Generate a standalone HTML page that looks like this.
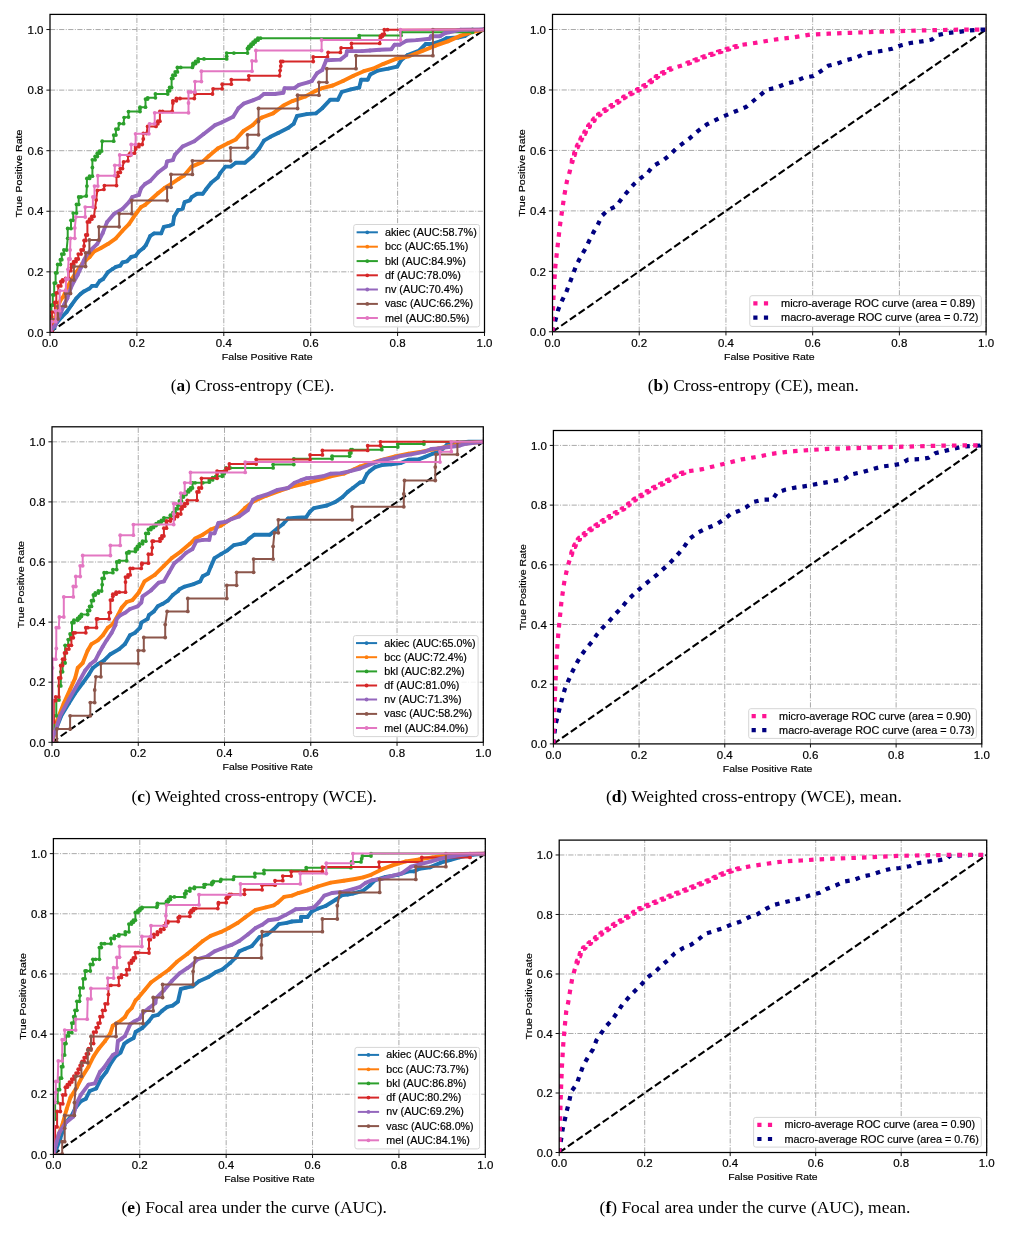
<!DOCTYPE html>
<html><head><meta charset="utf-8"><style>
html,body{margin:0;padding:0;background:#fff;}
svg{display:block;will-change:transform;}
.g{stroke:#aaaaaa;stroke-width:1;stroke-dasharray:5.2 1.45 1.0 1.45;}
.dg{stroke:#000;stroke-width:2.1;stroke-dasharray:7.4 3.2;}
.t{stroke:#111;stroke-width:1;}
.tk{font-family:"Liberation Sans",sans-serif;font-size:10px;fill:#000;stroke:#000;stroke-width:0.18px;}
.al{font-family:"Liberation Sans",sans-serif;font-size:9.9px;fill:#000;stroke:#000;stroke-width:0.18px;}
.lg{font-family:"Liberation Sans",sans-serif;font-size:10px;fill:#000;stroke:#000;stroke-width:0.18px;}
.cap{font-family:"Liberation Serif",serif;font-size:16.5px;fill:#000;}
</style></head><body>
<svg width="1010" height="1233" viewBox="0 0 1010 1233">
<g id="pa">
<clipPath id="ca"><rect x="50" y="14.4" width="434.50" height="318.00"/></clipPath>
<line x1="136.90" y1="332.4" x2="136.90" y2="14.4" class="g"/>
<line x1="50" y1="271.83" x2="484.5" y2="271.83" class="g"/>
<line x1="223.80" y1="332.4" x2="223.80" y2="14.4" class="g"/>
<line x1="50" y1="211.26" x2="484.5" y2="211.26" class="g"/>
<line x1="310.70" y1="332.4" x2="310.70" y2="14.4" class="g"/>
<line x1="50" y1="150.69" x2="484.5" y2="150.69" class="g"/>
<line x1="397.60" y1="332.4" x2="397.60" y2="14.4" class="g"/>
<line x1="50" y1="90.11" x2="484.5" y2="90.11" class="g"/>
<line x1="484.50" y1="332.4" x2="484.50" y2="14.4" class="g"/>
<line x1="50" y1="29.54" x2="484.5" y2="29.54" class="g"/>
<g clip-path="url(#ca)">
<line x1="50" y1="332.4" x2="484.5" y2="29.54" class="dg"/>
<polyline points="50.0,332.4 54.0,328.0 57.0,322.4 61.8,316.9 66.6,312.1 71.4,305.2 76.3,298.3 80.4,294.1 83.9,291.4 89.4,288.6 92.1,285.9 96.3,285.9 99.7,281.0 103.2,279.0 108.0,272.1 112.6,269.0 115.9,266.8 120.3,265.7 122.5,262.4 126.9,261.3 131.2,257.0 135.6,255.9 138.9,251.5 143.3,248.2 146.0,245.0 150.2,236.0 154.1,233.4 161.2,233.4 163.8,226.9 169.7,225.6 172.9,224.3 174.2,216.5 178.1,210.0 182.6,208.7 184.6,202.2 189.8,200.3 191.7,197.1 196.9,193.8 202.7,193.8 206.0,189.3 211.2,182.8 217.7,177.6 220.2,173.1 225.4,166.6 230.6,166.6 235.8,162.7 244.9,162.7 252.7,156.2 259.2,148.4 263.9,140.7 270.4,136.8 278.2,132.9 288.5,127.7 293.7,123.8 297.0,116.0 306.7,114.1 315.8,113.4 322.3,108.2 330.1,99.8 337.8,99.8 341.7,92.0 350.8,89.4 359.2,87.5 361.2,79.7 367.7,79.7 370.3,74.5 377.8,70.6 388.2,68.7 397.2,66.7 401.1,60.2 407.6,55.0 419.3,50.5 425.8,44.0 431.0,44.0 440.1,41.4 446.5,38.2 458.2,37.5 464.7,36.2 473.8,30.4 484.5,29.5" fill="none" stroke="#1f77b4" stroke-width="3.9" stroke-linejoin="round" stroke-linecap="round"/>
<circle cx="50.0" cy="332.4" r="1.9" fill="#1f77b4"/><circle cx="54.0" cy="328.0" r="1.9" fill="#1f77b4"/><circle cx="57.0" cy="322.4" r="1.9" fill="#1f77b4"/><circle cx="61.8" cy="316.9" r="1.9" fill="#1f77b4"/><circle cx="66.6" cy="312.1" r="1.9" fill="#1f77b4"/><circle cx="71.4" cy="305.2" r="1.9" fill="#1f77b4"/><circle cx="76.3" cy="298.3" r="1.9" fill="#1f77b4"/><circle cx="80.4" cy="294.1" r="1.9" fill="#1f77b4"/><circle cx="83.9" cy="291.4" r="1.9" fill="#1f77b4"/><circle cx="89.4" cy="288.6" r="1.9" fill="#1f77b4"/><circle cx="92.1" cy="285.9" r="1.9" fill="#1f77b4"/><circle cx="96.3" cy="285.9" r="1.9" fill="#1f77b4"/><circle cx="99.7" cy="281.0" r="1.9" fill="#1f77b4"/><circle cx="103.2" cy="279.0" r="1.9" fill="#1f77b4"/><circle cx="108.0" cy="272.1" r="1.9" fill="#1f77b4"/><circle cx="112.6" cy="269.0" r="1.9" fill="#1f77b4"/><circle cx="115.9" cy="266.8" r="1.9" fill="#1f77b4"/><circle cx="120.3" cy="265.7" r="1.9" fill="#1f77b4"/><circle cx="122.5" cy="262.4" r="1.9" fill="#1f77b4"/><circle cx="126.9" cy="261.3" r="1.9" fill="#1f77b4"/><circle cx="131.2" cy="257.0" r="1.9" fill="#1f77b4"/><circle cx="135.6" cy="255.9" r="1.9" fill="#1f77b4"/><circle cx="138.9" cy="251.5" r="1.9" fill="#1f77b4"/><circle cx="143.3" cy="248.2" r="1.9" fill="#1f77b4"/><circle cx="146.0" cy="245.0" r="1.9" fill="#1f77b4"/><circle cx="150.2" cy="236.0" r="1.9" fill="#1f77b4"/><circle cx="154.1" cy="233.4" r="1.9" fill="#1f77b4"/><circle cx="161.2" cy="233.4" r="1.9" fill="#1f77b4"/><circle cx="163.8" cy="226.9" r="1.9" fill="#1f77b4"/><circle cx="169.7" cy="225.6" r="1.9" fill="#1f77b4"/><circle cx="172.9" cy="224.3" r="1.9" fill="#1f77b4"/><circle cx="174.2" cy="216.5" r="1.9" fill="#1f77b4"/><circle cx="178.1" cy="210.0" r="1.9" fill="#1f77b4"/><circle cx="182.6" cy="208.7" r="1.9" fill="#1f77b4"/><circle cx="184.6" cy="202.2" r="1.9" fill="#1f77b4"/><circle cx="189.8" cy="200.3" r="1.9" fill="#1f77b4"/><circle cx="191.7" cy="197.1" r="1.9" fill="#1f77b4"/><circle cx="196.9" cy="193.8" r="1.9" fill="#1f77b4"/><circle cx="202.7" cy="193.8" r="1.9" fill="#1f77b4"/><circle cx="206.0" cy="189.3" r="1.9" fill="#1f77b4"/><circle cx="211.2" cy="182.8" r="1.9" fill="#1f77b4"/><circle cx="217.7" cy="177.6" r="1.9" fill="#1f77b4"/><circle cx="220.2" cy="173.1" r="1.9" fill="#1f77b4"/><circle cx="225.4" cy="166.6" r="1.9" fill="#1f77b4"/><circle cx="230.6" cy="166.6" r="1.9" fill="#1f77b4"/><circle cx="235.8" cy="162.7" r="1.9" fill="#1f77b4"/><circle cx="244.9" cy="162.7" r="1.9" fill="#1f77b4"/><circle cx="252.7" cy="156.2" r="1.9" fill="#1f77b4"/><circle cx="259.2" cy="148.4" r="1.9" fill="#1f77b4"/><circle cx="263.9" cy="140.7" r="1.9" fill="#1f77b4"/><circle cx="270.4" cy="136.8" r="1.9" fill="#1f77b4"/><circle cx="278.2" cy="132.9" r="1.9" fill="#1f77b4"/><circle cx="288.5" cy="127.7" r="1.9" fill="#1f77b4"/><circle cx="293.7" cy="123.8" r="1.9" fill="#1f77b4"/><circle cx="297.0" cy="116.0" r="1.9" fill="#1f77b4"/><circle cx="306.7" cy="114.1" r="1.9" fill="#1f77b4"/><circle cx="315.8" cy="113.4" r="1.9" fill="#1f77b4"/><circle cx="322.3" cy="108.2" r="1.9" fill="#1f77b4"/><circle cx="330.1" cy="99.8" r="1.9" fill="#1f77b4"/><circle cx="337.8" cy="99.8" r="1.9" fill="#1f77b4"/><circle cx="341.7" cy="92.0" r="1.9" fill="#1f77b4"/><circle cx="350.8" cy="89.4" r="1.9" fill="#1f77b4"/><circle cx="359.2" cy="87.5" r="1.9" fill="#1f77b4"/><circle cx="361.2" cy="79.7" r="1.9" fill="#1f77b4"/><circle cx="367.7" cy="79.7" r="1.9" fill="#1f77b4"/><circle cx="370.3" cy="74.5" r="1.9" fill="#1f77b4"/><circle cx="377.8" cy="70.6" r="1.9" fill="#1f77b4"/><circle cx="388.2" cy="68.7" r="1.9" fill="#1f77b4"/><circle cx="397.2" cy="66.7" r="1.9" fill="#1f77b4"/><circle cx="401.1" cy="60.2" r="1.9" fill="#1f77b4"/><circle cx="407.6" cy="55.0" r="1.9" fill="#1f77b4"/><circle cx="419.3" cy="50.5" r="1.9" fill="#1f77b4"/><circle cx="425.8" cy="44.0" r="1.9" fill="#1f77b4"/><circle cx="431.0" cy="44.0" r="1.9" fill="#1f77b4"/><circle cx="440.1" cy="41.4" r="1.9" fill="#1f77b4"/><circle cx="446.5" cy="38.2" r="1.9" fill="#1f77b4"/><circle cx="458.2" cy="37.5" r="1.9" fill="#1f77b4"/><circle cx="464.7" cy="36.2" r="1.9" fill="#1f77b4"/><circle cx="473.8" cy="30.4" r="1.9" fill="#1f77b4"/><circle cx="484.5" cy="29.5" r="1.9" fill="#1f77b4"/>
<polyline points="50.0,332.4 53.0,325.0 56.0,315.0 58.5,305.0 61.1,299.0 63.2,296.9 67.0,288.0 71.0,280.0 76.3,272.1 82.0,264.0 86.0,260.0 89.6,257.0 94.0,251.5 100.6,248.2 108.2,243.8 115.9,238.3 122.5,230.7 129.0,224.1 135.6,214.2 141.1,207.0 145.0,205.0 150.2,200.3 158.0,193.2 164.5,188.0 170.9,184.1 178.7,178.9 183.9,175.7 191.7,166.6 202.1,162.1 208.6,156.2 217.7,148.4 228.0,143.2 235.8,139.4 243.6,130.9 252.7,125.1 257.9,119.9 262.0,117.5 273.0,113.4 283.4,105.6 292.4,101.1 305.4,96.5 314.5,91.4 322.3,88.1 332.7,85.5 343.0,81.0 353.4,75.8 363.8,71.2 372.9,68.7 383.0,64.1 396.0,58.9 408.9,56.3 421.9,51.1 434.9,45.9 447.8,41.4 460.8,35.6 473.8,31.7 484.5,29.5" fill="none" stroke="#ff7f0e" stroke-width="3.9" stroke-linejoin="round" stroke-linecap="round"/>
<circle cx="50.0" cy="332.4" r="1.9" fill="#ff7f0e"/><circle cx="53.0" cy="325.0" r="1.9" fill="#ff7f0e"/><circle cx="56.0" cy="315.0" r="1.9" fill="#ff7f0e"/><circle cx="58.5" cy="305.0" r="1.9" fill="#ff7f0e"/><circle cx="61.1" cy="299.0" r="1.9" fill="#ff7f0e"/><circle cx="63.2" cy="296.9" r="1.9" fill="#ff7f0e"/><circle cx="67.0" cy="288.0" r="1.9" fill="#ff7f0e"/><circle cx="71.0" cy="280.0" r="1.9" fill="#ff7f0e"/><circle cx="76.3" cy="272.1" r="1.9" fill="#ff7f0e"/><circle cx="82.0" cy="264.0" r="1.9" fill="#ff7f0e"/><circle cx="86.0" cy="260.0" r="1.9" fill="#ff7f0e"/><circle cx="89.6" cy="257.0" r="1.9" fill="#ff7f0e"/><circle cx="94.0" cy="251.5" r="1.9" fill="#ff7f0e"/><circle cx="100.6" cy="248.2" r="1.9" fill="#ff7f0e"/><circle cx="108.2" cy="243.8" r="1.9" fill="#ff7f0e"/><circle cx="115.9" cy="238.3" r="1.9" fill="#ff7f0e"/><circle cx="122.5" cy="230.7" r="1.9" fill="#ff7f0e"/><circle cx="129.0" cy="224.1" r="1.9" fill="#ff7f0e"/><circle cx="135.6" cy="214.2" r="1.9" fill="#ff7f0e"/><circle cx="141.1" cy="207.0" r="1.9" fill="#ff7f0e"/><circle cx="145.0" cy="205.0" r="1.9" fill="#ff7f0e"/><circle cx="150.2" cy="200.3" r="1.9" fill="#ff7f0e"/><circle cx="158.0" cy="193.2" r="1.9" fill="#ff7f0e"/><circle cx="164.5" cy="188.0" r="1.9" fill="#ff7f0e"/><circle cx="170.9" cy="184.1" r="1.9" fill="#ff7f0e"/><circle cx="178.7" cy="178.9" r="1.9" fill="#ff7f0e"/><circle cx="183.9" cy="175.7" r="1.9" fill="#ff7f0e"/><circle cx="191.7" cy="166.6" r="1.9" fill="#ff7f0e"/><circle cx="202.1" cy="162.1" r="1.9" fill="#ff7f0e"/><circle cx="208.6" cy="156.2" r="1.9" fill="#ff7f0e"/><circle cx="217.7" cy="148.4" r="1.9" fill="#ff7f0e"/><circle cx="228.0" cy="143.2" r="1.9" fill="#ff7f0e"/><circle cx="235.8" cy="139.4" r="1.9" fill="#ff7f0e"/><circle cx="243.6" cy="130.9" r="1.9" fill="#ff7f0e"/><circle cx="252.7" cy="125.1" r="1.9" fill="#ff7f0e"/><circle cx="257.9" cy="119.9" r="1.9" fill="#ff7f0e"/><circle cx="262.0" cy="117.5" r="1.9" fill="#ff7f0e"/><circle cx="273.0" cy="113.4" r="1.9" fill="#ff7f0e"/><circle cx="283.4" cy="105.6" r="1.9" fill="#ff7f0e"/><circle cx="292.4" cy="101.1" r="1.9" fill="#ff7f0e"/><circle cx="305.4" cy="96.5" r="1.9" fill="#ff7f0e"/><circle cx="314.5" cy="91.4" r="1.9" fill="#ff7f0e"/><circle cx="322.3" cy="88.1" r="1.9" fill="#ff7f0e"/><circle cx="332.7" cy="85.5" r="1.9" fill="#ff7f0e"/><circle cx="343.0" cy="81.0" r="1.9" fill="#ff7f0e"/><circle cx="353.4" cy="75.8" r="1.9" fill="#ff7f0e"/><circle cx="363.8" cy="71.2" r="1.9" fill="#ff7f0e"/><circle cx="372.9" cy="68.7" r="1.9" fill="#ff7f0e"/><circle cx="383.0" cy="64.1" r="1.9" fill="#ff7f0e"/><circle cx="396.0" cy="58.9" r="1.9" fill="#ff7f0e"/><circle cx="408.9" cy="56.3" r="1.9" fill="#ff7f0e"/><circle cx="421.9" cy="51.1" r="1.9" fill="#ff7f0e"/><circle cx="434.9" cy="45.9" r="1.9" fill="#ff7f0e"/><circle cx="447.8" cy="41.4" r="1.9" fill="#ff7f0e"/><circle cx="460.8" cy="35.6" r="1.9" fill="#ff7f0e"/><circle cx="473.8" cy="31.7" r="1.9" fill="#ff7f0e"/><circle cx="484.5" cy="29.5" r="1.9" fill="#ff7f0e"/>
<polyline points="50.0,332.4 50.8,331.4 51.4,316.2 51.4,305.2 52.8,305.2 52.8,294.8 54.2,294.8 54.2,283.1 55.6,283.1 55.6,272.8 57.0,272.8 57.7,264.5 60.4,264.5 60.4,259.7 61.8,259.7 61.8,254.1 63.9,254.1 63.9,250.0 66.6,250.0 67.7,238.3 67.7,228.5 71.0,228.5 71.0,220.3 73.2,220.3 73.2,213.1 76.5,213.1 76.5,204.4 78.7,204.4 78.7,197.0 80.9,197.0 86.3,196.0 86.9,186.1 86.9,178.4 89.6,178.4 89.6,176.2 92.4,176.2 92.4,167.5 92.4,159.8 95.1,159.8 95.1,156.5 97.3,156.5 97.3,153.2 99.5,153.2 99.5,151.1 101.7,151.1 102.2,141.2 113.7,141.2 113.7,135.1 115.9,135.1 115.9,129.1 118.1,129.1 119.2,123.7 123.6,123.7 124.1,117.6 128.5,117.1 128.5,111.6 140.0,111.6 140.0,108.9 140.0,107.2 145.5,107.2 145.5,99.1 147.6,99.1 147.6,97.8 155.4,97.8 155.4,94.0 167.7,94.0 167.7,90.8 169.6,90.8 169.6,87.5 171.6,87.5 171.6,78.4 172.9,78.4 172.9,75.2 175.2,75.2 175.2,71.9 177.4,71.9 177.4,67.4 180.7,67.4 192.4,67.4 193.0,65.4 193.0,63.5 195.6,63.5 195.6,61.5 198.2,61.5 198.2,58.9 204.0,58.9 226.7,58.9 226.7,56.3 226.7,53.1 233.9,53.1 247.5,53.1 247.5,48.5 248.8,48.5 248.8,46.4 251.0,46.4 251.0,44.2 253.1,44.2 253.1,42.1 255.3,42.1 255.3,40.2 257.9,40.2 257.9,38.2 260.5,38.2 359.2,38.2 359.2,35.6 401.1,35.6 401.1,32.3 472.5,32.3 472.5,29.5 484.5,29.5" fill="none" stroke="#2ca02c" stroke-width="2" stroke-linejoin="round" stroke-linecap="round"/>
<circle cx="50.0" cy="332.4" r="1.9" fill="#2ca02c"/><circle cx="50.8" cy="331.4" r="1.9" fill="#2ca02c"/><circle cx="51.4" cy="316.2" r="1.9" fill="#2ca02c"/><circle cx="51.4" cy="305.2" r="1.9" fill="#2ca02c"/><circle cx="52.8" cy="305.2" r="1.9" fill="#2ca02c"/><circle cx="52.8" cy="294.8" r="1.9" fill="#2ca02c"/><circle cx="54.2" cy="294.8" r="1.9" fill="#2ca02c"/><circle cx="54.2" cy="283.1" r="1.9" fill="#2ca02c"/><circle cx="55.6" cy="283.1" r="1.9" fill="#2ca02c"/><circle cx="55.6" cy="272.8" r="1.9" fill="#2ca02c"/><circle cx="57.0" cy="272.8" r="1.9" fill="#2ca02c"/><circle cx="57.7" cy="264.5" r="1.9" fill="#2ca02c"/><circle cx="60.4" cy="264.5" r="1.9" fill="#2ca02c"/><circle cx="60.4" cy="259.7" r="1.9" fill="#2ca02c"/><circle cx="61.8" cy="259.7" r="1.9" fill="#2ca02c"/><circle cx="61.8" cy="254.1" r="1.9" fill="#2ca02c"/><circle cx="63.9" cy="254.1" r="1.9" fill="#2ca02c"/><circle cx="63.9" cy="250.0" r="1.9" fill="#2ca02c"/><circle cx="66.6" cy="250.0" r="1.9" fill="#2ca02c"/><circle cx="67.7" cy="238.3" r="1.9" fill="#2ca02c"/><circle cx="67.7" cy="228.5" r="1.9" fill="#2ca02c"/><circle cx="71.0" cy="228.5" r="1.9" fill="#2ca02c"/><circle cx="71.0" cy="220.3" r="1.9" fill="#2ca02c"/><circle cx="73.2" cy="220.3" r="1.9" fill="#2ca02c"/><circle cx="73.2" cy="213.1" r="1.9" fill="#2ca02c"/><circle cx="76.5" cy="213.1" r="1.9" fill="#2ca02c"/><circle cx="76.5" cy="204.4" r="1.9" fill="#2ca02c"/><circle cx="78.7" cy="204.4" r="1.9" fill="#2ca02c"/><circle cx="78.7" cy="197.0" r="1.9" fill="#2ca02c"/><circle cx="80.9" cy="197.0" r="1.9" fill="#2ca02c"/><circle cx="86.3" cy="196.0" r="1.9" fill="#2ca02c"/><circle cx="86.9" cy="186.1" r="1.9" fill="#2ca02c"/><circle cx="86.9" cy="178.4" r="1.9" fill="#2ca02c"/><circle cx="89.6" cy="178.4" r="1.9" fill="#2ca02c"/><circle cx="89.6" cy="176.2" r="1.9" fill="#2ca02c"/><circle cx="92.4" cy="176.2" r="1.9" fill="#2ca02c"/><circle cx="92.4" cy="167.5" r="1.9" fill="#2ca02c"/><circle cx="92.4" cy="159.8" r="1.9" fill="#2ca02c"/><circle cx="95.1" cy="159.8" r="1.9" fill="#2ca02c"/><circle cx="95.1" cy="156.5" r="1.9" fill="#2ca02c"/><circle cx="97.3" cy="156.5" r="1.9" fill="#2ca02c"/><circle cx="97.3" cy="153.2" r="1.9" fill="#2ca02c"/><circle cx="99.5" cy="153.2" r="1.9" fill="#2ca02c"/><circle cx="99.5" cy="151.1" r="1.9" fill="#2ca02c"/><circle cx="101.7" cy="151.1" r="1.9" fill="#2ca02c"/><circle cx="102.2" cy="141.2" r="1.9" fill="#2ca02c"/><circle cx="113.7" cy="141.2" r="1.9" fill="#2ca02c"/><circle cx="113.7" cy="135.1" r="1.9" fill="#2ca02c"/><circle cx="115.9" cy="135.1" r="1.9" fill="#2ca02c"/><circle cx="115.9" cy="129.1" r="1.9" fill="#2ca02c"/><circle cx="118.1" cy="129.1" r="1.9" fill="#2ca02c"/><circle cx="119.2" cy="123.7" r="1.9" fill="#2ca02c"/><circle cx="123.6" cy="123.7" r="1.9" fill="#2ca02c"/><circle cx="124.1" cy="117.6" r="1.9" fill="#2ca02c"/><circle cx="128.5" cy="117.1" r="1.9" fill="#2ca02c"/><circle cx="128.5" cy="111.6" r="1.9" fill="#2ca02c"/><circle cx="140.0" cy="111.6" r="1.9" fill="#2ca02c"/><circle cx="140.0" cy="108.9" r="1.9" fill="#2ca02c"/><circle cx="140.0" cy="107.2" r="1.9" fill="#2ca02c"/><circle cx="145.5" cy="107.2" r="1.9" fill="#2ca02c"/><circle cx="145.5" cy="99.1" r="1.9" fill="#2ca02c"/><circle cx="147.6" cy="99.1" r="1.9" fill="#2ca02c"/><circle cx="147.6" cy="97.8" r="1.9" fill="#2ca02c"/><circle cx="155.4" cy="97.8" r="1.9" fill="#2ca02c"/><circle cx="155.4" cy="94.0" r="1.9" fill="#2ca02c"/><circle cx="167.7" cy="94.0" r="1.9" fill="#2ca02c"/><circle cx="167.7" cy="90.8" r="1.9" fill="#2ca02c"/><circle cx="169.6" cy="90.8" r="1.9" fill="#2ca02c"/><circle cx="169.6" cy="87.5" r="1.9" fill="#2ca02c"/><circle cx="171.6" cy="87.5" r="1.9" fill="#2ca02c"/><circle cx="171.6" cy="78.4" r="1.9" fill="#2ca02c"/><circle cx="172.9" cy="78.4" r="1.9" fill="#2ca02c"/><circle cx="172.9" cy="75.2" r="1.9" fill="#2ca02c"/><circle cx="175.2" cy="75.2" r="1.9" fill="#2ca02c"/><circle cx="175.2" cy="71.9" r="1.9" fill="#2ca02c"/><circle cx="177.4" cy="71.9" r="1.9" fill="#2ca02c"/><circle cx="177.4" cy="67.4" r="1.9" fill="#2ca02c"/><circle cx="180.7" cy="67.4" r="1.9" fill="#2ca02c"/><circle cx="192.4" cy="67.4" r="1.9" fill="#2ca02c"/><circle cx="193.0" cy="65.4" r="1.9" fill="#2ca02c"/><circle cx="193.0" cy="63.5" r="1.9" fill="#2ca02c"/><circle cx="195.6" cy="63.5" r="1.9" fill="#2ca02c"/><circle cx="195.6" cy="61.5" r="1.9" fill="#2ca02c"/><circle cx="198.2" cy="61.5" r="1.9" fill="#2ca02c"/><circle cx="198.2" cy="58.9" r="1.9" fill="#2ca02c"/><circle cx="204.0" cy="58.9" r="1.9" fill="#2ca02c"/><circle cx="226.7" cy="58.9" r="1.9" fill="#2ca02c"/><circle cx="226.7" cy="56.3" r="1.9" fill="#2ca02c"/><circle cx="226.7" cy="53.1" r="1.9" fill="#2ca02c"/><circle cx="233.9" cy="53.1" r="1.9" fill="#2ca02c"/><circle cx="247.5" cy="53.1" r="1.9" fill="#2ca02c"/><circle cx="247.5" cy="48.5" r="1.9" fill="#2ca02c"/><circle cx="248.8" cy="48.5" r="1.9" fill="#2ca02c"/><circle cx="248.8" cy="46.4" r="1.9" fill="#2ca02c"/><circle cx="251.0" cy="46.4" r="1.9" fill="#2ca02c"/><circle cx="251.0" cy="44.2" r="1.9" fill="#2ca02c"/><circle cx="253.1" cy="44.2" r="1.9" fill="#2ca02c"/><circle cx="253.1" cy="42.1" r="1.9" fill="#2ca02c"/><circle cx="255.3" cy="42.1" r="1.9" fill="#2ca02c"/><circle cx="255.3" cy="40.2" r="1.9" fill="#2ca02c"/><circle cx="257.9" cy="40.2" r="1.9" fill="#2ca02c"/><circle cx="257.9" cy="38.2" r="1.9" fill="#2ca02c"/><circle cx="260.5" cy="38.2" r="1.9" fill="#2ca02c"/><circle cx="359.2" cy="38.2" r="1.9" fill="#2ca02c"/><circle cx="359.2" cy="35.6" r="1.9" fill="#2ca02c"/><circle cx="401.1" cy="35.6" r="1.9" fill="#2ca02c"/><circle cx="401.1" cy="32.3" r="1.9" fill="#2ca02c"/><circle cx="472.5" cy="32.3" r="1.9" fill="#2ca02c"/><circle cx="472.5" cy="29.5" r="1.9" fill="#2ca02c"/><circle cx="484.5" cy="29.5" r="1.9" fill="#2ca02c"/>
<polyline points="50.0,332.4 52.1,331.4 52.1,312.1 54.9,312.1 54.9,302.4 56.3,302.4 56.3,292.8 58.3,292.8 58.3,285.9 60.8,285.9 60.8,281.7 62.5,281.7 62.5,280.0 65.6,280.0 65.6,278.3 68.7,278.3 68.7,270.7 70.8,270.7 71.4,267.2 71.4,264.5 73.7,264.5 73.7,261.7 76.0,261.7 76.0,259.0 78.3,259.0 78.3,254.1 81.1,254.1 81.1,250.0 83.2,250.0 84.1,246.0 84.1,240.5 85.8,240.5 85.8,235.0 87.4,235.0 87.4,221.9 89.6,221.9 89.6,219.2 91.8,219.2 91.8,216.4 94.0,216.4 95.1,207.7 96.2,200.0 97.3,190.5 103.9,189.4 104.4,185.6 116.5,185.6 116.5,176.2 118.1,176.2 118.1,172.4 120.3,172.4 120.3,168.6 122.5,168.6 123.6,162.0 128.0,160.9 128.0,155.4 130.1,155.4 130.1,153.2 134.5,153.2 135.6,148.9 135.6,146.7 138.9,146.7 138.9,144.5 142.2,144.5 143.3,139.0 143.3,133.5 146.6,133.5 147.6,126.4 156.0,126.4 156.0,123.8 157.9,123.8 157.9,121.2 159.9,121.2 159.9,111.5 162.5,111.5 172.2,111.5 172.9,103.0 172.9,100.8 176.4,100.8 176.4,98.5 180.0,98.5 194.3,98.5 195.0,94.0 212.5,94.0 213.1,88.8 222.2,88.8 222.2,84.2 231.3,84.2 231.3,79.7 248.8,79.7 248.8,75.8 279.5,75.8 280.1,70.6 280.8,66.1 280.8,61.5 282.7,61.5 313.2,61.5 313.2,57.0 327.5,57.0 328.1,52.4 340.4,52.4 341.1,47.9 351.5,47.9 351.5,43.4 379.7,43.4 380.4,38.2 380.4,36.2 382.4,36.2 382.4,34.3 384.3,34.3 384.3,29.7 387.5,29.7 484.5,29.5" fill="none" stroke="#d62728" stroke-width="2" stroke-linejoin="round" stroke-linecap="round"/>
<circle cx="50.0" cy="332.4" r="1.9" fill="#d62728"/><circle cx="52.1" cy="331.4" r="1.9" fill="#d62728"/><circle cx="52.1" cy="312.1" r="1.9" fill="#d62728"/><circle cx="54.9" cy="312.1" r="1.9" fill="#d62728"/><circle cx="54.9" cy="302.4" r="1.9" fill="#d62728"/><circle cx="56.3" cy="302.4" r="1.9" fill="#d62728"/><circle cx="56.3" cy="292.8" r="1.9" fill="#d62728"/><circle cx="58.3" cy="292.8" r="1.9" fill="#d62728"/><circle cx="58.3" cy="285.9" r="1.9" fill="#d62728"/><circle cx="60.8" cy="285.9" r="1.9" fill="#d62728"/><circle cx="60.8" cy="281.7" r="1.9" fill="#d62728"/><circle cx="62.5" cy="281.7" r="1.9" fill="#d62728"/><circle cx="62.5" cy="280.0" r="1.9" fill="#d62728"/><circle cx="65.6" cy="280.0" r="1.9" fill="#d62728"/><circle cx="65.6" cy="278.3" r="1.9" fill="#d62728"/><circle cx="68.7" cy="278.3" r="1.9" fill="#d62728"/><circle cx="68.7" cy="270.7" r="1.9" fill="#d62728"/><circle cx="70.8" cy="270.7" r="1.9" fill="#d62728"/><circle cx="71.4" cy="267.2" r="1.9" fill="#d62728"/><circle cx="71.4" cy="264.5" r="1.9" fill="#d62728"/><circle cx="73.7" cy="264.5" r="1.9" fill="#d62728"/><circle cx="73.7" cy="261.7" r="1.9" fill="#d62728"/><circle cx="76.0" cy="261.7" r="1.9" fill="#d62728"/><circle cx="76.0" cy="259.0" r="1.9" fill="#d62728"/><circle cx="78.3" cy="259.0" r="1.9" fill="#d62728"/><circle cx="78.3" cy="254.1" r="1.9" fill="#d62728"/><circle cx="81.1" cy="254.1" r="1.9" fill="#d62728"/><circle cx="81.1" cy="250.0" r="1.9" fill="#d62728"/><circle cx="83.2" cy="250.0" r="1.9" fill="#d62728"/><circle cx="84.1" cy="246.0" r="1.9" fill="#d62728"/><circle cx="84.1" cy="240.5" r="1.9" fill="#d62728"/><circle cx="85.8" cy="240.5" r="1.9" fill="#d62728"/><circle cx="85.8" cy="235.0" r="1.9" fill="#d62728"/><circle cx="87.4" cy="235.0" r="1.9" fill="#d62728"/><circle cx="87.4" cy="221.9" r="1.9" fill="#d62728"/><circle cx="89.6" cy="221.9" r="1.9" fill="#d62728"/><circle cx="89.6" cy="219.2" r="1.9" fill="#d62728"/><circle cx="91.8" cy="219.2" r="1.9" fill="#d62728"/><circle cx="91.8" cy="216.4" r="1.9" fill="#d62728"/><circle cx="94.0" cy="216.4" r="1.9" fill="#d62728"/><circle cx="95.1" cy="207.7" r="1.9" fill="#d62728"/><circle cx="96.2" cy="200.0" r="1.9" fill="#d62728"/><circle cx="97.3" cy="190.5" r="1.9" fill="#d62728"/><circle cx="103.9" cy="189.4" r="1.9" fill="#d62728"/><circle cx="104.4" cy="185.6" r="1.9" fill="#d62728"/><circle cx="116.5" cy="185.6" r="1.9" fill="#d62728"/><circle cx="116.5" cy="176.2" r="1.9" fill="#d62728"/><circle cx="118.1" cy="176.2" r="1.9" fill="#d62728"/><circle cx="118.1" cy="172.4" r="1.9" fill="#d62728"/><circle cx="120.3" cy="172.4" r="1.9" fill="#d62728"/><circle cx="120.3" cy="168.6" r="1.9" fill="#d62728"/><circle cx="122.5" cy="168.6" r="1.9" fill="#d62728"/><circle cx="123.6" cy="162.0" r="1.9" fill="#d62728"/><circle cx="128.0" cy="160.9" r="1.9" fill="#d62728"/><circle cx="128.0" cy="155.4" r="1.9" fill="#d62728"/><circle cx="130.1" cy="155.4" r="1.9" fill="#d62728"/><circle cx="130.1" cy="153.2" r="1.9" fill="#d62728"/><circle cx="134.5" cy="153.2" r="1.9" fill="#d62728"/><circle cx="135.6" cy="148.9" r="1.9" fill="#d62728"/><circle cx="135.6" cy="146.7" r="1.9" fill="#d62728"/><circle cx="138.9" cy="146.7" r="1.9" fill="#d62728"/><circle cx="138.9" cy="144.5" r="1.9" fill="#d62728"/><circle cx="142.2" cy="144.5" r="1.9" fill="#d62728"/><circle cx="143.3" cy="139.0" r="1.9" fill="#d62728"/><circle cx="143.3" cy="133.5" r="1.9" fill="#d62728"/><circle cx="146.6" cy="133.5" r="1.9" fill="#d62728"/><circle cx="147.6" cy="126.4" r="1.9" fill="#d62728"/><circle cx="156.0" cy="126.4" r="1.9" fill="#d62728"/><circle cx="156.0" cy="123.8" r="1.9" fill="#d62728"/><circle cx="157.9" cy="123.8" r="1.9" fill="#d62728"/><circle cx="157.9" cy="121.2" r="1.9" fill="#d62728"/><circle cx="159.9" cy="121.2" r="1.9" fill="#d62728"/><circle cx="159.9" cy="111.5" r="1.9" fill="#d62728"/><circle cx="162.5" cy="111.5" r="1.9" fill="#d62728"/><circle cx="172.2" cy="111.5" r="1.9" fill="#d62728"/><circle cx="172.9" cy="103.0" r="1.9" fill="#d62728"/><circle cx="172.9" cy="100.8" r="1.9" fill="#d62728"/><circle cx="176.4" cy="100.8" r="1.9" fill="#d62728"/><circle cx="176.4" cy="98.5" r="1.9" fill="#d62728"/><circle cx="180.0" cy="98.5" r="1.9" fill="#d62728"/><circle cx="194.3" cy="98.5" r="1.9" fill="#d62728"/><circle cx="195.0" cy="94.0" r="1.9" fill="#d62728"/><circle cx="212.5" cy="94.0" r="1.9" fill="#d62728"/><circle cx="213.1" cy="88.8" r="1.9" fill="#d62728"/><circle cx="222.2" cy="88.8" r="1.9" fill="#d62728"/><circle cx="222.2" cy="84.2" r="1.9" fill="#d62728"/><circle cx="231.3" cy="84.2" r="1.9" fill="#d62728"/><circle cx="231.3" cy="79.7" r="1.9" fill="#d62728"/><circle cx="248.8" cy="79.7" r="1.9" fill="#d62728"/><circle cx="248.8" cy="75.8" r="1.9" fill="#d62728"/><circle cx="279.5" cy="75.8" r="1.9" fill="#d62728"/><circle cx="280.1" cy="70.6" r="1.9" fill="#d62728"/><circle cx="280.8" cy="66.1" r="1.9" fill="#d62728"/><circle cx="280.8" cy="61.5" r="1.9" fill="#d62728"/><circle cx="282.7" cy="61.5" r="1.9" fill="#d62728"/><circle cx="313.2" cy="61.5" r="1.9" fill="#d62728"/><circle cx="313.2" cy="57.0" r="1.9" fill="#d62728"/><circle cx="327.5" cy="57.0" r="1.9" fill="#d62728"/><circle cx="328.1" cy="52.4" r="1.9" fill="#d62728"/><circle cx="340.4" cy="52.4" r="1.9" fill="#d62728"/><circle cx="341.1" cy="47.9" r="1.9" fill="#d62728"/><circle cx="351.5" cy="47.9" r="1.9" fill="#d62728"/><circle cx="351.5" cy="43.4" r="1.9" fill="#d62728"/><circle cx="379.7" cy="43.4" r="1.9" fill="#d62728"/><circle cx="380.4" cy="38.2" r="1.9" fill="#d62728"/><circle cx="380.4" cy="36.2" r="1.9" fill="#d62728"/><circle cx="382.4" cy="36.2" r="1.9" fill="#d62728"/><circle cx="382.4" cy="34.3" r="1.9" fill="#d62728"/><circle cx="384.3" cy="34.3" r="1.9" fill="#d62728"/><circle cx="384.3" cy="29.7" r="1.9" fill="#d62728"/><circle cx="387.5" cy="29.7" r="1.9" fill="#d62728"/><circle cx="484.5" cy="29.5" r="1.9" fill="#d62728"/>
<polyline points="50.0,332.4 51.3,329.2 54.9,325.9 59.7,315.5 63.9,305.2 67.3,298.3 70.8,287.9 74.2,281.0 77.7,274.8 81.1,267.2 83.9,260.3 87.3,254.1 90.8,250.0 97.3,243.8 102.8,232.9 107.1,221.9 113.7,214.2 122.5,208.8 129.0,202.2 132.3,197.0 138.9,194.9 141.1,188.3 145.0,184.0 150.2,181.0 158.0,172.5 165.8,166.6 167.1,161.4 172.9,160.1 174.8,154.9 182.6,146.5 194.3,141.3 203.4,134.2 215.1,125.1 221.5,122.5 233.2,116.7 238.4,108.2 243.6,103.7 252.7,100.4 259.2,97.8 263.9,94.0 274.9,94.0 283.4,92.7 284.6,88.1 294.4,88.1 298.9,84.9 308.0,82.3 311.9,81.0 317.1,73.2 322.3,70.0 326.2,60.2 340.4,59.6 346.3,55.0 346.9,51.1 361.8,51.1 370.0,50.5 379.7,49.8 391.4,49.2 394.6,44.7 399.8,44.7 406.3,40.8 416.7,40.1 429.7,38.8 431.0,36.2 440.1,36.2 445.2,33.0 449.1,32.3 460.8,29.7 484.5,29.5" fill="none" stroke="#9467bd" stroke-width="3.9" stroke-linejoin="round" stroke-linecap="round"/>
<circle cx="50.0" cy="332.4" r="1.9" fill="#9467bd"/><circle cx="51.3" cy="329.2" r="1.9" fill="#9467bd"/><circle cx="54.9" cy="325.9" r="1.9" fill="#9467bd"/><circle cx="59.7" cy="315.5" r="1.9" fill="#9467bd"/><circle cx="63.9" cy="305.2" r="1.9" fill="#9467bd"/><circle cx="67.3" cy="298.3" r="1.9" fill="#9467bd"/><circle cx="70.8" cy="287.9" r="1.9" fill="#9467bd"/><circle cx="74.2" cy="281.0" r="1.9" fill="#9467bd"/><circle cx="77.7" cy="274.8" r="1.9" fill="#9467bd"/><circle cx="81.1" cy="267.2" r="1.9" fill="#9467bd"/><circle cx="83.9" cy="260.3" r="1.9" fill="#9467bd"/><circle cx="87.3" cy="254.1" r="1.9" fill="#9467bd"/><circle cx="90.8" cy="250.0" r="1.9" fill="#9467bd"/><circle cx="97.3" cy="243.8" r="1.9" fill="#9467bd"/><circle cx="102.8" cy="232.9" r="1.9" fill="#9467bd"/><circle cx="107.1" cy="221.9" r="1.9" fill="#9467bd"/><circle cx="113.7" cy="214.2" r="1.9" fill="#9467bd"/><circle cx="122.5" cy="208.8" r="1.9" fill="#9467bd"/><circle cx="129.0" cy="202.2" r="1.9" fill="#9467bd"/><circle cx="132.3" cy="197.0" r="1.9" fill="#9467bd"/><circle cx="138.9" cy="194.9" r="1.9" fill="#9467bd"/><circle cx="141.1" cy="188.3" r="1.9" fill="#9467bd"/><circle cx="145.0" cy="184.0" r="1.9" fill="#9467bd"/><circle cx="150.2" cy="181.0" r="1.9" fill="#9467bd"/><circle cx="158.0" cy="172.5" r="1.9" fill="#9467bd"/><circle cx="165.8" cy="166.6" r="1.9" fill="#9467bd"/><circle cx="167.1" cy="161.4" r="1.9" fill="#9467bd"/><circle cx="172.9" cy="160.1" r="1.9" fill="#9467bd"/><circle cx="174.8" cy="154.9" r="1.9" fill="#9467bd"/><circle cx="182.6" cy="146.5" r="1.9" fill="#9467bd"/><circle cx="194.3" cy="141.3" r="1.9" fill="#9467bd"/><circle cx="203.4" cy="134.2" r="1.9" fill="#9467bd"/><circle cx="215.1" cy="125.1" r="1.9" fill="#9467bd"/><circle cx="221.5" cy="122.5" r="1.9" fill="#9467bd"/><circle cx="233.2" cy="116.7" r="1.9" fill="#9467bd"/><circle cx="238.4" cy="108.2" r="1.9" fill="#9467bd"/><circle cx="243.6" cy="103.7" r="1.9" fill="#9467bd"/><circle cx="252.7" cy="100.4" r="1.9" fill="#9467bd"/><circle cx="259.2" cy="97.8" r="1.9" fill="#9467bd"/><circle cx="263.9" cy="94.0" r="1.9" fill="#9467bd"/><circle cx="274.9" cy="94.0" r="1.9" fill="#9467bd"/><circle cx="283.4" cy="92.7" r="1.9" fill="#9467bd"/><circle cx="284.6" cy="88.1" r="1.9" fill="#9467bd"/><circle cx="294.4" cy="88.1" r="1.9" fill="#9467bd"/><circle cx="298.9" cy="84.9" r="1.9" fill="#9467bd"/><circle cx="308.0" cy="82.3" r="1.9" fill="#9467bd"/><circle cx="311.9" cy="81.0" r="1.9" fill="#9467bd"/><circle cx="317.1" cy="73.2" r="1.9" fill="#9467bd"/><circle cx="322.3" cy="70.0" r="1.9" fill="#9467bd"/><circle cx="326.2" cy="60.2" r="1.9" fill="#9467bd"/><circle cx="340.4" cy="59.6" r="1.9" fill="#9467bd"/><circle cx="346.3" cy="55.0" r="1.9" fill="#9467bd"/><circle cx="346.9" cy="51.1" r="1.9" fill="#9467bd"/><circle cx="361.8" cy="51.1" r="1.9" fill="#9467bd"/><circle cx="370.0" cy="50.5" r="1.9" fill="#9467bd"/><circle cx="379.7" cy="49.8" r="1.9" fill="#9467bd"/><circle cx="391.4" cy="49.2" r="1.9" fill="#9467bd"/><circle cx="394.6" cy="44.7" r="1.9" fill="#9467bd"/><circle cx="399.8" cy="44.7" r="1.9" fill="#9467bd"/><circle cx="406.3" cy="40.8" r="1.9" fill="#9467bd"/><circle cx="416.7" cy="40.1" r="1.9" fill="#9467bd"/><circle cx="429.7" cy="38.8" r="1.9" fill="#9467bd"/><circle cx="431.0" cy="36.2" r="1.9" fill="#9467bd"/><circle cx="440.1" cy="36.2" r="1.9" fill="#9467bd"/><circle cx="445.2" cy="33.0" r="1.9" fill="#9467bd"/><circle cx="449.1" cy="32.3" r="1.9" fill="#9467bd"/><circle cx="460.8" cy="29.7" r="1.9" fill="#9467bd"/><circle cx="484.5" cy="29.5" r="1.9" fill="#9467bd"/>
<polyline points="50.0,332.4 50.1,319.0 58.0,319.0 58.0,306.2 65.6,306.2 65.6,293.4 70.5,293.4 70.5,280.0 73.9,280.0 73.9,266.6 85.6,266.6 85.6,252.8 89.4,252.8 89.4,240.0 98.9,240.0 98.9,226.8 119.2,226.8 119.2,213.7 131.8,213.7 131.8,200.5 167.1,200.5 167.1,187.3 171.0,187.3 171.0,174.4 192.4,174.4 192.4,160.8 230.6,160.8 230.6,147.8 247.5,147.8 247.5,134.8 258.5,134.8 258.5,121.5 258.5,108.5 297.6,108.5 297.6,95.2 319.0,95.2 319.0,82.3 326.8,82.3 326.8,68.7 356.0,68.7 356.0,55.7 432.9,55.7 432.9,29.6 484.5,29.5" fill="none" stroke="#8c564b" stroke-width="2" stroke-linejoin="round" stroke-linecap="round"/>
<circle cx="50.0" cy="332.4" r="1.9" fill="#8c564b"/><circle cx="50.1" cy="319.0" r="1.9" fill="#8c564b"/><circle cx="58.0" cy="319.0" r="1.9" fill="#8c564b"/><circle cx="58.0" cy="306.2" r="1.9" fill="#8c564b"/><circle cx="65.6" cy="306.2" r="1.9" fill="#8c564b"/><circle cx="65.6" cy="293.4" r="1.9" fill="#8c564b"/><circle cx="70.5" cy="293.4" r="1.9" fill="#8c564b"/><circle cx="70.5" cy="280.0" r="1.9" fill="#8c564b"/><circle cx="73.9" cy="280.0" r="1.9" fill="#8c564b"/><circle cx="73.9" cy="266.6" r="1.9" fill="#8c564b"/><circle cx="85.6" cy="266.6" r="1.9" fill="#8c564b"/><circle cx="85.6" cy="252.8" r="1.9" fill="#8c564b"/><circle cx="89.4" cy="252.8" r="1.9" fill="#8c564b"/><circle cx="89.4" cy="240.0" r="1.9" fill="#8c564b"/><circle cx="98.9" cy="240.0" r="1.9" fill="#8c564b"/><circle cx="98.9" cy="226.8" r="1.9" fill="#8c564b"/><circle cx="119.2" cy="226.8" r="1.9" fill="#8c564b"/><circle cx="119.2" cy="213.7" r="1.9" fill="#8c564b"/><circle cx="131.8" cy="213.7" r="1.9" fill="#8c564b"/><circle cx="131.8" cy="200.5" r="1.9" fill="#8c564b"/><circle cx="167.1" cy="200.5" r="1.9" fill="#8c564b"/><circle cx="167.1" cy="187.3" r="1.9" fill="#8c564b"/><circle cx="171.0" cy="187.3" r="1.9" fill="#8c564b"/><circle cx="171.0" cy="174.4" r="1.9" fill="#8c564b"/><circle cx="192.4" cy="174.4" r="1.9" fill="#8c564b"/><circle cx="192.4" cy="160.8" r="1.9" fill="#8c564b"/><circle cx="230.6" cy="160.8" r="1.9" fill="#8c564b"/><circle cx="230.6" cy="147.8" r="1.9" fill="#8c564b"/><circle cx="247.5" cy="147.8" r="1.9" fill="#8c564b"/><circle cx="247.5" cy="134.8" r="1.9" fill="#8c564b"/><circle cx="258.5" cy="134.8" r="1.9" fill="#8c564b"/><circle cx="258.5" cy="121.5" r="1.9" fill="#8c564b"/><circle cx="258.5" cy="108.5" r="1.9" fill="#8c564b"/><circle cx="297.6" cy="108.5" r="1.9" fill="#8c564b"/><circle cx="297.6" cy="95.2" r="1.9" fill="#8c564b"/><circle cx="319.0" cy="95.2" r="1.9" fill="#8c564b"/><circle cx="319.0" cy="82.3" r="1.9" fill="#8c564b"/><circle cx="326.8" cy="82.3" r="1.9" fill="#8c564b"/><circle cx="326.8" cy="68.7" r="1.9" fill="#8c564b"/><circle cx="356.0" cy="68.7" r="1.9" fill="#8c564b"/><circle cx="356.0" cy="55.7" r="1.9" fill="#8c564b"/><circle cx="432.9" cy="55.7" r="1.9" fill="#8c564b"/><circle cx="432.9" cy="29.6" r="1.9" fill="#8c564b"/><circle cx="484.5" cy="29.5" r="1.9" fill="#8c564b"/>
<polyline points="50.0,332.4 50.8,331.4 51.4,321.7 55.6,321.7 55.6,310.7 59.7,310.7 59.7,290.7 65.9,290.7 65.9,279.0 68.0,279.0 68.0,269.3 68.7,259.0 70.1,259.0 70.1,250.0 70.5,238.3 74.8,238.3 74.8,227.9 75.9,217.0 85.2,217.0 85.2,207.1 92.9,207.1 92.9,197.0 94.5,197.0 94.5,186.1 97.8,186.1 97.8,175.7 114.8,175.7 114.8,165.3 119.7,165.3 119.7,154.9 131.2,154.9 131.2,144.5 135.6,144.5 135.6,133.8 148.9,133.8 149.5,123.8 154.7,123.8 154.7,112.8 188.5,112.8 188.5,103.0 188.5,92.0 191.1,92.0 195.0,92.0 195.0,81.6 201.4,81.6 201.4,71.2 252.0,71.2 252.0,60.9 255.9,60.9 255.9,50.5 321.6,50.5 321.6,40.0 400.5,40.0 400.5,29.7 484.5,29.5" fill="none" stroke="#e377c2" stroke-width="2" stroke-linejoin="round" stroke-linecap="round"/>
<circle cx="50.0" cy="332.4" r="1.9" fill="#e377c2"/><circle cx="50.8" cy="331.4" r="1.9" fill="#e377c2"/><circle cx="51.4" cy="321.7" r="1.9" fill="#e377c2"/><circle cx="55.6" cy="321.7" r="1.9" fill="#e377c2"/><circle cx="55.6" cy="310.7" r="1.9" fill="#e377c2"/><circle cx="59.7" cy="310.7" r="1.9" fill="#e377c2"/><circle cx="59.7" cy="290.7" r="1.9" fill="#e377c2"/><circle cx="65.9" cy="290.7" r="1.9" fill="#e377c2"/><circle cx="65.9" cy="279.0" r="1.9" fill="#e377c2"/><circle cx="68.0" cy="279.0" r="1.9" fill="#e377c2"/><circle cx="68.0" cy="269.3" r="1.9" fill="#e377c2"/><circle cx="68.7" cy="259.0" r="1.9" fill="#e377c2"/><circle cx="70.1" cy="259.0" r="1.9" fill="#e377c2"/><circle cx="70.1" cy="250.0" r="1.9" fill="#e377c2"/><circle cx="70.5" cy="238.3" r="1.9" fill="#e377c2"/><circle cx="74.8" cy="238.3" r="1.9" fill="#e377c2"/><circle cx="74.8" cy="227.9" r="1.9" fill="#e377c2"/><circle cx="75.9" cy="217.0" r="1.9" fill="#e377c2"/><circle cx="85.2" cy="217.0" r="1.9" fill="#e377c2"/><circle cx="85.2" cy="207.1" r="1.9" fill="#e377c2"/><circle cx="92.9" cy="207.1" r="1.9" fill="#e377c2"/><circle cx="92.9" cy="197.0" r="1.9" fill="#e377c2"/><circle cx="94.5" cy="197.0" r="1.9" fill="#e377c2"/><circle cx="94.5" cy="186.1" r="1.9" fill="#e377c2"/><circle cx="97.8" cy="186.1" r="1.9" fill="#e377c2"/><circle cx="97.8" cy="175.7" r="1.9" fill="#e377c2"/><circle cx="114.8" cy="175.7" r="1.9" fill="#e377c2"/><circle cx="114.8" cy="165.3" r="1.9" fill="#e377c2"/><circle cx="119.7" cy="165.3" r="1.9" fill="#e377c2"/><circle cx="119.7" cy="154.9" r="1.9" fill="#e377c2"/><circle cx="131.2" cy="154.9" r="1.9" fill="#e377c2"/><circle cx="131.2" cy="144.5" r="1.9" fill="#e377c2"/><circle cx="135.6" cy="144.5" r="1.9" fill="#e377c2"/><circle cx="135.6" cy="133.8" r="1.9" fill="#e377c2"/><circle cx="148.9" cy="133.8" r="1.9" fill="#e377c2"/><circle cx="149.5" cy="123.8" r="1.9" fill="#e377c2"/><circle cx="154.7" cy="123.8" r="1.9" fill="#e377c2"/><circle cx="154.7" cy="112.8" r="1.9" fill="#e377c2"/><circle cx="188.5" cy="112.8" r="1.9" fill="#e377c2"/><circle cx="188.5" cy="103.0" r="1.9" fill="#e377c2"/><circle cx="188.5" cy="92.0" r="1.9" fill="#e377c2"/><circle cx="191.1" cy="92.0" r="1.9" fill="#e377c2"/><circle cx="195.0" cy="92.0" r="1.9" fill="#e377c2"/><circle cx="195.0" cy="81.6" r="1.9" fill="#e377c2"/><circle cx="201.4" cy="81.6" r="1.9" fill="#e377c2"/><circle cx="201.4" cy="71.2" r="1.9" fill="#e377c2"/><circle cx="252.0" cy="71.2" r="1.9" fill="#e377c2"/><circle cx="252.0" cy="60.9" r="1.9" fill="#e377c2"/><circle cx="255.9" cy="60.9" r="1.9" fill="#e377c2"/><circle cx="255.9" cy="50.5" r="1.9" fill="#e377c2"/><circle cx="321.6" cy="50.5" r="1.9" fill="#e377c2"/><circle cx="321.6" cy="40.0" r="1.9" fill="#e377c2"/><circle cx="400.5" cy="40.0" r="1.9" fill="#e377c2"/><circle cx="400.5" cy="29.7" r="1.9" fill="#e377c2"/><circle cx="484.5" cy="29.5" r="1.9" fill="#e377c2"/>
</g>
<rect x="50" y="14.4" width="434.50" height="318.00" fill="none" stroke="#000" stroke-width="1.25"/>
<line x1="50.00" y1="332.4" x2="50.00" y2="336.00" class="t"/>
<line x1="46.40" y1="332.40" x2="50" y2="332.40" class="t"/>
<text x="42.00" y="347.20" class="tk" textLength="16" lengthAdjust="spacingAndGlyphs">0.0</text>
<text x="27.50" y="336.60" class="tk" textLength="16" lengthAdjust="spacingAndGlyphs">0.0</text>
<line x1="136.90" y1="332.4" x2="136.90" y2="336.00" class="t"/>
<line x1="46.40" y1="271.83" x2="50" y2="271.83" class="t"/>
<text x="128.90" y="347.20" class="tk" textLength="16" lengthAdjust="spacingAndGlyphs">0.2</text>
<text x="27.50" y="276.03" class="tk" textLength="16" lengthAdjust="spacingAndGlyphs">0.2</text>
<line x1="223.80" y1="332.4" x2="223.80" y2="336.00" class="t"/>
<line x1="46.40" y1="211.26" x2="50" y2="211.26" class="t"/>
<text x="215.80" y="347.20" class="tk" textLength="16" lengthAdjust="spacingAndGlyphs">0.4</text>
<text x="27.50" y="215.46" class="tk" textLength="16" lengthAdjust="spacingAndGlyphs">0.4</text>
<line x1="310.70" y1="332.4" x2="310.70" y2="336.00" class="t"/>
<line x1="46.40" y1="150.69" x2="50" y2="150.69" class="t"/>
<text x="302.70" y="347.20" class="tk" textLength="16" lengthAdjust="spacingAndGlyphs">0.6</text>
<text x="27.50" y="154.89" class="tk" textLength="16" lengthAdjust="spacingAndGlyphs">0.6</text>
<line x1="397.60" y1="332.4" x2="397.60" y2="336.00" class="t"/>
<line x1="46.40" y1="90.11" x2="50" y2="90.11" class="t"/>
<text x="389.60" y="347.20" class="tk" textLength="16" lengthAdjust="spacingAndGlyphs">0.8</text>
<text x="27.50" y="94.31" class="tk" textLength="16" lengthAdjust="spacingAndGlyphs">0.8</text>
<line x1="484.50" y1="332.4" x2="484.50" y2="336.00" class="t"/>
<line x1="46.40" y1="29.54" x2="50" y2="29.54" class="t"/>
<text x="476.50" y="347.20" class="tk" textLength="16" lengthAdjust="spacingAndGlyphs">1.0</text>
<text x="27.50" y="33.74" class="tk" textLength="16" lengthAdjust="spacingAndGlyphs">1.0</text>
<text x="267.25" y="360.20" text-anchor="middle" class="al" textLength="90.8" lengthAdjust="spacingAndGlyphs">False Positive Rate</text>
<text transform="translate(21.90,173.40) rotate(-90)" x="0" y="0" text-anchor="middle" class="al" textLength="88" lengthAdjust="spacingAndGlyphs">True Positive Rate</text>
</g>
<g id="pb">
<clipPath id="cb"><rect x="552.5" y="14.4" width="433.60" height="317.40"/></clipPath>
<line x1="639.22" y1="331.8" x2="639.22" y2="14.4" class="g"/>
<line x1="552.5" y1="271.34" x2="986.1" y2="271.34" class="g"/>
<line x1="725.94" y1="331.8" x2="725.94" y2="14.4" class="g"/>
<line x1="552.5" y1="210.89" x2="986.1" y2="210.89" class="g"/>
<line x1="812.66" y1="331.8" x2="812.66" y2="14.4" class="g"/>
<line x1="552.5" y1="150.43" x2="986.1" y2="150.43" class="g"/>
<line x1="899.38" y1="331.8" x2="899.38" y2="14.4" class="g"/>
<line x1="552.5" y1="89.97" x2="986.1" y2="89.97" class="g"/>
<line x1="986.10" y1="331.8" x2="986.10" y2="14.4" class="g"/>
<line x1="552.5" y1="29.51" x2="986.1" y2="29.51" class="g"/>
<g clip-path="url(#cb)">
<line x1="552.5" y1="331.8" x2="986.1" y2="29.51" class="dg"/>
<polyline points="552.50,331.80 555.40,320.30 558.30,309.40 562.00,300.70 566.30,292.00 569.60,283.30 572.90,274.60 576.10,265.90 580.50,257.10 584.90,249.50 589.20,240.80 593.60,232.10 597.90,224.50 601.90,215.80 607.70,210.30 616.40,206.00 621.90,198.30 627.30,191.80 633.90,184.20 640.40,178.30 648.00,172.60 652.40,166.40 663.30,160.30 669.80,154.90 676.40,148.30 689.40,138.50 698.10,130.90 706.90,124.40 720.00,117.80 733.00,112.40 746.10,106.90 752.60,101.50 760.00,95.40 766.80,89.70 775.90,87.90 785.10,84.00 794.20,81.70 803.30,77.90 813.50,76.00 820.40,71.50 828.30,65.80 837.40,63.50 846.50,60.10 855.60,57.80 864.80,53.70 873.90,52.10 884.10,50.50 892.10,48.70 901.20,45.30 910.30,43.00 921.70,41.40 931.90,39.60 937.60,35.10 949.00,32.80 958.10,32.10 968.40,30.50 978.60,29.80 986.10,29.50" fill="none" stroke="#000080" stroke-width="4.2" stroke-dasharray="4.5 6.1"/>
<polyline points="552.50,331.80 553.00,309.40 553.90,287.60 555.40,265.90 557.60,246.30 559.80,226.60 562.00,211.40 564.20,196.10 567.00,180.90 569.60,172.20 571.80,162.50 571.80,161.73 572.05,161.73 572.05,160.96 572.31,160.96 572.31,160.19 572.56,160.19 572.56,159.42 572.81,159.42 572.81,158.65 573.06,158.65 573.06,157.88 573.32,157.88 573.32,157.11 573.57,157.11 573.57,156.34 573.82,156.34 573.82,155.56 574.08,155.56 574.08,154.79 574.33,154.79 574.33,154.02 574.58,154.02 574.58,153.25 574.84,153.25 574.84,152.48 575.09,152.48 575.09,151.71 575.34,151.71 575.34,150.94 575.59,150.94 575.59,150.17 575.85,150.17 575.85,149.40 576.10,149.40 576.10,148.62 576.49,148.62 576.49,147.84 576.89,147.84 576.89,147.06 577.28,147.06 577.28,146.29 577.67,146.29 577.67,145.51 578.06,145.51 578.06,144.73 578.46,144.73 578.46,143.95 578.85,143.95 578.85,143.17 579.24,143.17 579.24,142.39 579.64,142.39 579.64,141.61 580.03,141.61 580.03,140.84 580.42,140.84 580.42,140.06 580.81,140.06 580.81,139.28 581.21,139.28 581.21,138.50 581.60,138.50 581.60,137.72 582.06,137.72 582.06,136.94 582.53,136.94 582.53,136.16 582.99,136.16 582.99,135.39 583.46,135.39 583.46,134.61 583.92,134.61 583.92,133.83 584.39,133.83 584.39,133.05 584.85,133.05 584.85,132.27 585.31,132.27 585.31,131.49 585.78,131.49 585.78,130.71 586.24,130.71 586.24,129.94 586.71,129.94 586.71,129.16 587.17,129.16 587.17,128.38 587.64,128.38 587.64,127.60 588.10,127.60 588.10,126.85 588.69,126.85 588.69,126.09 589.28,126.09 589.28,125.34 589.88,125.34 589.88,124.58 590.47,124.58 590.47,123.83 591.06,123.83 591.06,123.08 591.65,123.08 591.65,122.32 592.25,122.32 592.25,121.57 592.84,121.57 592.84,120.82 593.43,120.82 593.43,120.06 594.02,120.06 594.02,119.31 594.62,119.31 594.62,118.55 595.21,118.55 595.21,117.80 595.80,117.80 595.80,117.15 596.56,117.15 596.56,116.50 597.32,116.50 597.32,115.85 598.08,115.85 598.08,115.20 598.84,115.20 598.84,114.55 599.60,114.55 599.60,113.90 600.36,113.90 600.36,113.25 601.12,113.25 601.12,112.60 601.88,112.60 601.88,111.95 602.64,111.95 602.64,111.30 603.40,111.30 603.40,110.79 604.20,110.79 604.20,110.29 605.00,110.29 605.00,109.78 605.80,109.78 605.80,109.27 606.60,109.27 606.60,108.77 607.40,108.77 607.40,108.26 608.20,108.26 608.20,107.75 609.00,107.75 609.00,107.25 609.80,107.25 609.80,106.74 610.60,106.74 610.60,106.23 611.40,106.23 611.40,105.73 612.20,105.73 612.20,105.22 613.00,105.22 613.00,104.71 613.80,104.71 613.80,104.21 614.60,104.21 614.60,103.70 615.40,103.70 615.40,103.16 616.18,103.16 616.18,102.61 616.96,102.61 616.96,102.07 617.74,102.07 617.74,101.53 618.51,101.53 618.51,100.99 619.29,100.99 619.29,100.44 620.07,100.44 620.07,99.90 620.85,99.90 620.85,99.36 621.63,99.36 621.63,98.81 622.41,98.81 622.41,98.27 623.19,98.27 623.19,97.73 623.96,97.73 623.96,97.19 624.74,97.19 624.74,96.64 625.52,96.64 625.52,96.10 626.30,96.10 626.30,95.71 627.07,95.71 627.07,95.31 627.84,95.31 627.84,94.92 628.61,94.92 628.61,94.53 629.39,94.53 629.39,94.14 630.16,94.14 630.16,93.74 630.93,93.74 630.93,93.35 631.70,93.35 631.70,92.96 632.47,92.96 632.47,92.56 633.24,92.56 633.24,92.17 634.01,92.17 634.01,91.78 634.79,91.78 634.79,91.39 635.56,91.39 635.56,90.99 636.33,90.99 636.33,90.60 637.10,90.60 637.10,90.14 637.88,90.14 637.88,89.67 638.66,89.67 638.66,89.21 639.44,89.21 639.44,88.74 640.21,88.74 640.21,88.28 640.99,88.28 640.99,87.81 641.77,87.81 641.77,87.35 642.55,87.35 642.55,86.89 643.33,86.89 643.33,86.42 644.11,86.42 644.11,85.96 644.89,85.96 644.89,85.49 645.66,85.49 645.66,85.03 646.44,85.03 646.44,84.56 647.22,84.56 647.22,84.10 648.00,84.10 648.00,83.48 648.78,83.48 648.78,82.86 649.56,82.86 649.56,82.24 650.34,82.24 650.34,81.61 651.11,81.61 651.11,80.99 651.89,80.99 651.89,80.37 652.67,80.37 652.67,79.75 653.45,79.75 653.45,79.13 654.23,79.13 654.23,78.51 655.01,78.51 655.01,77.89 655.79,77.89 655.79,77.26 656.56,77.26 656.56,76.64 657.34,76.64 657.34,76.02 658.12,76.02 658.12,75.40 658.90,75.40 658.90,74.99 659.67,74.99 659.67,74.58 660.44,74.58 660.44,74.16 661.21,74.16 661.21,73.75 661.98,73.75 661.98,73.34 662.75,73.34 662.75,72.93 663.52,72.93 663.52,72.52 664.29,72.52 664.29,72.11 665.06,72.11 665.06,71.69 665.84,71.69 665.84,71.28 666.61,71.28 666.61,70.87 667.38,70.87 667.38,70.46 668.15,70.46 668.15,70.05 668.92,70.05 668.92,69.64 669.69,69.64 669.69,69.22 670.46,69.22 670.46,68.81 671.23,68.81 671.23,68.40 672.00,68.40 685.10,64.50 685.10,64.18 685.89,64.18 685.89,63.86 686.68,63.86 686.68,63.55 687.47,63.55 687.47,63.23 688.26,63.23 688.26,62.91 689.05,62.91 689.05,62.59 689.85,62.59 689.85,62.27 690.64,62.27 690.64,61.95 691.43,61.95 691.43,61.64 692.22,61.64 692.22,61.32 693.01,61.32 693.01,61.00 693.80,61.00 693.80,60.68 694.59,60.68 694.59,60.36 695.38,60.36 695.38,60.05 696.17,60.05 696.17,59.73 696.96,59.73 696.96,59.41 697.75,59.41 697.75,59.09 698.55,59.09 698.55,58.77 699.34,58.77 699.34,58.45 700.13,58.45 700.13,58.14 700.92,58.14 700.92,57.82 701.71,57.82 701.71,57.50 702.50,57.50 702.50,57.24 703.28,57.24 703.28,56.99 704.06,56.99 704.06,56.73 704.84,56.73 704.84,56.47 705.61,56.47 705.61,56.21 706.39,56.21 706.39,55.96 707.17,55.96 707.17,55.70 707.95,55.70 707.95,55.44 708.73,55.44 708.73,55.19 709.51,55.19 709.51,54.93 710.29,54.93 710.29,54.67 711.06,54.67 711.06,54.41 711.84,54.41 711.84,54.16 712.62,54.16 712.62,53.90 713.40,53.90 713.40,53.64 714.18,53.64 714.18,53.39 714.96,53.39 714.96,53.13 715.74,53.13 715.74,52.87 716.51,52.87 716.51,52.61 717.29,52.61 717.29,52.36 718.07,52.36 718.07,52.10 718.85,52.10 718.85,51.84 719.63,51.84 719.63,51.59 720.41,51.59 720.41,51.33 721.19,51.33 721.19,51.07 721.96,51.07 721.96,50.81 722.74,50.81 722.74,50.56 723.52,50.56 723.52,50.30 724.30,50.30 724.30,50.05 725.09,50.05 725.09,49.81 725.88,49.81 725.88,49.56 726.67,49.56 726.67,49.32 727.46,49.32 727.46,49.07 728.25,49.07 728.25,48.83 729.05,48.83 729.05,48.58 729.84,48.58 729.84,48.34 730.63,48.34 730.63,48.09 731.42,48.09 731.42,47.85 732.21,47.85 732.21,47.60 733.00,47.60 733.00,47.35 733.79,47.35 733.79,47.11 734.58,47.11 734.58,46.86 735.37,46.86 735.37,46.62 736.16,46.62 736.16,46.37 736.95,46.37 736.95,46.13 737.75,46.13 737.75,45.88 738.54,45.88 738.54,45.64 739.33,45.64 739.33,45.39 740.12,45.39 740.12,45.15 740.91,45.15 740.91,44.90 741.70,44.90 757.00,42.70 771.40,40.10 782.80,38.50 794.20,37.30 810.10,34.60 828.30,33.70 851.10,32.80 873.90,31.90 896.60,31.20 919.40,30.50 942.20,30.00 965.00,29.60 986.10,29.50" fill="none" stroke="#ff1493" stroke-width="4.2" stroke-dasharray="4.5 6.1"/>
</g>
<rect x="552.5" y="14.4" width="433.60" height="317.40" fill="none" stroke="#000" stroke-width="1.25"/>
<line x1="552.50" y1="331.8" x2="552.50" y2="335.40" class="t"/>
<line x1="548.90" y1="331.80" x2="552.5" y2="331.80" class="t"/>
<text x="544.50" y="346.60" class="tk" textLength="16" lengthAdjust="spacingAndGlyphs">0.0</text>
<text x="530.00" y="336.00" class="tk" textLength="16" lengthAdjust="spacingAndGlyphs">0.0</text>
<line x1="639.22" y1="331.8" x2="639.22" y2="335.40" class="t"/>
<line x1="548.90" y1="271.34" x2="552.5" y2="271.34" class="t"/>
<text x="631.22" y="346.60" class="tk" textLength="16" lengthAdjust="spacingAndGlyphs">0.2</text>
<text x="530.00" y="275.54" class="tk" textLength="16" lengthAdjust="spacingAndGlyphs">0.2</text>
<line x1="725.94" y1="331.8" x2="725.94" y2="335.40" class="t"/>
<line x1="548.90" y1="210.89" x2="552.5" y2="210.89" class="t"/>
<text x="717.94" y="346.60" class="tk" textLength="16" lengthAdjust="spacingAndGlyphs">0.4</text>
<text x="530.00" y="215.09" class="tk" textLength="16" lengthAdjust="spacingAndGlyphs">0.4</text>
<line x1="812.66" y1="331.8" x2="812.66" y2="335.40" class="t"/>
<line x1="548.90" y1="150.43" x2="552.5" y2="150.43" class="t"/>
<text x="804.66" y="346.60" class="tk" textLength="16" lengthAdjust="spacingAndGlyphs">0.6</text>
<text x="530.00" y="154.63" class="tk" textLength="16" lengthAdjust="spacingAndGlyphs">0.6</text>
<line x1="899.38" y1="331.8" x2="899.38" y2="335.40" class="t"/>
<line x1="548.90" y1="89.97" x2="552.5" y2="89.97" class="t"/>
<text x="891.38" y="346.60" class="tk" textLength="16" lengthAdjust="spacingAndGlyphs">0.8</text>
<text x="530.00" y="94.17" class="tk" textLength="16" lengthAdjust="spacingAndGlyphs">0.8</text>
<line x1="986.10" y1="331.8" x2="986.10" y2="335.40" class="t"/>
<line x1="548.90" y1="29.51" x2="552.5" y2="29.51" class="t"/>
<text x="978.10" y="346.60" class="tk" textLength="16" lengthAdjust="spacingAndGlyphs">1.0</text>
<text x="530.00" y="33.71" class="tk" textLength="16" lengthAdjust="spacingAndGlyphs">1.0</text>
<text x="769.30" y="359.60" text-anchor="middle" class="al" textLength="90.6" lengthAdjust="spacingAndGlyphs">False Positive Rate</text>
<text transform="translate(524.90,173.10) rotate(-90)" x="0" y="0" text-anchor="middle" class="al" textLength="87.5" lengthAdjust="spacingAndGlyphs">True Positive Rate</text>
</g>
<g id="pc">
<clipPath id="cc"><rect x="52" y="426.8" width="431.30" height="315.50"/></clipPath>
<line x1="138.26" y1="742.3" x2="138.26" y2="426.8" class="g"/>
<line x1="52" y1="682.20" x2="483.3" y2="682.20" class="g"/>
<line x1="224.52" y1="742.3" x2="224.52" y2="426.8" class="g"/>
<line x1="52" y1="622.11" x2="483.3" y2="622.11" class="g"/>
<line x1="310.78" y1="742.3" x2="310.78" y2="426.8" class="g"/>
<line x1="52" y1="562.01" x2="483.3" y2="562.01" class="g"/>
<line x1="397.04" y1="742.3" x2="397.04" y2="426.8" class="g"/>
<line x1="52" y1="501.92" x2="483.3" y2="501.92" class="g"/>
<line x1="483.30" y1="742.3" x2="483.30" y2="426.8" class="g"/>
<line x1="52" y1="441.82" x2="483.3" y2="441.82" class="g"/>
<g clip-path="url(#cc)">
<line x1="52" y1="742.3" x2="483.3" y2="441.82" class="dg"/>
<polyline points="52.0,742.3 53.8,734.7 61.3,715.8 68.9,703.2 75.2,693.1 82.7,683.1 89.0,674.3 92.8,668.0 97.8,664.2 104.1,660.4 110.4,654.2 119.2,649.1 125.0,644.0 130.0,635.2 135.1,632.7 140.1,627.7 141.3,622.7 147.6,618.9 148.9,615.1 153.9,611.4 157.7,606.3 162.7,603.8 167.7,600.7 172.8,595.0 177.8,591.3 179.5,589.2 184.7,586.6 193.8,584.0 200.2,581.4 202.8,576.2 208.0,573.6 210.6,567.1 214.5,558.1 221.0,554.2 227.5,550.3 234.0,545.1 240.5,543.8 245.2,542.5 249.1,538.6 254.3,534.7 269.8,534.7 277.6,528.2 282.8,524.3 288.0,518.5 297.1,517.8 306.2,517.2 310.1,511.4 314.0,508.1 326.9,505.5 334.7,502.3 342.5,497.1 347.7,491.9 352.9,488.0 360.0,482.5 363.0,481.8 367.0,473.8 369.7,471.1 375.1,467.1 381.8,465.1 391.1,464.4 400.5,463.1 408.5,459.8 419.2,459.1 424.6,457.1 432.6,453.7 440.6,451.1 447.3,444.4 456.7,443.0 468.7,441.8 483.3,441.8" fill="none" stroke="#1f77b4" stroke-width="3.9" stroke-linejoin="round" stroke-linecap="round"/>
<circle cx="52.0" cy="742.3" r="1.9" fill="#1f77b4"/><circle cx="53.8" cy="734.7" r="1.9" fill="#1f77b4"/><circle cx="61.3" cy="715.8" r="1.9" fill="#1f77b4"/><circle cx="68.9" cy="703.2" r="1.9" fill="#1f77b4"/><circle cx="75.2" cy="693.1" r="1.9" fill="#1f77b4"/><circle cx="82.7" cy="683.1" r="1.9" fill="#1f77b4"/><circle cx="89.0" cy="674.3" r="1.9" fill="#1f77b4"/><circle cx="92.8" cy="668.0" r="1.9" fill="#1f77b4"/><circle cx="97.8" cy="664.2" r="1.9" fill="#1f77b4"/><circle cx="104.1" cy="660.4" r="1.9" fill="#1f77b4"/><circle cx="110.4" cy="654.2" r="1.9" fill="#1f77b4"/><circle cx="119.2" cy="649.1" r="1.9" fill="#1f77b4"/><circle cx="125.0" cy="644.0" r="1.9" fill="#1f77b4"/><circle cx="130.0" cy="635.2" r="1.9" fill="#1f77b4"/><circle cx="135.1" cy="632.7" r="1.9" fill="#1f77b4"/><circle cx="140.1" cy="627.7" r="1.9" fill="#1f77b4"/><circle cx="141.3" cy="622.7" r="1.9" fill="#1f77b4"/><circle cx="147.6" cy="618.9" r="1.9" fill="#1f77b4"/><circle cx="148.9" cy="615.1" r="1.9" fill="#1f77b4"/><circle cx="153.9" cy="611.4" r="1.9" fill="#1f77b4"/><circle cx="157.7" cy="606.3" r="1.9" fill="#1f77b4"/><circle cx="162.7" cy="603.8" r="1.9" fill="#1f77b4"/><circle cx="167.7" cy="600.7" r="1.9" fill="#1f77b4"/><circle cx="172.8" cy="595.0" r="1.9" fill="#1f77b4"/><circle cx="177.8" cy="591.3" r="1.9" fill="#1f77b4"/><circle cx="179.5" cy="589.2" r="1.9" fill="#1f77b4"/><circle cx="184.7" cy="586.6" r="1.9" fill="#1f77b4"/><circle cx="193.8" cy="584.0" r="1.9" fill="#1f77b4"/><circle cx="200.2" cy="581.4" r="1.9" fill="#1f77b4"/><circle cx="202.8" cy="576.2" r="1.9" fill="#1f77b4"/><circle cx="208.0" cy="573.6" r="1.9" fill="#1f77b4"/><circle cx="210.6" cy="567.1" r="1.9" fill="#1f77b4"/><circle cx="214.5" cy="558.1" r="1.9" fill="#1f77b4"/><circle cx="221.0" cy="554.2" r="1.9" fill="#1f77b4"/><circle cx="227.5" cy="550.3" r="1.9" fill="#1f77b4"/><circle cx="234.0" cy="545.1" r="1.9" fill="#1f77b4"/><circle cx="240.5" cy="543.8" r="1.9" fill="#1f77b4"/><circle cx="245.2" cy="542.5" r="1.9" fill="#1f77b4"/><circle cx="249.1" cy="538.6" r="1.9" fill="#1f77b4"/><circle cx="254.3" cy="534.7" r="1.9" fill="#1f77b4"/><circle cx="269.8" cy="534.7" r="1.9" fill="#1f77b4"/><circle cx="277.6" cy="528.2" r="1.9" fill="#1f77b4"/><circle cx="282.8" cy="524.3" r="1.9" fill="#1f77b4"/><circle cx="288.0" cy="518.5" r="1.9" fill="#1f77b4"/><circle cx="297.1" cy="517.8" r="1.9" fill="#1f77b4"/><circle cx="306.2" cy="517.2" r="1.9" fill="#1f77b4"/><circle cx="310.1" cy="511.4" r="1.9" fill="#1f77b4"/><circle cx="314.0" cy="508.1" r="1.9" fill="#1f77b4"/><circle cx="326.9" cy="505.5" r="1.9" fill="#1f77b4"/><circle cx="334.7" cy="502.3" r="1.9" fill="#1f77b4"/><circle cx="342.5" cy="497.1" r="1.9" fill="#1f77b4"/><circle cx="347.7" cy="491.9" r="1.9" fill="#1f77b4"/><circle cx="352.9" cy="488.0" r="1.9" fill="#1f77b4"/><circle cx="360.0" cy="482.5" r="1.9" fill="#1f77b4"/><circle cx="363.0" cy="481.8" r="1.9" fill="#1f77b4"/><circle cx="367.0" cy="473.8" r="1.9" fill="#1f77b4"/><circle cx="369.7" cy="471.1" r="1.9" fill="#1f77b4"/><circle cx="375.1" cy="467.1" r="1.9" fill="#1f77b4"/><circle cx="381.8" cy="465.1" r="1.9" fill="#1f77b4"/><circle cx="391.1" cy="464.4" r="1.9" fill="#1f77b4"/><circle cx="400.5" cy="463.1" r="1.9" fill="#1f77b4"/><circle cx="408.5" cy="459.8" r="1.9" fill="#1f77b4"/><circle cx="419.2" cy="459.1" r="1.9" fill="#1f77b4"/><circle cx="424.6" cy="457.1" r="1.9" fill="#1f77b4"/><circle cx="432.6" cy="453.7" r="1.9" fill="#1f77b4"/><circle cx="440.6" cy="451.1" r="1.9" fill="#1f77b4"/><circle cx="447.3" cy="444.4" r="1.9" fill="#1f77b4"/><circle cx="456.7" cy="443.0" r="1.9" fill="#1f77b4"/><circle cx="468.7" cy="441.8" r="1.9" fill="#1f77b4"/><circle cx="483.3" cy="441.8" r="1.9" fill="#1f77b4"/>
<polyline points="52.0,742.3 54.0,735.0 56.3,722.1 63.8,703.2 70.1,689.4 75.2,678.0 77.7,668.0 82.7,663.0 87.7,650.4 91.5,644.1 97.8,640.3 102.8,635.3 107.9,627.7 112.9,624.0 117.9,615.2 121.7,607.6 126.7,602.0 132.5,600.1 138.8,592.5 144.5,581.4 154.8,574.9 163.9,565.8 171.7,558.1 180.8,551.6 189.9,543.8 195.1,538.6 202.8,534.7 210.6,529.5 221.0,525.6 228.8,520.4 237.9,515.2 245.0,508.0 253.0,501.6 266.0,495.8 278.9,491.2 291.9,486.7 304.9,483.5 317.8,480.2 330.8,476.3 343.8,473.7 354.2,469.2 360.0,466.5 368.4,463.8 381.8,459.8 395.1,456.4 408.5,453.7 421.9,451.7 435.3,449.0 448.7,446.4 462.0,443.7 483.3,441.8" fill="none" stroke="#ff7f0e" stroke-width="3.9" stroke-linejoin="round" stroke-linecap="round"/>
<circle cx="52.0" cy="742.3" r="1.9" fill="#ff7f0e"/><circle cx="54.0" cy="735.0" r="1.9" fill="#ff7f0e"/><circle cx="56.3" cy="722.1" r="1.9" fill="#ff7f0e"/><circle cx="63.8" cy="703.2" r="1.9" fill="#ff7f0e"/><circle cx="70.1" cy="689.4" r="1.9" fill="#ff7f0e"/><circle cx="75.2" cy="678.0" r="1.9" fill="#ff7f0e"/><circle cx="77.7" cy="668.0" r="1.9" fill="#ff7f0e"/><circle cx="82.7" cy="663.0" r="1.9" fill="#ff7f0e"/><circle cx="87.7" cy="650.4" r="1.9" fill="#ff7f0e"/><circle cx="91.5" cy="644.1" r="1.9" fill="#ff7f0e"/><circle cx="97.8" cy="640.3" r="1.9" fill="#ff7f0e"/><circle cx="102.8" cy="635.3" r="1.9" fill="#ff7f0e"/><circle cx="107.9" cy="627.7" r="1.9" fill="#ff7f0e"/><circle cx="112.9" cy="624.0" r="1.9" fill="#ff7f0e"/><circle cx="117.9" cy="615.2" r="1.9" fill="#ff7f0e"/><circle cx="121.7" cy="607.6" r="1.9" fill="#ff7f0e"/><circle cx="126.7" cy="602.0" r="1.9" fill="#ff7f0e"/><circle cx="132.5" cy="600.1" r="1.9" fill="#ff7f0e"/><circle cx="138.8" cy="592.5" r="1.9" fill="#ff7f0e"/><circle cx="144.5" cy="581.4" r="1.9" fill="#ff7f0e"/><circle cx="154.8" cy="574.9" r="1.9" fill="#ff7f0e"/><circle cx="163.9" cy="565.8" r="1.9" fill="#ff7f0e"/><circle cx="171.7" cy="558.1" r="1.9" fill="#ff7f0e"/><circle cx="180.8" cy="551.6" r="1.9" fill="#ff7f0e"/><circle cx="189.9" cy="543.8" r="1.9" fill="#ff7f0e"/><circle cx="195.1" cy="538.6" r="1.9" fill="#ff7f0e"/><circle cx="202.8" cy="534.7" r="1.9" fill="#ff7f0e"/><circle cx="210.6" cy="529.5" r="1.9" fill="#ff7f0e"/><circle cx="221.0" cy="525.6" r="1.9" fill="#ff7f0e"/><circle cx="228.8" cy="520.4" r="1.9" fill="#ff7f0e"/><circle cx="237.9" cy="515.2" r="1.9" fill="#ff7f0e"/><circle cx="245.0" cy="508.0" r="1.9" fill="#ff7f0e"/><circle cx="253.0" cy="501.6" r="1.9" fill="#ff7f0e"/><circle cx="266.0" cy="495.8" r="1.9" fill="#ff7f0e"/><circle cx="278.9" cy="491.2" r="1.9" fill="#ff7f0e"/><circle cx="291.9" cy="486.7" r="1.9" fill="#ff7f0e"/><circle cx="304.9" cy="483.5" r="1.9" fill="#ff7f0e"/><circle cx="317.8" cy="480.2" r="1.9" fill="#ff7f0e"/><circle cx="330.8" cy="476.3" r="1.9" fill="#ff7f0e"/><circle cx="343.8" cy="473.7" r="1.9" fill="#ff7f0e"/><circle cx="354.2" cy="469.2" r="1.9" fill="#ff7f0e"/><circle cx="360.0" cy="466.5" r="1.9" fill="#ff7f0e"/><circle cx="368.4" cy="463.8" r="1.9" fill="#ff7f0e"/><circle cx="381.8" cy="459.8" r="1.9" fill="#ff7f0e"/><circle cx="395.1" cy="456.4" r="1.9" fill="#ff7f0e"/><circle cx="408.5" cy="453.7" r="1.9" fill="#ff7f0e"/><circle cx="421.9" cy="451.7" r="1.9" fill="#ff7f0e"/><circle cx="435.3" cy="449.0" r="1.9" fill="#ff7f0e"/><circle cx="448.7" cy="446.4" r="1.9" fill="#ff7f0e"/><circle cx="462.0" cy="443.7" r="1.9" fill="#ff7f0e"/><circle cx="483.3" cy="441.8" r="1.9" fill="#ff7f0e"/>
<polyline points="52.0,742.3 52.0,728.4 53.8,728.4 53.8,715.8 56.3,715.8 56.3,700.0 59.0,700.0 59.0,685.9 60.8,685.9 60.8,671.8 62.6,671.8 62.6,663.0 65.1,663.0 65.1,645.3 68.2,645.3 68.2,639.6 70.1,639.6 70.1,634.0 72.0,634.0 72.0,622.7 73.9,622.7 73.9,620.2 77.7,620.2 77.7,618.3 79.6,618.3 79.6,616.4 81.4,616.4 81.4,614.5 87.7,614.5 87.7,610.5 89.6,610.5 89.6,606.4 91.5,606.4 91.5,600.7 93.4,600.7 93.4,595.0 95.3,595.0 95.3,593.0 98.4,593.0 98.4,591.0 101.6,591.0 102.2,584.7 102.2,578.4 104.1,578.4 104.1,572.7 106.6,572.7 112.9,572.7 112.9,569.6 116.7,569.6 116.7,562.0 119.2,562.0 119.2,560.8 126.7,560.8 126.7,552.9 128.9,552.9 128.9,551.6 135.4,551.6 135.4,549.0 137.4,549.0 137.4,546.4 139.3,546.4 139.3,543.8 142.6,543.8 142.6,541.2 145.8,541.2 145.8,533.4 148.4,533.4 148.4,529.5 150.9,529.5 150.9,527.6 153.5,527.6 153.5,525.6 156.1,525.6 156.1,523.7 158.7,523.7 158.7,522.0 161.3,522.0 161.3,520.4 163.9,520.4 163.9,517.8 170.4,517.8 170.4,515.2 173.0,515.2 173.0,512.7 175.6,512.7 175.6,508.8 177.6,508.8 177.6,504.9 179.5,504.9 179.5,501.0 181.4,501.0 181.4,497.1 183.4,497.1 183.4,494.5 186.0,494.5 186.0,491.9 188.6,491.9 188.6,489.9 190.6,489.9 190.6,488.0 192.5,488.0 192.5,482.8 195.1,482.8 202.8,482.8 209.3,482.2 209.3,479.9 212.6,479.9 212.6,477.6 215.8,477.6 215.8,476.3 222.3,476.3 222.3,473.7 224.2,473.7 224.2,471.1 226.2,471.1 226.2,467.9 230.1,467.9 273.1,467.9 273.1,464.6 293.8,464.6 293.8,458.8 332.1,458.8 332.1,456.2 349.6,456.2 349.6,453.0 350.9,453.0 350.9,449.7 352.2,449.7 381.8,449.7 381.8,447.0 397.8,447.0 397.8,444.1 423.9,444.1 423.9,441.8 483.3,441.8" fill="none" stroke="#2ca02c" stroke-width="2" stroke-linejoin="round" stroke-linecap="round"/>
<circle cx="52.0" cy="742.3" r="1.9" fill="#2ca02c"/><circle cx="52.0" cy="728.4" r="1.9" fill="#2ca02c"/><circle cx="53.8" cy="728.4" r="1.9" fill="#2ca02c"/><circle cx="53.8" cy="715.8" r="1.9" fill="#2ca02c"/><circle cx="56.3" cy="715.8" r="1.9" fill="#2ca02c"/><circle cx="56.3" cy="700.0" r="1.9" fill="#2ca02c"/><circle cx="59.0" cy="700.0" r="1.9" fill="#2ca02c"/><circle cx="59.0" cy="685.9" r="1.9" fill="#2ca02c"/><circle cx="60.8" cy="685.9" r="1.9" fill="#2ca02c"/><circle cx="60.8" cy="671.8" r="1.9" fill="#2ca02c"/><circle cx="62.6" cy="671.8" r="1.9" fill="#2ca02c"/><circle cx="62.6" cy="663.0" r="1.9" fill="#2ca02c"/><circle cx="65.1" cy="663.0" r="1.9" fill="#2ca02c"/><circle cx="65.1" cy="645.3" r="1.9" fill="#2ca02c"/><circle cx="68.2" cy="645.3" r="1.9" fill="#2ca02c"/><circle cx="68.2" cy="639.6" r="1.9" fill="#2ca02c"/><circle cx="70.1" cy="639.6" r="1.9" fill="#2ca02c"/><circle cx="70.1" cy="634.0" r="1.9" fill="#2ca02c"/><circle cx="72.0" cy="634.0" r="1.9" fill="#2ca02c"/><circle cx="72.0" cy="622.7" r="1.9" fill="#2ca02c"/><circle cx="73.9" cy="622.7" r="1.9" fill="#2ca02c"/><circle cx="73.9" cy="620.2" r="1.9" fill="#2ca02c"/><circle cx="77.7" cy="620.2" r="1.9" fill="#2ca02c"/><circle cx="77.7" cy="618.3" r="1.9" fill="#2ca02c"/><circle cx="79.6" cy="618.3" r="1.9" fill="#2ca02c"/><circle cx="79.6" cy="616.4" r="1.9" fill="#2ca02c"/><circle cx="81.4" cy="616.4" r="1.9" fill="#2ca02c"/><circle cx="81.4" cy="614.5" r="1.9" fill="#2ca02c"/><circle cx="87.7" cy="614.5" r="1.9" fill="#2ca02c"/><circle cx="87.7" cy="610.5" r="1.9" fill="#2ca02c"/><circle cx="89.6" cy="610.5" r="1.9" fill="#2ca02c"/><circle cx="89.6" cy="606.4" r="1.9" fill="#2ca02c"/><circle cx="91.5" cy="606.4" r="1.9" fill="#2ca02c"/><circle cx="91.5" cy="600.7" r="1.9" fill="#2ca02c"/><circle cx="93.4" cy="600.7" r="1.9" fill="#2ca02c"/><circle cx="93.4" cy="595.0" r="1.9" fill="#2ca02c"/><circle cx="95.3" cy="595.0" r="1.9" fill="#2ca02c"/><circle cx="95.3" cy="593.0" r="1.9" fill="#2ca02c"/><circle cx="98.4" cy="593.0" r="1.9" fill="#2ca02c"/><circle cx="98.4" cy="591.0" r="1.9" fill="#2ca02c"/><circle cx="101.6" cy="591.0" r="1.9" fill="#2ca02c"/><circle cx="102.2" cy="584.7" r="1.9" fill="#2ca02c"/><circle cx="102.2" cy="578.4" r="1.9" fill="#2ca02c"/><circle cx="104.1" cy="578.4" r="1.9" fill="#2ca02c"/><circle cx="104.1" cy="572.7" r="1.9" fill="#2ca02c"/><circle cx="106.6" cy="572.7" r="1.9" fill="#2ca02c"/><circle cx="112.9" cy="572.7" r="1.9" fill="#2ca02c"/><circle cx="112.9" cy="569.6" r="1.9" fill="#2ca02c"/><circle cx="116.7" cy="569.6" r="1.9" fill="#2ca02c"/><circle cx="116.7" cy="562.0" r="1.9" fill="#2ca02c"/><circle cx="119.2" cy="562.0" r="1.9" fill="#2ca02c"/><circle cx="119.2" cy="560.8" r="1.9" fill="#2ca02c"/><circle cx="126.7" cy="560.8" r="1.9" fill="#2ca02c"/><circle cx="126.7" cy="552.9" r="1.9" fill="#2ca02c"/><circle cx="128.9" cy="552.9" r="1.9" fill="#2ca02c"/><circle cx="128.9" cy="551.6" r="1.9" fill="#2ca02c"/><circle cx="135.4" cy="551.6" r="1.9" fill="#2ca02c"/><circle cx="135.4" cy="549.0" r="1.9" fill="#2ca02c"/><circle cx="137.4" cy="549.0" r="1.9" fill="#2ca02c"/><circle cx="137.4" cy="546.4" r="1.9" fill="#2ca02c"/><circle cx="139.3" cy="546.4" r="1.9" fill="#2ca02c"/><circle cx="139.3" cy="543.8" r="1.9" fill="#2ca02c"/><circle cx="142.6" cy="543.8" r="1.9" fill="#2ca02c"/><circle cx="142.6" cy="541.2" r="1.9" fill="#2ca02c"/><circle cx="145.8" cy="541.2" r="1.9" fill="#2ca02c"/><circle cx="145.8" cy="533.4" r="1.9" fill="#2ca02c"/><circle cx="148.4" cy="533.4" r="1.9" fill="#2ca02c"/><circle cx="148.4" cy="529.5" r="1.9" fill="#2ca02c"/><circle cx="150.9" cy="529.5" r="1.9" fill="#2ca02c"/><circle cx="150.9" cy="527.6" r="1.9" fill="#2ca02c"/><circle cx="153.5" cy="527.6" r="1.9" fill="#2ca02c"/><circle cx="153.5" cy="525.6" r="1.9" fill="#2ca02c"/><circle cx="156.1" cy="525.6" r="1.9" fill="#2ca02c"/><circle cx="156.1" cy="523.7" r="1.9" fill="#2ca02c"/><circle cx="158.7" cy="523.7" r="1.9" fill="#2ca02c"/><circle cx="158.7" cy="522.0" r="1.9" fill="#2ca02c"/><circle cx="161.3" cy="522.0" r="1.9" fill="#2ca02c"/><circle cx="161.3" cy="520.4" r="1.9" fill="#2ca02c"/><circle cx="163.9" cy="520.4" r="1.9" fill="#2ca02c"/><circle cx="163.9" cy="517.8" r="1.9" fill="#2ca02c"/><circle cx="170.4" cy="517.8" r="1.9" fill="#2ca02c"/><circle cx="170.4" cy="515.2" r="1.9" fill="#2ca02c"/><circle cx="173.0" cy="515.2" r="1.9" fill="#2ca02c"/><circle cx="173.0" cy="512.7" r="1.9" fill="#2ca02c"/><circle cx="175.6" cy="512.7" r="1.9" fill="#2ca02c"/><circle cx="175.6" cy="508.8" r="1.9" fill="#2ca02c"/><circle cx="177.6" cy="508.8" r="1.9" fill="#2ca02c"/><circle cx="177.6" cy="504.9" r="1.9" fill="#2ca02c"/><circle cx="179.5" cy="504.9" r="1.9" fill="#2ca02c"/><circle cx="179.5" cy="501.0" r="1.9" fill="#2ca02c"/><circle cx="181.4" cy="501.0" r="1.9" fill="#2ca02c"/><circle cx="181.4" cy="497.1" r="1.9" fill="#2ca02c"/><circle cx="183.4" cy="497.1" r="1.9" fill="#2ca02c"/><circle cx="183.4" cy="494.5" r="1.9" fill="#2ca02c"/><circle cx="186.0" cy="494.5" r="1.9" fill="#2ca02c"/><circle cx="186.0" cy="491.9" r="1.9" fill="#2ca02c"/><circle cx="188.6" cy="491.9" r="1.9" fill="#2ca02c"/><circle cx="188.6" cy="489.9" r="1.9" fill="#2ca02c"/><circle cx="190.6" cy="489.9" r="1.9" fill="#2ca02c"/><circle cx="190.6" cy="488.0" r="1.9" fill="#2ca02c"/><circle cx="192.5" cy="488.0" r="1.9" fill="#2ca02c"/><circle cx="192.5" cy="482.8" r="1.9" fill="#2ca02c"/><circle cx="195.1" cy="482.8" r="1.9" fill="#2ca02c"/><circle cx="202.8" cy="482.8" r="1.9" fill="#2ca02c"/><circle cx="209.3" cy="482.2" r="1.9" fill="#2ca02c"/><circle cx="209.3" cy="479.9" r="1.9" fill="#2ca02c"/><circle cx="212.6" cy="479.9" r="1.9" fill="#2ca02c"/><circle cx="212.6" cy="477.6" r="1.9" fill="#2ca02c"/><circle cx="215.8" cy="477.6" r="1.9" fill="#2ca02c"/><circle cx="215.8" cy="476.3" r="1.9" fill="#2ca02c"/><circle cx="222.3" cy="476.3" r="1.9" fill="#2ca02c"/><circle cx="222.3" cy="473.7" r="1.9" fill="#2ca02c"/><circle cx="224.2" cy="473.7" r="1.9" fill="#2ca02c"/><circle cx="224.2" cy="471.1" r="1.9" fill="#2ca02c"/><circle cx="226.2" cy="471.1" r="1.9" fill="#2ca02c"/><circle cx="226.2" cy="467.9" r="1.9" fill="#2ca02c"/><circle cx="230.1" cy="467.9" r="1.9" fill="#2ca02c"/><circle cx="273.1" cy="467.9" r="1.9" fill="#2ca02c"/><circle cx="273.1" cy="464.6" r="1.9" fill="#2ca02c"/><circle cx="293.8" cy="464.6" r="1.9" fill="#2ca02c"/><circle cx="293.8" cy="458.8" r="1.9" fill="#2ca02c"/><circle cx="332.1" cy="458.8" r="1.9" fill="#2ca02c"/><circle cx="332.1" cy="456.2" r="1.9" fill="#2ca02c"/><circle cx="349.6" cy="456.2" r="1.9" fill="#2ca02c"/><circle cx="349.6" cy="453.0" r="1.9" fill="#2ca02c"/><circle cx="350.9" cy="453.0" r="1.9" fill="#2ca02c"/><circle cx="350.9" cy="449.7" r="1.9" fill="#2ca02c"/><circle cx="352.2" cy="449.7" r="1.9" fill="#2ca02c"/><circle cx="381.8" cy="449.7" r="1.9" fill="#2ca02c"/><circle cx="381.8" cy="447.0" r="1.9" fill="#2ca02c"/><circle cx="397.8" cy="447.0" r="1.9" fill="#2ca02c"/><circle cx="397.8" cy="444.1" r="1.9" fill="#2ca02c"/><circle cx="423.9" cy="444.1" r="1.9" fill="#2ca02c"/><circle cx="423.9" cy="441.8" r="1.9" fill="#2ca02c"/><circle cx="483.3" cy="441.8" r="1.9" fill="#2ca02c"/>
<polyline points="52.0,742.3 52.0,722.1 53.8,722.1 53.8,700.7 55.7,700.7 55.7,696.9 58.8,696.9 58.8,678.0 60.7,678.0 60.7,665.5 62.6,665.5 62.6,659.2 64.5,659.2 64.5,652.9 66.4,652.9 66.4,649.1 68.9,649.1 68.9,645.3 71.4,645.3 71.4,637.8 73.3,637.8 73.3,632.8 75.2,632.8 85.8,632.8 85.8,627.7 87.7,627.7 96.5,627.7 96.5,618.9 97.8,618.9 109.1,618.9 109.1,612.6 110.4,612.6 110.4,600.1 112.3,600.1 112.9,596.3 112.9,594.2 116.1,594.2 116.1,592.2 119.2,592.2 125.5,592.2 125.5,582.1 125.5,577.1 128.0,577.1 128.0,574.9 130.2,574.9 130.2,568.4 132.8,568.4 141.2,568.4 141.9,564.5 141.9,563.2 148.4,563.2 148.4,554.2 151.6,554.2 152.2,547.7 152.2,541.2 153.5,541.2 160.0,541.2 160.0,538.6 161.9,538.6 161.9,536.0 163.9,536.0 163.9,528.2 166.5,528.2 166.5,523.0 166.5,521.0 170.4,521.0 170.4,519.1 174.3,519.1 174.3,516.5 177.6,516.5 177.6,514.0 180.8,514.0 180.8,508.8 182.1,508.8 182.1,506.2 184.7,506.2 184.7,503.6 187.3,503.6 187.3,500.3 197.0,500.3 197.0,491.9 198.9,491.9 198.9,488.0 201.5,488.0 201.5,478.3 217.1,478.3 217.1,473.7 217.1,471.1 226.2,471.1 226.2,468.5 228.8,468.5 229.4,464.0 256.2,464.0 256.2,459.5 310.1,459.5 310.1,454.9 322.4,454.9 322.4,450.4 367.7,450.4 367.7,445.7 380.4,445.7 380.4,441.8 483.3,441.8" fill="none" stroke="#d62728" stroke-width="2" stroke-linejoin="round" stroke-linecap="round"/>
<circle cx="52.0" cy="742.3" r="1.9" fill="#d62728"/><circle cx="52.0" cy="722.1" r="1.9" fill="#d62728"/><circle cx="53.8" cy="722.1" r="1.9" fill="#d62728"/><circle cx="53.8" cy="700.7" r="1.9" fill="#d62728"/><circle cx="55.7" cy="700.7" r="1.9" fill="#d62728"/><circle cx="55.7" cy="696.9" r="1.9" fill="#d62728"/><circle cx="58.8" cy="696.9" r="1.9" fill="#d62728"/><circle cx="58.8" cy="678.0" r="1.9" fill="#d62728"/><circle cx="60.7" cy="678.0" r="1.9" fill="#d62728"/><circle cx="60.7" cy="665.5" r="1.9" fill="#d62728"/><circle cx="62.6" cy="665.5" r="1.9" fill="#d62728"/><circle cx="62.6" cy="659.2" r="1.9" fill="#d62728"/><circle cx="64.5" cy="659.2" r="1.9" fill="#d62728"/><circle cx="64.5" cy="652.9" r="1.9" fill="#d62728"/><circle cx="66.4" cy="652.9" r="1.9" fill="#d62728"/><circle cx="66.4" cy="649.1" r="1.9" fill="#d62728"/><circle cx="68.9" cy="649.1" r="1.9" fill="#d62728"/><circle cx="68.9" cy="645.3" r="1.9" fill="#d62728"/><circle cx="71.4" cy="645.3" r="1.9" fill="#d62728"/><circle cx="71.4" cy="637.8" r="1.9" fill="#d62728"/><circle cx="73.3" cy="637.8" r="1.9" fill="#d62728"/><circle cx="73.3" cy="632.8" r="1.9" fill="#d62728"/><circle cx="75.2" cy="632.8" r="1.9" fill="#d62728"/><circle cx="85.8" cy="632.8" r="1.9" fill="#d62728"/><circle cx="85.8" cy="627.7" r="1.9" fill="#d62728"/><circle cx="87.7" cy="627.7" r="1.9" fill="#d62728"/><circle cx="96.5" cy="627.7" r="1.9" fill="#d62728"/><circle cx="96.5" cy="618.9" r="1.9" fill="#d62728"/><circle cx="97.8" cy="618.9" r="1.9" fill="#d62728"/><circle cx="109.1" cy="618.9" r="1.9" fill="#d62728"/><circle cx="109.1" cy="612.6" r="1.9" fill="#d62728"/><circle cx="110.4" cy="612.6" r="1.9" fill="#d62728"/><circle cx="110.4" cy="600.1" r="1.9" fill="#d62728"/><circle cx="112.3" cy="600.1" r="1.9" fill="#d62728"/><circle cx="112.9" cy="596.3" r="1.9" fill="#d62728"/><circle cx="112.9" cy="594.2" r="1.9" fill="#d62728"/><circle cx="116.1" cy="594.2" r="1.9" fill="#d62728"/><circle cx="116.1" cy="592.2" r="1.9" fill="#d62728"/><circle cx="119.2" cy="592.2" r="1.9" fill="#d62728"/><circle cx="125.5" cy="592.2" r="1.9" fill="#d62728"/><circle cx="125.5" cy="582.1" r="1.9" fill="#d62728"/><circle cx="125.5" cy="577.1" r="1.9" fill="#d62728"/><circle cx="128.0" cy="577.1" r="1.9" fill="#d62728"/><circle cx="128.0" cy="574.9" r="1.9" fill="#d62728"/><circle cx="130.2" cy="574.9" r="1.9" fill="#d62728"/><circle cx="130.2" cy="568.4" r="1.9" fill="#d62728"/><circle cx="132.8" cy="568.4" r="1.9" fill="#d62728"/><circle cx="141.2" cy="568.4" r="1.9" fill="#d62728"/><circle cx="141.9" cy="564.5" r="1.9" fill="#d62728"/><circle cx="141.9" cy="563.2" r="1.9" fill="#d62728"/><circle cx="148.4" cy="563.2" r="1.9" fill="#d62728"/><circle cx="148.4" cy="554.2" r="1.9" fill="#d62728"/><circle cx="151.6" cy="554.2" r="1.9" fill="#d62728"/><circle cx="152.2" cy="547.7" r="1.9" fill="#d62728"/><circle cx="152.2" cy="541.2" r="1.9" fill="#d62728"/><circle cx="153.5" cy="541.2" r="1.9" fill="#d62728"/><circle cx="160.0" cy="541.2" r="1.9" fill="#d62728"/><circle cx="160.0" cy="538.6" r="1.9" fill="#d62728"/><circle cx="161.9" cy="538.6" r="1.9" fill="#d62728"/><circle cx="161.9" cy="536.0" r="1.9" fill="#d62728"/><circle cx="163.9" cy="536.0" r="1.9" fill="#d62728"/><circle cx="163.9" cy="528.2" r="1.9" fill="#d62728"/><circle cx="166.5" cy="528.2" r="1.9" fill="#d62728"/><circle cx="166.5" cy="523.0" r="1.9" fill="#d62728"/><circle cx="166.5" cy="521.0" r="1.9" fill="#d62728"/><circle cx="170.4" cy="521.0" r="1.9" fill="#d62728"/><circle cx="170.4" cy="519.1" r="1.9" fill="#d62728"/><circle cx="174.3" cy="519.1" r="1.9" fill="#d62728"/><circle cx="174.3" cy="516.5" r="1.9" fill="#d62728"/><circle cx="177.6" cy="516.5" r="1.9" fill="#d62728"/><circle cx="177.6" cy="514.0" r="1.9" fill="#d62728"/><circle cx="180.8" cy="514.0" r="1.9" fill="#d62728"/><circle cx="180.8" cy="508.8" r="1.9" fill="#d62728"/><circle cx="182.1" cy="508.8" r="1.9" fill="#d62728"/><circle cx="182.1" cy="506.2" r="1.9" fill="#d62728"/><circle cx="184.7" cy="506.2" r="1.9" fill="#d62728"/><circle cx="184.7" cy="503.6" r="1.9" fill="#d62728"/><circle cx="187.3" cy="503.6" r="1.9" fill="#d62728"/><circle cx="187.3" cy="500.3" r="1.9" fill="#d62728"/><circle cx="197.0" cy="500.3" r="1.9" fill="#d62728"/><circle cx="197.0" cy="491.9" r="1.9" fill="#d62728"/><circle cx="198.9" cy="491.9" r="1.9" fill="#d62728"/><circle cx="198.9" cy="488.0" r="1.9" fill="#d62728"/><circle cx="201.5" cy="488.0" r="1.9" fill="#d62728"/><circle cx="201.5" cy="478.3" r="1.9" fill="#d62728"/><circle cx="217.1" cy="478.3" r="1.9" fill="#d62728"/><circle cx="217.1" cy="473.7" r="1.9" fill="#d62728"/><circle cx="217.1" cy="471.1" r="1.9" fill="#d62728"/><circle cx="226.2" cy="471.1" r="1.9" fill="#d62728"/><circle cx="226.2" cy="468.5" r="1.9" fill="#d62728"/><circle cx="228.8" cy="468.5" r="1.9" fill="#d62728"/><circle cx="229.4" cy="464.0" r="1.9" fill="#d62728"/><circle cx="256.2" cy="464.0" r="1.9" fill="#d62728"/><circle cx="256.2" cy="459.5" r="1.9" fill="#d62728"/><circle cx="310.1" cy="459.5" r="1.9" fill="#d62728"/><circle cx="310.1" cy="454.9" r="1.9" fill="#d62728"/><circle cx="322.4" cy="454.9" r="1.9" fill="#d62728"/><circle cx="322.4" cy="450.4" r="1.9" fill="#d62728"/><circle cx="367.7" cy="450.4" r="1.9" fill="#d62728"/><circle cx="367.7" cy="445.7" r="1.9" fill="#d62728"/><circle cx="380.4" cy="445.7" r="1.9" fill="#d62728"/><circle cx="380.4" cy="441.8" r="1.9" fill="#d62728"/><circle cx="483.3" cy="441.8" r="1.9" fill="#d62728"/>
<polyline points="52.0,742.3 52.5,738.4 56.3,728.4 60.1,715.8 68.9,699.4 78.9,681.8 85.2,670.5 90.3,664.2 95.3,660.4 99.1,652.9 102.8,646.6 106.6,640.3 111.6,632.8 115.4,625.2 116.7,618.9 120.4,615.2 125.5,612.6 130.0,609.0 137.6,606.3 141.3,602.6 142.6,596.3 150.9,590.5 158.7,582.7 163.9,581.4 169.1,572.3 174.3,563.2 180.8,558.1 186.0,552.9 192.5,549.0 196.4,541.2 202.8,539.9 209.3,539.9 210.6,533.4 214.5,533.4 218.4,523.0 226.2,521.7 231.4,519.1 239.2,516.5 247.8,510.1 253.0,499.7 258.2,497.1 268.5,493.8 277.6,489.9 288.0,488.0 294.5,482.8 301.0,480.2 306.2,478.3 314.0,477.6 323.0,476.3 330.8,473.7 341.2,473.1 350.3,471.1 360.0,468.5 375.1,462.4 383.1,459.8 392.5,458.4 399.2,456.4 411.2,454.4 424.6,451.7 431.3,449.0 438.0,448.4 448.7,447.0 459.4,445.7 466.1,443.7 483.3,441.8" fill="none" stroke="#9467bd" stroke-width="3.9" stroke-linejoin="round" stroke-linecap="round"/>
<circle cx="52.0" cy="742.3" r="1.9" fill="#9467bd"/><circle cx="52.5" cy="738.4" r="1.9" fill="#9467bd"/><circle cx="56.3" cy="728.4" r="1.9" fill="#9467bd"/><circle cx="60.1" cy="715.8" r="1.9" fill="#9467bd"/><circle cx="68.9" cy="699.4" r="1.9" fill="#9467bd"/><circle cx="78.9" cy="681.8" r="1.9" fill="#9467bd"/><circle cx="85.2" cy="670.5" r="1.9" fill="#9467bd"/><circle cx="90.3" cy="664.2" r="1.9" fill="#9467bd"/><circle cx="95.3" cy="660.4" r="1.9" fill="#9467bd"/><circle cx="99.1" cy="652.9" r="1.9" fill="#9467bd"/><circle cx="102.8" cy="646.6" r="1.9" fill="#9467bd"/><circle cx="106.6" cy="640.3" r="1.9" fill="#9467bd"/><circle cx="111.6" cy="632.8" r="1.9" fill="#9467bd"/><circle cx="115.4" cy="625.2" r="1.9" fill="#9467bd"/><circle cx="116.7" cy="618.9" r="1.9" fill="#9467bd"/><circle cx="120.4" cy="615.2" r="1.9" fill="#9467bd"/><circle cx="125.5" cy="612.6" r="1.9" fill="#9467bd"/><circle cx="130.0" cy="609.0" r="1.9" fill="#9467bd"/><circle cx="137.6" cy="606.3" r="1.9" fill="#9467bd"/><circle cx="141.3" cy="602.6" r="1.9" fill="#9467bd"/><circle cx="142.6" cy="596.3" r="1.9" fill="#9467bd"/><circle cx="150.9" cy="590.5" r="1.9" fill="#9467bd"/><circle cx="158.7" cy="582.7" r="1.9" fill="#9467bd"/><circle cx="163.9" cy="581.4" r="1.9" fill="#9467bd"/><circle cx="169.1" cy="572.3" r="1.9" fill="#9467bd"/><circle cx="174.3" cy="563.2" r="1.9" fill="#9467bd"/><circle cx="180.8" cy="558.1" r="1.9" fill="#9467bd"/><circle cx="186.0" cy="552.9" r="1.9" fill="#9467bd"/><circle cx="192.5" cy="549.0" r="1.9" fill="#9467bd"/><circle cx="196.4" cy="541.2" r="1.9" fill="#9467bd"/><circle cx="202.8" cy="539.9" r="1.9" fill="#9467bd"/><circle cx="209.3" cy="539.9" r="1.9" fill="#9467bd"/><circle cx="210.6" cy="533.4" r="1.9" fill="#9467bd"/><circle cx="214.5" cy="533.4" r="1.9" fill="#9467bd"/><circle cx="218.4" cy="523.0" r="1.9" fill="#9467bd"/><circle cx="226.2" cy="521.7" r="1.9" fill="#9467bd"/><circle cx="231.4" cy="519.1" r="1.9" fill="#9467bd"/><circle cx="239.2" cy="516.5" r="1.9" fill="#9467bd"/><circle cx="247.8" cy="510.1" r="1.9" fill="#9467bd"/><circle cx="253.0" cy="499.7" r="1.9" fill="#9467bd"/><circle cx="258.2" cy="497.1" r="1.9" fill="#9467bd"/><circle cx="268.5" cy="493.8" r="1.9" fill="#9467bd"/><circle cx="277.6" cy="489.9" r="1.9" fill="#9467bd"/><circle cx="288.0" cy="488.0" r="1.9" fill="#9467bd"/><circle cx="294.5" cy="482.8" r="1.9" fill="#9467bd"/><circle cx="301.0" cy="480.2" r="1.9" fill="#9467bd"/><circle cx="306.2" cy="478.3" r="1.9" fill="#9467bd"/><circle cx="314.0" cy="477.6" r="1.9" fill="#9467bd"/><circle cx="323.0" cy="476.3" r="1.9" fill="#9467bd"/><circle cx="330.8" cy="473.7" r="1.9" fill="#9467bd"/><circle cx="341.2" cy="473.1" r="1.9" fill="#9467bd"/><circle cx="350.3" cy="471.1" r="1.9" fill="#9467bd"/><circle cx="360.0" cy="468.5" r="1.9" fill="#9467bd"/><circle cx="375.1" cy="462.4" r="1.9" fill="#9467bd"/><circle cx="383.1" cy="459.8" r="1.9" fill="#9467bd"/><circle cx="392.5" cy="458.4" r="1.9" fill="#9467bd"/><circle cx="399.2" cy="456.4" r="1.9" fill="#9467bd"/><circle cx="411.2" cy="454.4" r="1.9" fill="#9467bd"/><circle cx="424.6" cy="451.7" r="1.9" fill="#9467bd"/><circle cx="431.3" cy="449.0" r="1.9" fill="#9467bd"/><circle cx="438.0" cy="448.4" r="1.9" fill="#9467bd"/><circle cx="448.7" cy="447.0" r="1.9" fill="#9467bd"/><circle cx="459.4" cy="445.7" r="1.9" fill="#9467bd"/><circle cx="466.1" cy="443.7" r="1.9" fill="#9467bd"/><circle cx="483.3" cy="441.8" r="1.9" fill="#9467bd"/>
<polyline points="52.0,742.3 56.9,742.2 56.9,729.0 70.1,729.0 70.1,715.8 90.3,715.8 90.3,702.6 94.7,702.6 94.7,690.0 95.9,676.8 100.9,676.8 100.9,663.6 138.2,663.6 138.2,650.6 143.8,650.6 143.8,637.5 165.2,637.5 165.2,624.6 167.1,611.4 187.8,611.4 187.8,598.5 226.8,598.5 226.8,585.3 236.6,585.3 236.6,572.3 253.6,572.3 253.6,559.1 273.1,559.1 273.1,546.4 274.4,532.8 278.3,532.8 278.3,519.8 352.2,519.8 352.2,506.8 403.8,506.8 403.8,493.9 404.5,480.5 435.3,480.5 435.3,467.1 436.0,454.4 457.4,454.4 457.4,441.8 483.3,441.8" fill="none" stroke="#8c564b" stroke-width="2" stroke-linejoin="round" stroke-linecap="round"/>
<circle cx="52.0" cy="742.3" r="1.9" fill="#8c564b"/><circle cx="56.9" cy="742.2" r="1.9" fill="#8c564b"/><circle cx="56.9" cy="729.0" r="1.9" fill="#8c564b"/><circle cx="70.1" cy="729.0" r="1.9" fill="#8c564b"/><circle cx="70.1" cy="715.8" r="1.9" fill="#8c564b"/><circle cx="90.3" cy="715.8" r="1.9" fill="#8c564b"/><circle cx="90.3" cy="702.6" r="1.9" fill="#8c564b"/><circle cx="94.7" cy="702.6" r="1.9" fill="#8c564b"/><circle cx="94.7" cy="690.0" r="1.9" fill="#8c564b"/><circle cx="95.9" cy="676.8" r="1.9" fill="#8c564b"/><circle cx="100.9" cy="676.8" r="1.9" fill="#8c564b"/><circle cx="100.9" cy="663.6" r="1.9" fill="#8c564b"/><circle cx="138.2" cy="663.6" r="1.9" fill="#8c564b"/><circle cx="138.2" cy="650.6" r="1.9" fill="#8c564b"/><circle cx="143.8" cy="650.6" r="1.9" fill="#8c564b"/><circle cx="143.8" cy="637.5" r="1.9" fill="#8c564b"/><circle cx="165.2" cy="637.5" r="1.9" fill="#8c564b"/><circle cx="165.2" cy="624.6" r="1.9" fill="#8c564b"/><circle cx="167.1" cy="611.4" r="1.9" fill="#8c564b"/><circle cx="187.8" cy="611.4" r="1.9" fill="#8c564b"/><circle cx="187.8" cy="598.5" r="1.9" fill="#8c564b"/><circle cx="226.8" cy="598.5" r="1.9" fill="#8c564b"/><circle cx="226.8" cy="585.3" r="1.9" fill="#8c564b"/><circle cx="236.6" cy="585.3" r="1.9" fill="#8c564b"/><circle cx="236.6" cy="572.3" r="1.9" fill="#8c564b"/><circle cx="253.6" cy="572.3" r="1.9" fill="#8c564b"/><circle cx="253.6" cy="559.1" r="1.9" fill="#8c564b"/><circle cx="273.1" cy="559.1" r="1.9" fill="#8c564b"/><circle cx="273.1" cy="546.4" r="1.9" fill="#8c564b"/><circle cx="274.4" cy="532.8" r="1.9" fill="#8c564b"/><circle cx="278.3" cy="532.8" r="1.9" fill="#8c564b"/><circle cx="278.3" cy="519.8" r="1.9" fill="#8c564b"/><circle cx="352.2" cy="519.8" r="1.9" fill="#8c564b"/><circle cx="352.2" cy="506.8" r="1.9" fill="#8c564b"/><circle cx="403.8" cy="506.8" r="1.9" fill="#8c564b"/><circle cx="403.8" cy="493.9" r="1.9" fill="#8c564b"/><circle cx="404.5" cy="480.5" r="1.9" fill="#8c564b"/><circle cx="435.3" cy="480.5" r="1.9" fill="#8c564b"/><circle cx="435.3" cy="467.1" r="1.9" fill="#8c564b"/><circle cx="436.0" cy="454.4" r="1.9" fill="#8c564b"/><circle cx="457.4" cy="454.4" r="1.9" fill="#8c564b"/><circle cx="457.4" cy="441.8" r="1.9" fill="#8c564b"/><circle cx="483.3" cy="441.8" r="1.9" fill="#8c564b"/>
<polyline points="52.0,742.3 52.5,741.0 52.5,668.0 52.5,659.2 55.7,659.2 56.3,648.5 56.3,627.7 58.8,627.7 59.4,617.0 63.8,617.0 63.8,596.9 73.3,596.9 73.3,586.5 75.8,586.5 75.8,576.5 80.2,576.5 80.2,565.8 82.7,565.8 82.7,555.5 110.4,555.5 110.4,545.4 120.2,545.4 120.2,535.2 133.4,535.2 133.4,524.6 173.7,524.6 173.7,514.0 173.7,503.6 175.6,503.6 180.8,503.6 180.8,493.2 184.7,493.2 184.7,482.8 190.5,482.8 190.5,472.4 245.2,472.4 245.2,462.1 440.0,462.1 440.0,451.7 451.3,451.7 451.3,441.8 483.3,441.8" fill="none" stroke="#e377c2" stroke-width="2" stroke-linejoin="round" stroke-linecap="round"/>
<circle cx="52.0" cy="742.3" r="1.9" fill="#e377c2"/><circle cx="52.5" cy="741.0" r="1.9" fill="#e377c2"/><circle cx="52.5" cy="668.0" r="1.9" fill="#e377c2"/><circle cx="52.5" cy="659.2" r="1.9" fill="#e377c2"/><circle cx="55.7" cy="659.2" r="1.9" fill="#e377c2"/><circle cx="56.3" cy="648.5" r="1.9" fill="#e377c2"/><circle cx="56.3" cy="627.7" r="1.9" fill="#e377c2"/><circle cx="58.8" cy="627.7" r="1.9" fill="#e377c2"/><circle cx="59.4" cy="617.0" r="1.9" fill="#e377c2"/><circle cx="63.8" cy="617.0" r="1.9" fill="#e377c2"/><circle cx="63.8" cy="596.9" r="1.9" fill="#e377c2"/><circle cx="73.3" cy="596.9" r="1.9" fill="#e377c2"/><circle cx="73.3" cy="586.5" r="1.9" fill="#e377c2"/><circle cx="75.8" cy="586.5" r="1.9" fill="#e377c2"/><circle cx="75.8" cy="576.5" r="1.9" fill="#e377c2"/><circle cx="80.2" cy="576.5" r="1.9" fill="#e377c2"/><circle cx="80.2" cy="565.8" r="1.9" fill="#e377c2"/><circle cx="82.7" cy="565.8" r="1.9" fill="#e377c2"/><circle cx="82.7" cy="555.5" r="1.9" fill="#e377c2"/><circle cx="110.4" cy="555.5" r="1.9" fill="#e377c2"/><circle cx="110.4" cy="545.4" r="1.9" fill="#e377c2"/><circle cx="120.2" cy="545.4" r="1.9" fill="#e377c2"/><circle cx="120.2" cy="535.2" r="1.9" fill="#e377c2"/><circle cx="133.4" cy="535.2" r="1.9" fill="#e377c2"/><circle cx="133.4" cy="524.6" r="1.9" fill="#e377c2"/><circle cx="173.7" cy="524.6" r="1.9" fill="#e377c2"/><circle cx="173.7" cy="514.0" r="1.9" fill="#e377c2"/><circle cx="173.7" cy="503.6" r="1.9" fill="#e377c2"/><circle cx="175.6" cy="503.6" r="1.9" fill="#e377c2"/><circle cx="180.8" cy="503.6" r="1.9" fill="#e377c2"/><circle cx="180.8" cy="493.2" r="1.9" fill="#e377c2"/><circle cx="184.7" cy="493.2" r="1.9" fill="#e377c2"/><circle cx="184.7" cy="482.8" r="1.9" fill="#e377c2"/><circle cx="190.5" cy="482.8" r="1.9" fill="#e377c2"/><circle cx="190.5" cy="472.4" r="1.9" fill="#e377c2"/><circle cx="245.2" cy="472.4" r="1.9" fill="#e377c2"/><circle cx="245.2" cy="462.1" r="1.9" fill="#e377c2"/><circle cx="440.0" cy="462.1" r="1.9" fill="#e377c2"/><circle cx="440.0" cy="451.7" r="1.9" fill="#e377c2"/><circle cx="451.3" cy="451.7" r="1.9" fill="#e377c2"/><circle cx="451.3" cy="441.8" r="1.9" fill="#e377c2"/><circle cx="483.3" cy="441.8" r="1.9" fill="#e377c2"/>
</g>
<rect x="52" y="426.8" width="431.30" height="315.50" fill="none" stroke="#000" stroke-width="1.25"/>
<line x1="52.00" y1="742.3" x2="52.00" y2="745.90" class="t"/>
<line x1="48.40" y1="742.30" x2="52" y2="742.30" class="t"/>
<text x="44.00" y="757.10" class="tk" textLength="16" lengthAdjust="spacingAndGlyphs">0.0</text>
<text x="29.50" y="746.50" class="tk" textLength="16" lengthAdjust="spacingAndGlyphs">0.0</text>
<line x1="138.26" y1="742.3" x2="138.26" y2="745.90" class="t"/>
<line x1="48.40" y1="682.20" x2="52" y2="682.20" class="t"/>
<text x="130.26" y="757.10" class="tk" textLength="16" lengthAdjust="spacingAndGlyphs">0.2</text>
<text x="29.50" y="686.40" class="tk" textLength="16" lengthAdjust="spacingAndGlyphs">0.2</text>
<line x1="224.52" y1="742.3" x2="224.52" y2="745.90" class="t"/>
<line x1="48.40" y1="622.11" x2="52" y2="622.11" class="t"/>
<text x="216.52" y="757.10" class="tk" textLength="16" lengthAdjust="spacingAndGlyphs">0.4</text>
<text x="29.50" y="626.31" class="tk" textLength="16" lengthAdjust="spacingAndGlyphs">0.4</text>
<line x1="310.78" y1="742.3" x2="310.78" y2="745.90" class="t"/>
<line x1="48.40" y1="562.01" x2="52" y2="562.01" class="t"/>
<text x="302.78" y="757.10" class="tk" textLength="16" lengthAdjust="spacingAndGlyphs">0.6</text>
<text x="29.50" y="566.21" class="tk" textLength="16" lengthAdjust="spacingAndGlyphs">0.6</text>
<line x1="397.04" y1="742.3" x2="397.04" y2="745.90" class="t"/>
<line x1="48.40" y1="501.92" x2="52" y2="501.92" class="t"/>
<text x="389.04" y="757.10" class="tk" textLength="16" lengthAdjust="spacingAndGlyphs">0.8</text>
<text x="29.50" y="506.12" class="tk" textLength="16" lengthAdjust="spacingAndGlyphs">0.8</text>
<line x1="483.30" y1="742.3" x2="483.30" y2="745.90" class="t"/>
<line x1="48.40" y1="441.82" x2="52" y2="441.82" class="t"/>
<text x="475.30" y="757.10" class="tk" textLength="16" lengthAdjust="spacingAndGlyphs">1.0</text>
<text x="29.50" y="446.02" class="tk" textLength="16" lengthAdjust="spacingAndGlyphs">1.0</text>
<text x="267.65" y="770.10" text-anchor="middle" class="al" textLength="90.2" lengthAdjust="spacingAndGlyphs">False Positive Rate</text>
<text transform="translate(24.20,584.55) rotate(-90)" x="0" y="0" text-anchor="middle" class="al" textLength="87.2" lengthAdjust="spacingAndGlyphs">True Positive Rate</text>
</g>
<g id="pd">
<clipPath id="cd"><rect x="553.4" y="430.5" width="428.40" height="313.40"/></clipPath>
<line x1="639.08" y1="743.9" x2="639.08" y2="430.5" class="g"/>
<line x1="553.4" y1="684.20" x2="981.8" y2="684.20" class="g"/>
<line x1="724.76" y1="743.9" x2="724.76" y2="430.5" class="g"/>
<line x1="553.4" y1="624.51" x2="981.8" y2="624.51" class="g"/>
<line x1="810.44" y1="743.9" x2="810.44" y2="430.5" class="g"/>
<line x1="553.4" y1="564.81" x2="981.8" y2="564.81" class="g"/>
<line x1="896.12" y1="743.9" x2="896.12" y2="430.5" class="g"/>
<line x1="553.4" y1="505.12" x2="981.8" y2="505.12" class="g"/>
<line x1="981.80" y1="743.9" x2="981.80" y2="430.5" class="g"/>
<line x1="553.4" y1="445.42" x2="981.8" y2="445.42" class="g"/>
<g clip-path="url(#cd)">
<line x1="553.4" y1="743.9" x2="981.8" y2="445.42" class="dg"/>
<polyline points="553.40,743.90 555.40,725.10 557.60,716.40 559.80,707.60 562.00,698.90 564.80,689.10 568.50,680.40 571.80,672.80 576.10,664.10 580.50,656.40 585.90,648.80 592.50,641.20 596.80,634.70 602.30,628.10 608.80,621.60 615.40,614.00 621.90,607.40 627.30,600.40 637.10,591.20 645.90,583.60 656.80,574.90 667.60,565.10 674.20,558.50 682.90,548.70 689.40,538.90 698.10,532.40 706.90,528.00 715.60,524.80 724.30,519.30 730.80,513.90 739.50,510.60 746.10,507.30 753.70,501.90 762.40,499.70 772.50,499.50 777.10,492.60 785.10,489.70 796.40,487.40 807.80,485.80 819.20,483.50 832.90,481.20 844.30,479.00 851.10,474.40 862.50,472.10 873.90,468.70 883.00,466.40 892.10,465.30 901.20,463.70 908.00,459.60 919.40,459.20 928.50,457.80 935.40,453.20 944.50,451.00 953.60,448.70 965.00,446.40 981.80,445.40" fill="none" stroke="#000080" stroke-width="4.2" stroke-dasharray="4.5 6.1"/>
<polyline points="553.40,743.90 553.90,720.70 554.80,698.90 555.90,672.80 557.00,651.00 558.30,633.60 559.80,618.30 561.30,603.10 563.10,590.00 564.20,582.50 567.40,567.30 570.70,556.40 570.70,555.60 571.00,555.60 571.00,554.80 571.30,554.80 571.30,554.00 571.60,554.00 571.60,553.20 571.90,553.20 571.90,552.40 572.20,552.40 572.20,551.60 572.50,551.60 572.50,550.80 572.80,550.80 572.80,550.00 573.10,550.00 573.10,549.20 573.40,549.20 573.40,548.40 573.70,548.40 573.70,547.60 574.00,547.60 574.00,546.84 574.43,546.84 574.43,546.08 574.86,546.08 574.86,545.32 575.29,545.32 575.29,544.56 575.72,544.56 575.72,543.80 576.15,543.80 576.15,543.04 576.58,543.04 576.58,542.28 577.01,542.28 577.01,541.52 577.44,541.52 577.44,540.76 577.87,540.76 577.87,540.00 578.30,540.00 578.30,539.31 579.09,539.31 579.09,538.62 579.88,538.62 579.88,537.93 580.67,537.93 580.67,537.24 581.46,537.24 581.46,536.55 582.25,536.55 582.25,535.85 583.05,535.85 583.05,535.16 583.84,535.16 583.84,534.47 584.63,534.47 584.63,533.78 585.42,533.78 585.42,533.09 586.21,533.09 586.21,532.40 587.00,532.40 587.00,531.86 587.78,531.86 587.78,531.31 588.56,531.31 588.56,530.77 589.34,530.77 589.34,530.23 590.11,530.23 590.11,529.69 590.89,529.69 590.89,529.14 591.67,529.14 591.67,528.60 592.45,528.60 592.45,528.06 593.23,528.06 593.23,527.51 594.01,527.51 594.01,526.97 594.79,526.97 594.79,526.43 595.56,526.43 595.56,525.89 596.34,525.89 596.34,525.34 597.12,525.34 597.12,524.80 597.90,524.80 597.90,524.29 598.67,524.29 598.67,523.78 599.44,523.78 599.44,523.26 600.21,523.26 600.21,522.75 600.98,522.75 600.98,522.24 601.75,522.24 601.75,521.73 602.52,521.73 602.52,521.22 603.29,521.22 603.29,520.71 604.06,520.71 604.06,520.19 604.84,520.19 604.84,519.68 605.61,519.68 605.61,519.17 606.38,519.17 606.38,518.66 607.15,518.66 607.15,518.15 607.92,518.15 607.92,517.64 608.69,517.64 608.69,517.12 609.46,517.12 609.46,516.61 610.23,516.61 610.23,516.10 611.00,516.10 611.00,515.65 611.77,515.65 611.77,515.19 612.54,515.19 612.54,514.74 613.31,514.74 613.31,514.29 614.08,514.29 614.08,513.84 614.85,513.84 614.85,513.38 615.62,513.38 615.62,512.93 616.39,512.93 616.39,512.48 617.16,512.48 617.16,512.02 617.94,512.02 617.94,511.57 618.71,511.57 618.71,511.12 619.48,511.12 619.48,510.66 620.25,510.66 620.25,510.21 621.02,510.21 621.02,509.76 621.79,509.76 621.79,509.31 622.56,509.31 622.56,508.85 623.33,508.85 623.33,508.40 624.10,508.40 624.10,507.78 624.88,507.78 624.88,507.16 625.66,507.16 625.66,506.54 626.44,506.54 626.44,505.91 627.21,505.91 627.21,505.29 627.99,505.29 627.99,504.67 628.77,504.67 628.77,504.05 629.55,504.05 629.55,503.43 630.33,503.43 630.33,502.81 631.11,502.81 631.11,502.19 631.89,502.19 631.89,501.56 632.66,501.56 632.66,500.94 633.44,500.94 633.44,500.32 634.22,500.32 634.22,499.70 635.00,499.70 635.00,499.21 635.79,499.21 635.79,498.72 636.58,498.72 636.58,498.23 637.37,498.23 637.37,497.74 638.16,497.74 638.16,497.25 638.95,497.25 638.95,496.75 639.75,496.75 639.75,496.26 640.54,496.26 640.54,495.77 641.33,495.77 641.33,495.28 642.12,495.28 642.12,494.79 642.91,494.79 642.91,494.30 643.70,494.30 643.70,493.83 644.48,493.83 644.48,493.36 645.26,493.36 645.26,492.89 646.04,492.89 646.04,492.41 646.81,492.41 646.81,491.94 647.59,491.94 647.59,491.47 648.37,491.47 648.37,491.00 649.15,491.00 649.15,490.53 649.93,490.53 649.93,490.06 650.71,490.06 650.71,489.59 651.49,489.59 651.49,489.11 652.26,489.11 652.26,488.64 653.04,488.64 653.04,488.17 653.82,488.17 653.82,487.70 654.60,487.70 654.60,487.31 655.38,487.31 655.38,486.93 656.16,486.93 656.16,486.54 656.94,486.54 656.94,486.16 657.71,486.16 657.71,485.77 658.49,485.77 658.49,485.39 659.27,485.39 659.27,485.00 660.05,485.00 660.05,484.61 660.83,484.61 660.83,484.23 661.61,484.23 661.61,483.84 662.39,483.84 662.39,483.46 663.16,483.46 663.16,483.07 663.94,483.07 663.94,482.69 664.72,482.69 664.72,482.30 665.50,482.30 665.50,481.84 666.28,481.84 666.28,481.37 667.06,481.37 667.06,480.91 667.84,480.91 667.84,480.44 668.61,480.44 668.61,479.98 669.39,479.98 669.39,479.51 670.17,479.51 670.17,479.05 670.95,479.05 670.95,478.59 671.73,478.59 671.73,478.12 672.51,478.12 672.51,477.66 673.29,477.66 673.29,477.19 674.06,477.19 674.06,476.73 674.84,476.73 674.84,476.26 675.62,476.26 675.62,475.80 676.40,475.80 676.40,475.49 677.18,475.49 677.18,475.17 677.96,475.17 677.96,474.86 678.74,474.86 678.74,474.54 679.51,474.54 679.51,474.23 680.29,474.23 680.29,473.91 681.07,473.91 681.07,473.60 681.85,473.60 681.85,473.29 682.63,473.29 682.63,472.97 683.41,472.97 683.41,472.66 684.19,472.66 684.19,472.34 684.96,472.34 684.96,472.03 685.74,472.03 685.74,471.71 686.52,471.71 686.52,471.40 687.30,471.40 702.50,469.20 715.60,465.90 728.60,462.70 741.70,459.40 754.80,457.20 760.00,456.30 771.40,453.90 782.80,452.30 794.20,451.20 810.10,450.00 828.30,448.90 851.10,448.20 873.90,447.50 885.30,447.10 908.00,446.60 930.80,445.90 953.60,445.50 981.80,445.40" fill="none" stroke="#ff1493" stroke-width="4.2" stroke-dasharray="4.5 6.1"/>
</g>
<rect x="553.4" y="430.5" width="428.40" height="313.40" fill="none" stroke="#000" stroke-width="1.25"/>
<line x1="553.40" y1="743.9" x2="553.40" y2="747.50" class="t"/>
<line x1="549.80" y1="743.90" x2="553.4" y2="743.90" class="t"/>
<text x="545.40" y="758.70" class="tk" textLength="16" lengthAdjust="spacingAndGlyphs">0.0</text>
<text x="530.90" y="748.10" class="tk" textLength="16" lengthAdjust="spacingAndGlyphs">0.0</text>
<line x1="639.08" y1="743.9" x2="639.08" y2="747.50" class="t"/>
<line x1="549.80" y1="684.20" x2="553.4" y2="684.20" class="t"/>
<text x="631.08" y="758.70" class="tk" textLength="16" lengthAdjust="spacingAndGlyphs">0.2</text>
<text x="530.90" y="688.40" class="tk" textLength="16" lengthAdjust="spacingAndGlyphs">0.2</text>
<line x1="724.76" y1="743.9" x2="724.76" y2="747.50" class="t"/>
<line x1="549.80" y1="624.51" x2="553.4" y2="624.51" class="t"/>
<text x="716.76" y="758.70" class="tk" textLength="16" lengthAdjust="spacingAndGlyphs">0.4</text>
<text x="530.90" y="628.71" class="tk" textLength="16" lengthAdjust="spacingAndGlyphs">0.4</text>
<line x1="810.44" y1="743.9" x2="810.44" y2="747.50" class="t"/>
<line x1="549.80" y1="564.81" x2="553.4" y2="564.81" class="t"/>
<text x="802.44" y="758.70" class="tk" textLength="16" lengthAdjust="spacingAndGlyphs">0.6</text>
<text x="530.90" y="569.01" class="tk" textLength="16" lengthAdjust="spacingAndGlyphs">0.6</text>
<line x1="896.12" y1="743.9" x2="896.12" y2="747.50" class="t"/>
<line x1="549.80" y1="505.12" x2="553.4" y2="505.12" class="t"/>
<text x="888.12" y="758.70" class="tk" textLength="16" lengthAdjust="spacingAndGlyphs">0.8</text>
<text x="530.90" y="509.32" class="tk" textLength="16" lengthAdjust="spacingAndGlyphs">0.8</text>
<line x1="981.80" y1="743.9" x2="981.80" y2="747.50" class="t"/>
<line x1="549.80" y1="445.42" x2="553.4" y2="445.42" class="t"/>
<text x="973.80" y="758.70" class="tk" textLength="16" lengthAdjust="spacingAndGlyphs">1.0</text>
<text x="530.90" y="449.62" class="tk" textLength="16" lengthAdjust="spacingAndGlyphs">1.0</text>
<text x="767.60" y="771.70" text-anchor="middle" class="al" textLength="89.5" lengthAdjust="spacingAndGlyphs">False Positive Rate</text>
<text transform="translate(525.90,587.20) rotate(-90)" x="0" y="0" text-anchor="middle" class="al" textLength="86" lengthAdjust="spacingAndGlyphs">True Positive Rate</text>
</g>
<g id="pe">
<clipPath id="ce"><rect x="53.4" y="838.6" width="431.90" height="315.80"/></clipPath>
<line x1="139.78" y1="1154.4" x2="139.78" y2="838.6" class="g"/>
<line x1="53.4" y1="1094.25" x2="485.3" y2="1094.25" class="g"/>
<line x1="226.16" y1="1154.4" x2="226.16" y2="838.6" class="g"/>
<line x1="53.4" y1="1034.10" x2="485.3" y2="1034.10" class="g"/>
<line x1="312.54" y1="1154.4" x2="312.54" y2="838.6" class="g"/>
<line x1="53.4" y1="973.94" x2="485.3" y2="973.94" class="g"/>
<line x1="398.92" y1="1154.4" x2="398.92" y2="838.6" class="g"/>
<line x1="53.4" y1="913.79" x2="485.3" y2="913.79" class="g"/>
<line x1="485.30" y1="1154.4" x2="485.30" y2="838.6" class="g"/>
<line x1="53.4" y1="853.64" x2="485.3" y2="853.64" class="g"/>
<g clip-path="url(#ce)">
<line x1="53.4" y1="1154.4" x2="485.3" y2="853.64" class="dg"/>
<polyline points="53.4,1154.4 56.4,1148.7 60.3,1138.5 65.4,1123.1 71.8,1115.4 75.6,1107.7 80.8,1101.3 85.9,1098.7 89.7,1091.0 96.2,1088.5 101.3,1078.2 106.4,1071.8 110.3,1064.1 115.4,1056.4 120.5,1052.6 124.4,1043.6 127.6,1041.3 133.6,1038.0 135.6,1032.0 142.2,1028.0 148.8,1021.4 152.8,1016.1 158.0,1014.8 162.0,1010.9 167.3,1006.9 172.6,1005.6 177.9,1001.6 180.8,989.0 186.0,987.7 192.5,986.4 199.0,981.2 208.0,977.3 215.8,972.1 222.3,969.5 230.1,963.1 235.3,957.9 239.2,951.4 245.2,948.8 251.7,946.2 259.5,937.1 267.2,934.5 273.7,929.3 278.9,924.1 286.7,922.8 291.9,921.5 301.0,920.9 301.0,917.0 307.5,917.0 311.4,911.8 317.8,908.6 325.6,906.0 336.0,899.5 342.5,895.0 347.7,894.5 352.9,893.5 363.0,890.8 369.7,885.4 375.1,880.1 385.7,876.8 397.8,874.8 408.5,871.4 413.8,871.4 419.2,868.7 429.9,867.4 440.6,862.7 449.9,860.1 459.3,857.4 472.6,854.7 485.3,853.6" fill="none" stroke="#1f77b4" stroke-width="3.9" stroke-linejoin="round" stroke-linecap="round"/>
<circle cx="53.4" cy="1154.4" r="1.9" fill="#1f77b4"/><circle cx="56.4" cy="1148.7" r="1.9" fill="#1f77b4"/><circle cx="60.3" cy="1138.5" r="1.9" fill="#1f77b4"/><circle cx="65.4" cy="1123.1" r="1.9" fill="#1f77b4"/><circle cx="71.8" cy="1115.4" r="1.9" fill="#1f77b4"/><circle cx="75.6" cy="1107.7" r="1.9" fill="#1f77b4"/><circle cx="80.8" cy="1101.3" r="1.9" fill="#1f77b4"/><circle cx="85.9" cy="1098.7" r="1.9" fill="#1f77b4"/><circle cx="89.7" cy="1091.0" r="1.9" fill="#1f77b4"/><circle cx="96.2" cy="1088.5" r="1.9" fill="#1f77b4"/><circle cx="101.3" cy="1078.2" r="1.9" fill="#1f77b4"/><circle cx="106.4" cy="1071.8" r="1.9" fill="#1f77b4"/><circle cx="110.3" cy="1064.1" r="1.9" fill="#1f77b4"/><circle cx="115.4" cy="1056.4" r="1.9" fill="#1f77b4"/><circle cx="120.5" cy="1052.6" r="1.9" fill="#1f77b4"/><circle cx="124.4" cy="1043.6" r="1.9" fill="#1f77b4"/><circle cx="127.6" cy="1041.3" r="1.9" fill="#1f77b4"/><circle cx="133.6" cy="1038.0" r="1.9" fill="#1f77b4"/><circle cx="135.6" cy="1032.0" r="1.9" fill="#1f77b4"/><circle cx="142.2" cy="1028.0" r="1.9" fill="#1f77b4"/><circle cx="148.8" cy="1021.4" r="1.9" fill="#1f77b4"/><circle cx="152.8" cy="1016.1" r="1.9" fill="#1f77b4"/><circle cx="158.0" cy="1014.8" r="1.9" fill="#1f77b4"/><circle cx="162.0" cy="1010.9" r="1.9" fill="#1f77b4"/><circle cx="167.3" cy="1006.9" r="1.9" fill="#1f77b4"/><circle cx="172.6" cy="1005.6" r="1.9" fill="#1f77b4"/><circle cx="177.9" cy="1001.6" r="1.9" fill="#1f77b4"/><circle cx="180.8" cy="989.0" r="1.9" fill="#1f77b4"/><circle cx="186.0" cy="987.7" r="1.9" fill="#1f77b4"/><circle cx="192.5" cy="986.4" r="1.9" fill="#1f77b4"/><circle cx="199.0" cy="981.2" r="1.9" fill="#1f77b4"/><circle cx="208.0" cy="977.3" r="1.9" fill="#1f77b4"/><circle cx="215.8" cy="972.1" r="1.9" fill="#1f77b4"/><circle cx="222.3" cy="969.5" r="1.9" fill="#1f77b4"/><circle cx="230.1" cy="963.1" r="1.9" fill="#1f77b4"/><circle cx="235.3" cy="957.9" r="1.9" fill="#1f77b4"/><circle cx="239.2" cy="951.4" r="1.9" fill="#1f77b4"/><circle cx="245.2" cy="948.8" r="1.9" fill="#1f77b4"/><circle cx="251.7" cy="946.2" r="1.9" fill="#1f77b4"/><circle cx="259.5" cy="937.1" r="1.9" fill="#1f77b4"/><circle cx="267.2" cy="934.5" r="1.9" fill="#1f77b4"/><circle cx="273.7" cy="929.3" r="1.9" fill="#1f77b4"/><circle cx="278.9" cy="924.1" r="1.9" fill="#1f77b4"/><circle cx="286.7" cy="922.8" r="1.9" fill="#1f77b4"/><circle cx="291.9" cy="921.5" r="1.9" fill="#1f77b4"/><circle cx="301.0" cy="920.9" r="1.9" fill="#1f77b4"/><circle cx="301.0" cy="917.0" r="1.9" fill="#1f77b4"/><circle cx="307.5" cy="917.0" r="1.9" fill="#1f77b4"/><circle cx="311.4" cy="911.8" r="1.9" fill="#1f77b4"/><circle cx="317.8" cy="908.6" r="1.9" fill="#1f77b4"/><circle cx="325.6" cy="906.0" r="1.9" fill="#1f77b4"/><circle cx="336.0" cy="899.5" r="1.9" fill="#1f77b4"/><circle cx="342.5" cy="895.0" r="1.9" fill="#1f77b4"/><circle cx="347.7" cy="894.5" r="1.9" fill="#1f77b4"/><circle cx="352.9" cy="893.5" r="1.9" fill="#1f77b4"/><circle cx="363.0" cy="890.8" r="1.9" fill="#1f77b4"/><circle cx="369.7" cy="885.4" r="1.9" fill="#1f77b4"/><circle cx="375.1" cy="880.1" r="1.9" fill="#1f77b4"/><circle cx="385.7" cy="876.8" r="1.9" fill="#1f77b4"/><circle cx="397.8" cy="874.8" r="1.9" fill="#1f77b4"/><circle cx="408.5" cy="871.4" r="1.9" fill="#1f77b4"/><circle cx="413.8" cy="871.4" r="1.9" fill="#1f77b4"/><circle cx="419.2" cy="868.7" r="1.9" fill="#1f77b4"/><circle cx="429.9" cy="867.4" r="1.9" fill="#1f77b4"/><circle cx="440.6" cy="862.7" r="1.9" fill="#1f77b4"/><circle cx="449.9" cy="860.1" r="1.9" fill="#1f77b4"/><circle cx="459.3" cy="857.4" r="1.9" fill="#1f77b4"/><circle cx="472.6" cy="854.7" r="1.9" fill="#1f77b4"/><circle cx="485.3" cy="853.6" r="1.9" fill="#1f77b4"/>
<polyline points="53.4,1154.4 56.4,1141.0 62.8,1123.1 66.7,1109.0 70.5,1097.4 76.9,1087.2 82.1,1076.9 88.5,1066.7 93.6,1056.4 98.7,1048.7 105.1,1041.0 110.3,1033.3 112.8,1025.6 119.2,1021.8 125.0,1017.0 127.6,1012.2 131.6,1008.2 135.6,1000.3 138.0,998.1 144.5,990.3 150.9,982.5 160.0,976.0 169.1,969.5 176.9,961.8 187.3,954.0 195.1,947.5 202.8,941.0 210.6,935.8 221.0,931.9 228.8,928.0 237.9,922.8 245.0,917.5 255.6,909.9 265.9,907.3 273.7,905.3 277.6,902.7 284.1,896.9 291.9,895.6 298.4,893.0 307.5,890.4 317.8,886.5 330.8,882.6 343.8,880.7 355.0,879.0 363.0,877.4 371.0,874.8 381.7,869.4 392.4,865.4 405.8,861.4 419.2,859.4 432.5,857.4 445.9,855.4 461.9,854.0 485.3,853.6" fill="none" stroke="#ff7f0e" stroke-width="3.9" stroke-linejoin="round" stroke-linecap="round"/>
<circle cx="53.4" cy="1154.4" r="1.9" fill="#ff7f0e"/><circle cx="56.4" cy="1141.0" r="1.9" fill="#ff7f0e"/><circle cx="62.8" cy="1123.1" r="1.9" fill="#ff7f0e"/><circle cx="66.7" cy="1109.0" r="1.9" fill="#ff7f0e"/><circle cx="70.5" cy="1097.4" r="1.9" fill="#ff7f0e"/><circle cx="76.9" cy="1087.2" r="1.9" fill="#ff7f0e"/><circle cx="82.1" cy="1076.9" r="1.9" fill="#ff7f0e"/><circle cx="88.5" cy="1066.7" r="1.9" fill="#ff7f0e"/><circle cx="93.6" cy="1056.4" r="1.9" fill="#ff7f0e"/><circle cx="98.7" cy="1048.7" r="1.9" fill="#ff7f0e"/><circle cx="105.1" cy="1041.0" r="1.9" fill="#ff7f0e"/><circle cx="110.3" cy="1033.3" r="1.9" fill="#ff7f0e"/><circle cx="112.8" cy="1025.6" r="1.9" fill="#ff7f0e"/><circle cx="119.2" cy="1021.8" r="1.9" fill="#ff7f0e"/><circle cx="125.0" cy="1017.0" r="1.9" fill="#ff7f0e"/><circle cx="127.6" cy="1012.2" r="1.9" fill="#ff7f0e"/><circle cx="131.6" cy="1008.2" r="1.9" fill="#ff7f0e"/><circle cx="135.6" cy="1000.3" r="1.9" fill="#ff7f0e"/><circle cx="138.0" cy="998.1" r="1.9" fill="#ff7f0e"/><circle cx="144.5" cy="990.3" r="1.9" fill="#ff7f0e"/><circle cx="150.9" cy="982.5" r="1.9" fill="#ff7f0e"/><circle cx="160.0" cy="976.0" r="1.9" fill="#ff7f0e"/><circle cx="169.1" cy="969.5" r="1.9" fill="#ff7f0e"/><circle cx="176.9" cy="961.8" r="1.9" fill="#ff7f0e"/><circle cx="187.3" cy="954.0" r="1.9" fill="#ff7f0e"/><circle cx="195.1" cy="947.5" r="1.9" fill="#ff7f0e"/><circle cx="202.8" cy="941.0" r="1.9" fill="#ff7f0e"/><circle cx="210.6" cy="935.8" r="1.9" fill="#ff7f0e"/><circle cx="221.0" cy="931.9" r="1.9" fill="#ff7f0e"/><circle cx="228.8" cy="928.0" r="1.9" fill="#ff7f0e"/><circle cx="237.9" cy="922.8" r="1.9" fill="#ff7f0e"/><circle cx="245.0" cy="917.5" r="1.9" fill="#ff7f0e"/><circle cx="255.6" cy="909.9" r="1.9" fill="#ff7f0e"/><circle cx="265.9" cy="907.3" r="1.9" fill="#ff7f0e"/><circle cx="273.7" cy="905.3" r="1.9" fill="#ff7f0e"/><circle cx="277.6" cy="902.7" r="1.9" fill="#ff7f0e"/><circle cx="284.1" cy="896.9" r="1.9" fill="#ff7f0e"/><circle cx="291.9" cy="895.6" r="1.9" fill="#ff7f0e"/><circle cx="298.4" cy="893.0" r="1.9" fill="#ff7f0e"/><circle cx="307.5" cy="890.4" r="1.9" fill="#ff7f0e"/><circle cx="317.8" cy="886.5" r="1.9" fill="#ff7f0e"/><circle cx="330.8" cy="882.6" r="1.9" fill="#ff7f0e"/><circle cx="343.8" cy="880.7" r="1.9" fill="#ff7f0e"/><circle cx="355.0" cy="879.0" r="1.9" fill="#ff7f0e"/><circle cx="363.0" cy="877.4" r="1.9" fill="#ff7f0e"/><circle cx="371.0" cy="874.8" r="1.9" fill="#ff7f0e"/><circle cx="381.7" cy="869.4" r="1.9" fill="#ff7f0e"/><circle cx="392.4" cy="865.4" r="1.9" fill="#ff7f0e"/><circle cx="405.8" cy="861.4" r="1.9" fill="#ff7f0e"/><circle cx="419.2" cy="859.4" r="1.9" fill="#ff7f0e"/><circle cx="432.5" cy="857.4" r="1.9" fill="#ff7f0e"/><circle cx="445.9" cy="855.4" r="1.9" fill="#ff7f0e"/><circle cx="461.9" cy="854.0" r="1.9" fill="#ff7f0e"/><circle cx="485.3" cy="853.6" r="1.9" fill="#ff7f0e"/>
<polyline points="53.4,1154.4 53.8,1141.0 53.8,1119.2 55.1,1119.2 55.1,1102.6 57.7,1102.6 57.7,1089.7 59.6,1089.7 59.6,1078.2 61.5,1078.2 61.5,1066.7 62.8,1066.7 62.8,1055.1 64.7,1055.1 64.7,1043.6 66.0,1043.6 66.0,1035.9 68.6,1035.9 68.6,1032.7 71.8,1032.7 71.8,1023.1 73.7,1023.1 73.7,1016.7 75.0,1016.7 75.0,1010.3 76.9,1010.3 76.9,1001.3 79.5,1001.3 79.9,995.6 79.9,987.9 83.1,987.9 83.1,978.8 85.1,978.8 85.1,971.0 86.4,971.0 90.3,971.0 90.3,964.5 92.9,964.5 92.9,959.3 95.5,959.3 99.4,959.3 99.4,947.6 101.3,947.6 101.3,943.7 104.5,943.7 111.0,943.7 111.0,938.5 114.3,938.5 114.3,935.9 118.8,935.9 118.8,934.6 125.3,934.6 125.3,931.9 128.9,931.9 128.9,924.1 131.5,924.1 131.5,922.2 133.4,922.2 133.4,920.2 135.4,920.2 135.4,912.5 138.0,912.5 138.0,910.5 139.9,910.5 139.9,908.6 141.9,908.6 141.9,907.3 156.8,907.3 157.4,905.3 157.4,903.4 166.5,903.4 166.5,901.5 168.4,901.5 168.4,899.5 170.4,899.5 170.4,896.9 174.3,896.9 184.7,896.9 184.7,893.7 186.0,893.7 186.0,891.1 189.9,891.1 189.9,888.5 194.4,888.5 194.4,887.2 204.1,887.2 204.1,884.6 205.4,884.6 211.9,884.6 211.9,882.6 213.2,882.6 213.2,881.3 220.4,881.3 221.0,879.4 233.3,879.4 234.0,876.8 254.9,876.8 254.9,873.5 264.0,873.5 264.0,870.3 306.2,870.3 306.2,867.7 350.9,867.7 351.6,861.9 361.0,861.9 361.7,858.7 362.4,856.0 371.0,856.0 371.0,853.6 485.3,853.6" fill="none" stroke="#2ca02c" stroke-width="2" stroke-linejoin="round" stroke-linecap="round"/>
<circle cx="53.4" cy="1154.4" r="1.9" fill="#2ca02c"/><circle cx="53.8" cy="1141.0" r="1.9" fill="#2ca02c"/><circle cx="53.8" cy="1119.2" r="1.9" fill="#2ca02c"/><circle cx="55.1" cy="1119.2" r="1.9" fill="#2ca02c"/><circle cx="55.1" cy="1102.6" r="1.9" fill="#2ca02c"/><circle cx="57.7" cy="1102.6" r="1.9" fill="#2ca02c"/><circle cx="57.7" cy="1089.7" r="1.9" fill="#2ca02c"/><circle cx="59.6" cy="1089.7" r="1.9" fill="#2ca02c"/><circle cx="59.6" cy="1078.2" r="1.9" fill="#2ca02c"/><circle cx="61.5" cy="1078.2" r="1.9" fill="#2ca02c"/><circle cx="61.5" cy="1066.7" r="1.9" fill="#2ca02c"/><circle cx="62.8" cy="1066.7" r="1.9" fill="#2ca02c"/><circle cx="62.8" cy="1055.1" r="1.9" fill="#2ca02c"/><circle cx="64.7" cy="1055.1" r="1.9" fill="#2ca02c"/><circle cx="64.7" cy="1043.6" r="1.9" fill="#2ca02c"/><circle cx="66.0" cy="1043.6" r="1.9" fill="#2ca02c"/><circle cx="66.0" cy="1035.9" r="1.9" fill="#2ca02c"/><circle cx="68.6" cy="1035.9" r="1.9" fill="#2ca02c"/><circle cx="68.6" cy="1032.7" r="1.9" fill="#2ca02c"/><circle cx="71.8" cy="1032.7" r="1.9" fill="#2ca02c"/><circle cx="71.8" cy="1023.1" r="1.9" fill="#2ca02c"/><circle cx="73.7" cy="1023.1" r="1.9" fill="#2ca02c"/><circle cx="73.7" cy="1016.7" r="1.9" fill="#2ca02c"/><circle cx="75.0" cy="1016.7" r="1.9" fill="#2ca02c"/><circle cx="75.0" cy="1010.3" r="1.9" fill="#2ca02c"/><circle cx="76.9" cy="1010.3" r="1.9" fill="#2ca02c"/><circle cx="76.9" cy="1001.3" r="1.9" fill="#2ca02c"/><circle cx="79.5" cy="1001.3" r="1.9" fill="#2ca02c"/><circle cx="79.9" cy="995.6" r="1.9" fill="#2ca02c"/><circle cx="79.9" cy="987.9" r="1.9" fill="#2ca02c"/><circle cx="83.1" cy="987.9" r="1.9" fill="#2ca02c"/><circle cx="83.1" cy="978.8" r="1.9" fill="#2ca02c"/><circle cx="85.1" cy="978.8" r="1.9" fill="#2ca02c"/><circle cx="85.1" cy="971.0" r="1.9" fill="#2ca02c"/><circle cx="86.4" cy="971.0" r="1.9" fill="#2ca02c"/><circle cx="90.3" cy="971.0" r="1.9" fill="#2ca02c"/><circle cx="90.3" cy="964.5" r="1.9" fill="#2ca02c"/><circle cx="92.9" cy="964.5" r="1.9" fill="#2ca02c"/><circle cx="92.9" cy="959.3" r="1.9" fill="#2ca02c"/><circle cx="95.5" cy="959.3" r="1.9" fill="#2ca02c"/><circle cx="99.4" cy="959.3" r="1.9" fill="#2ca02c"/><circle cx="99.4" cy="947.6" r="1.9" fill="#2ca02c"/><circle cx="101.3" cy="947.6" r="1.9" fill="#2ca02c"/><circle cx="101.3" cy="943.7" r="1.9" fill="#2ca02c"/><circle cx="104.5" cy="943.7" r="1.9" fill="#2ca02c"/><circle cx="111.0" cy="943.7" r="1.9" fill="#2ca02c"/><circle cx="111.0" cy="938.5" r="1.9" fill="#2ca02c"/><circle cx="114.3" cy="938.5" r="1.9" fill="#2ca02c"/><circle cx="114.3" cy="935.9" r="1.9" fill="#2ca02c"/><circle cx="118.8" cy="935.9" r="1.9" fill="#2ca02c"/><circle cx="118.8" cy="934.6" r="1.9" fill="#2ca02c"/><circle cx="125.3" cy="934.6" r="1.9" fill="#2ca02c"/><circle cx="125.3" cy="931.9" r="1.9" fill="#2ca02c"/><circle cx="128.9" cy="931.9" r="1.9" fill="#2ca02c"/><circle cx="128.9" cy="924.1" r="1.9" fill="#2ca02c"/><circle cx="131.5" cy="924.1" r="1.9" fill="#2ca02c"/><circle cx="131.5" cy="922.2" r="1.9" fill="#2ca02c"/><circle cx="133.4" cy="922.2" r="1.9" fill="#2ca02c"/><circle cx="133.4" cy="920.2" r="1.9" fill="#2ca02c"/><circle cx="135.4" cy="920.2" r="1.9" fill="#2ca02c"/><circle cx="135.4" cy="912.5" r="1.9" fill="#2ca02c"/><circle cx="138.0" cy="912.5" r="1.9" fill="#2ca02c"/><circle cx="138.0" cy="910.5" r="1.9" fill="#2ca02c"/><circle cx="139.9" cy="910.5" r="1.9" fill="#2ca02c"/><circle cx="139.9" cy="908.6" r="1.9" fill="#2ca02c"/><circle cx="141.9" cy="908.6" r="1.9" fill="#2ca02c"/><circle cx="141.9" cy="907.3" r="1.9" fill="#2ca02c"/><circle cx="156.8" cy="907.3" r="1.9" fill="#2ca02c"/><circle cx="157.4" cy="905.3" r="1.9" fill="#2ca02c"/><circle cx="157.4" cy="903.4" r="1.9" fill="#2ca02c"/><circle cx="166.5" cy="903.4" r="1.9" fill="#2ca02c"/><circle cx="166.5" cy="901.5" r="1.9" fill="#2ca02c"/><circle cx="168.4" cy="901.5" r="1.9" fill="#2ca02c"/><circle cx="168.4" cy="899.5" r="1.9" fill="#2ca02c"/><circle cx="170.4" cy="899.5" r="1.9" fill="#2ca02c"/><circle cx="170.4" cy="896.9" r="1.9" fill="#2ca02c"/><circle cx="174.3" cy="896.9" r="1.9" fill="#2ca02c"/><circle cx="184.7" cy="896.9" r="1.9" fill="#2ca02c"/><circle cx="184.7" cy="893.7" r="1.9" fill="#2ca02c"/><circle cx="186.0" cy="893.7" r="1.9" fill="#2ca02c"/><circle cx="186.0" cy="891.1" r="1.9" fill="#2ca02c"/><circle cx="189.9" cy="891.1" r="1.9" fill="#2ca02c"/><circle cx="189.9" cy="888.5" r="1.9" fill="#2ca02c"/><circle cx="194.4" cy="888.5" r="1.9" fill="#2ca02c"/><circle cx="194.4" cy="887.2" r="1.9" fill="#2ca02c"/><circle cx="204.1" cy="887.2" r="1.9" fill="#2ca02c"/><circle cx="204.1" cy="884.6" r="1.9" fill="#2ca02c"/><circle cx="205.4" cy="884.6" r="1.9" fill="#2ca02c"/><circle cx="211.9" cy="884.6" r="1.9" fill="#2ca02c"/><circle cx="211.9" cy="882.6" r="1.9" fill="#2ca02c"/><circle cx="213.2" cy="882.6" r="1.9" fill="#2ca02c"/><circle cx="213.2" cy="881.3" r="1.9" fill="#2ca02c"/><circle cx="220.4" cy="881.3" r="1.9" fill="#2ca02c"/><circle cx="221.0" cy="879.4" r="1.9" fill="#2ca02c"/><circle cx="233.3" cy="879.4" r="1.9" fill="#2ca02c"/><circle cx="234.0" cy="876.8" r="1.9" fill="#2ca02c"/><circle cx="254.9" cy="876.8" r="1.9" fill="#2ca02c"/><circle cx="254.9" cy="873.5" r="1.9" fill="#2ca02c"/><circle cx="264.0" cy="873.5" r="1.9" fill="#2ca02c"/><circle cx="264.0" cy="870.3" r="1.9" fill="#2ca02c"/><circle cx="306.2" cy="870.3" r="1.9" fill="#2ca02c"/><circle cx="306.2" cy="867.7" r="1.9" fill="#2ca02c"/><circle cx="350.9" cy="867.7" r="1.9" fill="#2ca02c"/><circle cx="351.6" cy="861.9" r="1.9" fill="#2ca02c"/><circle cx="361.0" cy="861.9" r="1.9" fill="#2ca02c"/><circle cx="361.7" cy="858.7" r="1.9" fill="#2ca02c"/><circle cx="362.4" cy="856.0" r="1.9" fill="#2ca02c"/><circle cx="371.0" cy="856.0" r="1.9" fill="#2ca02c"/><circle cx="371.0" cy="853.6" r="1.9" fill="#2ca02c"/><circle cx="485.3" cy="853.6" r="1.9" fill="#2ca02c"/>
<polyline points="53.4,1154.4 53.4,1141.0 55.1,1141.0 55.1,1126.9 57.1,1126.9 57.1,1111.5 60.3,1111.5 60.3,1103.8 62.8,1103.8 62.8,1094.9 65.4,1094.9 65.4,1087.2 67.3,1087.2 67.3,1084.7 69.5,1084.7 69.5,1082.1 71.8,1082.1 71.8,1079.1 73.9,1079.1 73.9,1076.1 76.1,1076.1 76.1,1073.1 78.2,1073.1 78.2,1069.2 80.2,1069.2 80.2,1065.4 82.1,1065.4 82.1,1061.5 84.2,1061.5 84.2,1057.7 86.4,1057.7 86.4,1053.8 88.5,1053.8 88.5,1048.7 91.0,1048.7 91.0,1043.6 93.6,1043.6 93.6,1032.1 96.2,1032.1 96.2,1027.6 98.1,1027.6 98.1,1023.1 100.0,1023.1 100.0,1016.7 102.6,1016.7 102.6,1010.3 105.1,1010.3 105.1,1003.8 107.7,1003.8 108.4,994.4 108.4,985.3 111.0,985.3 118.8,985.3 118.8,977.5 121.4,977.5 121.4,974.9 126.6,974.9 126.6,969.7 129.2,969.7 129.2,963.1 131.5,963.1 131.5,960.5 133.4,960.5 133.4,957.9 135.4,957.9 135.4,952.7 138.0,952.7 149.0,953.0 149.0,948.8 149.0,939.7 150.3,939.7 150.3,937.1 153.9,937.1 153.9,934.5 157.4,934.5 157.4,931.9 160.7,931.9 160.7,929.3 163.9,929.3 163.9,926.0 165.9,926.0 165.9,922.8 167.8,922.8 167.8,921.5 178.2,921.5 178.2,917.7 179.5,917.7 179.5,916.4 189.9,916.4 189.9,912.5 191.2,912.5 191.2,910.5 193.4,910.5 193.4,908.6 195.7,908.6 217.8,908.6 218.4,904.0 218.4,902.7 226.2,902.7 226.2,898.2 227.5,898.2 227.5,896.2 229.4,896.2 229.4,894.3 231.4,894.3 244.5,894.3 244.5,889.8 262.1,889.8 262.1,885.2 275.0,885.2 275.0,880.7 282.8,880.7 282.8,876.1 291.2,876.1 291.2,871.6 322.4,871.6 322.4,867.1 379.1,867.1 379.1,862.1 421.8,862.1 421.8,857.4 470.0,857.4 470.0,853.6 485.3,853.6" fill="none" stroke="#d62728" stroke-width="2" stroke-linejoin="round" stroke-linecap="round"/>
<circle cx="53.4" cy="1154.4" r="1.9" fill="#d62728"/><circle cx="53.4" cy="1141.0" r="1.9" fill="#d62728"/><circle cx="55.1" cy="1141.0" r="1.9" fill="#d62728"/><circle cx="55.1" cy="1126.9" r="1.9" fill="#d62728"/><circle cx="57.1" cy="1126.9" r="1.9" fill="#d62728"/><circle cx="57.1" cy="1111.5" r="1.9" fill="#d62728"/><circle cx="60.3" cy="1111.5" r="1.9" fill="#d62728"/><circle cx="60.3" cy="1103.8" r="1.9" fill="#d62728"/><circle cx="62.8" cy="1103.8" r="1.9" fill="#d62728"/><circle cx="62.8" cy="1094.9" r="1.9" fill="#d62728"/><circle cx="65.4" cy="1094.9" r="1.9" fill="#d62728"/><circle cx="65.4" cy="1087.2" r="1.9" fill="#d62728"/><circle cx="67.3" cy="1087.2" r="1.9" fill="#d62728"/><circle cx="67.3" cy="1084.7" r="1.9" fill="#d62728"/><circle cx="69.5" cy="1084.7" r="1.9" fill="#d62728"/><circle cx="69.5" cy="1082.1" r="1.9" fill="#d62728"/><circle cx="71.8" cy="1082.1" r="1.9" fill="#d62728"/><circle cx="71.8" cy="1079.1" r="1.9" fill="#d62728"/><circle cx="73.9" cy="1079.1" r="1.9" fill="#d62728"/><circle cx="73.9" cy="1076.1" r="1.9" fill="#d62728"/><circle cx="76.1" cy="1076.1" r="1.9" fill="#d62728"/><circle cx="76.1" cy="1073.1" r="1.9" fill="#d62728"/><circle cx="78.2" cy="1073.1" r="1.9" fill="#d62728"/><circle cx="78.2" cy="1069.2" r="1.9" fill="#d62728"/><circle cx="80.2" cy="1069.2" r="1.9" fill="#d62728"/><circle cx="80.2" cy="1065.4" r="1.9" fill="#d62728"/><circle cx="82.1" cy="1065.4" r="1.9" fill="#d62728"/><circle cx="82.1" cy="1061.5" r="1.9" fill="#d62728"/><circle cx="84.2" cy="1061.5" r="1.9" fill="#d62728"/><circle cx="84.2" cy="1057.7" r="1.9" fill="#d62728"/><circle cx="86.4" cy="1057.7" r="1.9" fill="#d62728"/><circle cx="86.4" cy="1053.8" r="1.9" fill="#d62728"/><circle cx="88.5" cy="1053.8" r="1.9" fill="#d62728"/><circle cx="88.5" cy="1048.7" r="1.9" fill="#d62728"/><circle cx="91.0" cy="1048.7" r="1.9" fill="#d62728"/><circle cx="91.0" cy="1043.6" r="1.9" fill="#d62728"/><circle cx="93.6" cy="1043.6" r="1.9" fill="#d62728"/><circle cx="93.6" cy="1032.1" r="1.9" fill="#d62728"/><circle cx="96.2" cy="1032.1" r="1.9" fill="#d62728"/><circle cx="96.2" cy="1027.6" r="1.9" fill="#d62728"/><circle cx="98.1" cy="1027.6" r="1.9" fill="#d62728"/><circle cx="98.1" cy="1023.1" r="1.9" fill="#d62728"/><circle cx="100.0" cy="1023.1" r="1.9" fill="#d62728"/><circle cx="100.0" cy="1016.7" r="1.9" fill="#d62728"/><circle cx="102.6" cy="1016.7" r="1.9" fill="#d62728"/><circle cx="102.6" cy="1010.3" r="1.9" fill="#d62728"/><circle cx="105.1" cy="1010.3" r="1.9" fill="#d62728"/><circle cx="105.1" cy="1003.8" r="1.9" fill="#d62728"/><circle cx="107.7" cy="1003.8" r="1.9" fill="#d62728"/><circle cx="108.4" cy="994.4" r="1.9" fill="#d62728"/><circle cx="108.4" cy="985.3" r="1.9" fill="#d62728"/><circle cx="111.0" cy="985.3" r="1.9" fill="#d62728"/><circle cx="118.8" cy="985.3" r="1.9" fill="#d62728"/><circle cx="118.8" cy="977.5" r="1.9" fill="#d62728"/><circle cx="121.4" cy="977.5" r="1.9" fill="#d62728"/><circle cx="121.4" cy="974.9" r="1.9" fill="#d62728"/><circle cx="126.6" cy="974.9" r="1.9" fill="#d62728"/><circle cx="126.6" cy="969.7" r="1.9" fill="#d62728"/><circle cx="129.2" cy="969.7" r="1.9" fill="#d62728"/><circle cx="129.2" cy="963.1" r="1.9" fill="#d62728"/><circle cx="131.5" cy="963.1" r="1.9" fill="#d62728"/><circle cx="131.5" cy="960.5" r="1.9" fill="#d62728"/><circle cx="133.4" cy="960.5" r="1.9" fill="#d62728"/><circle cx="133.4" cy="957.9" r="1.9" fill="#d62728"/><circle cx="135.4" cy="957.9" r="1.9" fill="#d62728"/><circle cx="135.4" cy="952.7" r="1.9" fill="#d62728"/><circle cx="138.0" cy="952.7" r="1.9" fill="#d62728"/><circle cx="149.0" cy="953.0" r="1.9" fill="#d62728"/><circle cx="149.0" cy="948.8" r="1.9" fill="#d62728"/><circle cx="149.0" cy="939.7" r="1.9" fill="#d62728"/><circle cx="150.3" cy="939.7" r="1.9" fill="#d62728"/><circle cx="150.3" cy="937.1" r="1.9" fill="#d62728"/><circle cx="153.9" cy="937.1" r="1.9" fill="#d62728"/><circle cx="153.9" cy="934.5" r="1.9" fill="#d62728"/><circle cx="157.4" cy="934.5" r="1.9" fill="#d62728"/><circle cx="157.4" cy="931.9" r="1.9" fill="#d62728"/><circle cx="160.7" cy="931.9" r="1.9" fill="#d62728"/><circle cx="160.7" cy="929.3" r="1.9" fill="#d62728"/><circle cx="163.9" cy="929.3" r="1.9" fill="#d62728"/><circle cx="163.9" cy="926.0" r="1.9" fill="#d62728"/><circle cx="165.9" cy="926.0" r="1.9" fill="#d62728"/><circle cx="165.9" cy="922.8" r="1.9" fill="#d62728"/><circle cx="167.8" cy="922.8" r="1.9" fill="#d62728"/><circle cx="167.8" cy="921.5" r="1.9" fill="#d62728"/><circle cx="178.2" cy="921.5" r="1.9" fill="#d62728"/><circle cx="178.2" cy="917.7" r="1.9" fill="#d62728"/><circle cx="179.5" cy="917.7" r="1.9" fill="#d62728"/><circle cx="179.5" cy="916.4" r="1.9" fill="#d62728"/><circle cx="189.9" cy="916.4" r="1.9" fill="#d62728"/><circle cx="189.9" cy="912.5" r="1.9" fill="#d62728"/><circle cx="191.2" cy="912.5" r="1.9" fill="#d62728"/><circle cx="191.2" cy="910.5" r="1.9" fill="#d62728"/><circle cx="193.4" cy="910.5" r="1.9" fill="#d62728"/><circle cx="193.4" cy="908.6" r="1.9" fill="#d62728"/><circle cx="195.7" cy="908.6" r="1.9" fill="#d62728"/><circle cx="217.8" cy="908.6" r="1.9" fill="#d62728"/><circle cx="218.4" cy="904.0" r="1.9" fill="#d62728"/><circle cx="218.4" cy="902.7" r="1.9" fill="#d62728"/><circle cx="226.2" cy="902.7" r="1.9" fill="#d62728"/><circle cx="226.2" cy="898.2" r="1.9" fill="#d62728"/><circle cx="227.5" cy="898.2" r="1.9" fill="#d62728"/><circle cx="227.5" cy="896.2" r="1.9" fill="#d62728"/><circle cx="229.4" cy="896.2" r="1.9" fill="#d62728"/><circle cx="229.4" cy="894.3" r="1.9" fill="#d62728"/><circle cx="231.4" cy="894.3" r="1.9" fill="#d62728"/><circle cx="244.5" cy="894.3" r="1.9" fill="#d62728"/><circle cx="244.5" cy="889.8" r="1.9" fill="#d62728"/><circle cx="262.1" cy="889.8" r="1.9" fill="#d62728"/><circle cx="262.1" cy="885.2" r="1.9" fill="#d62728"/><circle cx="275.0" cy="885.2" r="1.9" fill="#d62728"/><circle cx="275.0" cy="880.7" r="1.9" fill="#d62728"/><circle cx="282.8" cy="880.7" r="1.9" fill="#d62728"/><circle cx="282.8" cy="876.1" r="1.9" fill="#d62728"/><circle cx="291.2" cy="876.1" r="1.9" fill="#d62728"/><circle cx="291.2" cy="871.6" r="1.9" fill="#d62728"/><circle cx="322.4" cy="871.6" r="1.9" fill="#d62728"/><circle cx="322.4" cy="867.1" r="1.9" fill="#d62728"/><circle cx="379.1" cy="867.1" r="1.9" fill="#d62728"/><circle cx="379.1" cy="862.1" r="1.9" fill="#d62728"/><circle cx="421.8" cy="862.1" r="1.9" fill="#d62728"/><circle cx="421.8" cy="857.4" r="1.9" fill="#d62728"/><circle cx="470.0" cy="857.4" r="1.9" fill="#d62728"/><circle cx="470.0" cy="853.6" r="1.9" fill="#d62728"/><circle cx="485.3" cy="853.6" r="1.9" fill="#d62728"/>
<polyline points="53.4,1154.4 55.1,1147.4 59.0,1133.3 65.4,1123.1 73.1,1116.7 76.9,1102.6 80.8,1094.9 88.5,1084.6 94.9,1083.3 100.0,1071.8 103.8,1067.9 109.0,1060.3 112.8,1055.1 116.7,1052.6 117.9,1041.0 121.8,1038.5 125.0,1036.0 130.3,1024.1 134.3,1021.4 139.5,1018.8 143.5,1012.2 148.8,1008.2 155.4,1002.9 156.1,998.1 163.9,990.3 171.7,981.2 179.5,973.4 187.3,968.2 192.5,964.4 197.7,959.2 206.7,956.6 214.5,951.4 221.0,948.8 231.4,944.9 239.2,941.0 247.8,934.5 255.6,928.0 262.1,924.8 268.5,920.2 277.6,919.0 285.4,915.1 295.8,909.2 307.5,908.6 314.0,907.3 319.1,902.1 324.3,895.6 332.1,893.0 343.8,891.7 352.9,889.1 360.3,886.8 365.7,882.8 372.4,880.1 381.7,878.8 391.1,876.1 401.8,873.4 411.1,866.7 420.5,864.1 431.2,861.4 440.6,858.7 453.9,856.0 468.6,854.0 485.3,853.6" fill="none" stroke="#9467bd" stroke-width="3.9" stroke-linejoin="round" stroke-linecap="round"/>
<circle cx="53.4" cy="1154.4" r="1.9" fill="#9467bd"/><circle cx="55.1" cy="1147.4" r="1.9" fill="#9467bd"/><circle cx="59.0" cy="1133.3" r="1.9" fill="#9467bd"/><circle cx="65.4" cy="1123.1" r="1.9" fill="#9467bd"/><circle cx="73.1" cy="1116.7" r="1.9" fill="#9467bd"/><circle cx="76.9" cy="1102.6" r="1.9" fill="#9467bd"/><circle cx="80.8" cy="1094.9" r="1.9" fill="#9467bd"/><circle cx="88.5" cy="1084.6" r="1.9" fill="#9467bd"/><circle cx="94.9" cy="1083.3" r="1.9" fill="#9467bd"/><circle cx="100.0" cy="1071.8" r="1.9" fill="#9467bd"/><circle cx="103.8" cy="1067.9" r="1.9" fill="#9467bd"/><circle cx="109.0" cy="1060.3" r="1.9" fill="#9467bd"/><circle cx="112.8" cy="1055.1" r="1.9" fill="#9467bd"/><circle cx="116.7" cy="1052.6" r="1.9" fill="#9467bd"/><circle cx="117.9" cy="1041.0" r="1.9" fill="#9467bd"/><circle cx="121.8" cy="1038.5" r="1.9" fill="#9467bd"/><circle cx="125.0" cy="1036.0" r="1.9" fill="#9467bd"/><circle cx="130.3" cy="1024.1" r="1.9" fill="#9467bd"/><circle cx="134.3" cy="1021.4" r="1.9" fill="#9467bd"/><circle cx="139.5" cy="1018.8" r="1.9" fill="#9467bd"/><circle cx="143.5" cy="1012.2" r="1.9" fill="#9467bd"/><circle cx="148.8" cy="1008.2" r="1.9" fill="#9467bd"/><circle cx="155.4" cy="1002.9" r="1.9" fill="#9467bd"/><circle cx="156.1" cy="998.1" r="1.9" fill="#9467bd"/><circle cx="163.9" cy="990.3" r="1.9" fill="#9467bd"/><circle cx="171.7" cy="981.2" r="1.9" fill="#9467bd"/><circle cx="179.5" cy="973.4" r="1.9" fill="#9467bd"/><circle cx="187.3" cy="968.2" r="1.9" fill="#9467bd"/><circle cx="192.5" cy="964.4" r="1.9" fill="#9467bd"/><circle cx="197.7" cy="959.2" r="1.9" fill="#9467bd"/><circle cx="206.7" cy="956.6" r="1.9" fill="#9467bd"/><circle cx="214.5" cy="951.4" r="1.9" fill="#9467bd"/><circle cx="221.0" cy="948.8" r="1.9" fill="#9467bd"/><circle cx="231.4" cy="944.9" r="1.9" fill="#9467bd"/><circle cx="239.2" cy="941.0" r="1.9" fill="#9467bd"/><circle cx="247.8" cy="934.5" r="1.9" fill="#9467bd"/><circle cx="255.6" cy="928.0" r="1.9" fill="#9467bd"/><circle cx="262.1" cy="924.8" r="1.9" fill="#9467bd"/><circle cx="268.5" cy="920.2" r="1.9" fill="#9467bd"/><circle cx="277.6" cy="919.0" r="1.9" fill="#9467bd"/><circle cx="285.4" cy="915.1" r="1.9" fill="#9467bd"/><circle cx="295.8" cy="909.2" r="1.9" fill="#9467bd"/><circle cx="307.5" cy="908.6" r="1.9" fill="#9467bd"/><circle cx="314.0" cy="907.3" r="1.9" fill="#9467bd"/><circle cx="319.1" cy="902.1" r="1.9" fill="#9467bd"/><circle cx="324.3" cy="895.6" r="1.9" fill="#9467bd"/><circle cx="332.1" cy="893.0" r="1.9" fill="#9467bd"/><circle cx="343.8" cy="891.7" r="1.9" fill="#9467bd"/><circle cx="352.9" cy="889.1" r="1.9" fill="#9467bd"/><circle cx="360.3" cy="886.8" r="1.9" fill="#9467bd"/><circle cx="365.7" cy="882.8" r="1.9" fill="#9467bd"/><circle cx="372.4" cy="880.1" r="1.9" fill="#9467bd"/><circle cx="381.7" cy="878.8" r="1.9" fill="#9467bd"/><circle cx="391.1" cy="876.1" r="1.9" fill="#9467bd"/><circle cx="401.8" cy="873.4" r="1.9" fill="#9467bd"/><circle cx="411.1" cy="866.7" r="1.9" fill="#9467bd"/><circle cx="420.5" cy="864.1" r="1.9" fill="#9467bd"/><circle cx="431.2" cy="861.4" r="1.9" fill="#9467bd"/><circle cx="440.6" cy="858.7" r="1.9" fill="#9467bd"/><circle cx="453.9" cy="856.0" r="1.9" fill="#9467bd"/><circle cx="468.6" cy="854.0" r="1.9" fill="#9467bd"/><circle cx="485.3" cy="853.6" r="1.9" fill="#9467bd"/>
<polyline points="53.4,1154.4 62.2,1154.0 62.2,1141.7 64.7,1141.7 64.7,1128.2 64.7,1115.4 74.4,1115.4 74.4,1102.6 75.6,1089.1 75.6,1076.3 81.4,1076.3 81.4,1062.8 87.8,1062.8 87.8,1050.0 91.0,1050.0 91.0,1036.5 116.0,1036.5 116.0,1023.5 143.0,1023.5 143.0,1010.9 153.2,1010.9 153.2,997.5 162.6,997.5 162.6,984.5 193.1,984.5 193.1,971.5 195.1,957.9 261.4,957.9 261.4,944.9 262.1,931.7 322.4,931.7 322.4,919.0 337.3,919.0 337.3,905.7 339.9,892.4 379.7,892.4 379.7,879.4 415.8,879.4 415.8,866.7 445.9,866.7 445.9,853.6 485.3,853.6" fill="none" stroke="#8c564b" stroke-width="2" stroke-linejoin="round" stroke-linecap="round"/>
<circle cx="53.4" cy="1154.4" r="1.9" fill="#8c564b"/><circle cx="62.2" cy="1154.0" r="1.9" fill="#8c564b"/><circle cx="62.2" cy="1141.7" r="1.9" fill="#8c564b"/><circle cx="64.7" cy="1141.7" r="1.9" fill="#8c564b"/><circle cx="64.7" cy="1128.2" r="1.9" fill="#8c564b"/><circle cx="64.7" cy="1115.4" r="1.9" fill="#8c564b"/><circle cx="74.4" cy="1115.4" r="1.9" fill="#8c564b"/><circle cx="74.4" cy="1102.6" r="1.9" fill="#8c564b"/><circle cx="75.6" cy="1089.1" r="1.9" fill="#8c564b"/><circle cx="75.6" cy="1076.3" r="1.9" fill="#8c564b"/><circle cx="81.4" cy="1076.3" r="1.9" fill="#8c564b"/><circle cx="81.4" cy="1062.8" r="1.9" fill="#8c564b"/><circle cx="87.8" cy="1062.8" r="1.9" fill="#8c564b"/><circle cx="87.8" cy="1050.0" r="1.9" fill="#8c564b"/><circle cx="91.0" cy="1050.0" r="1.9" fill="#8c564b"/><circle cx="91.0" cy="1036.5" r="1.9" fill="#8c564b"/><circle cx="116.0" cy="1036.5" r="1.9" fill="#8c564b"/><circle cx="116.0" cy="1023.5" r="1.9" fill="#8c564b"/><circle cx="143.0" cy="1023.5" r="1.9" fill="#8c564b"/><circle cx="143.0" cy="1010.9" r="1.9" fill="#8c564b"/><circle cx="153.2" cy="1010.9" r="1.9" fill="#8c564b"/><circle cx="153.2" cy="997.5" r="1.9" fill="#8c564b"/><circle cx="162.6" cy="997.5" r="1.9" fill="#8c564b"/><circle cx="162.6" cy="984.5" r="1.9" fill="#8c564b"/><circle cx="193.1" cy="984.5" r="1.9" fill="#8c564b"/><circle cx="193.1" cy="971.5" r="1.9" fill="#8c564b"/><circle cx="195.1" cy="957.9" r="1.9" fill="#8c564b"/><circle cx="261.4" cy="957.9" r="1.9" fill="#8c564b"/><circle cx="261.4" cy="944.9" r="1.9" fill="#8c564b"/><circle cx="262.1" cy="931.7" r="1.9" fill="#8c564b"/><circle cx="322.4" cy="931.7" r="1.9" fill="#8c564b"/><circle cx="322.4" cy="919.0" r="1.9" fill="#8c564b"/><circle cx="337.3" cy="919.0" r="1.9" fill="#8c564b"/><circle cx="337.3" cy="905.7" r="1.9" fill="#8c564b"/><circle cx="339.9" cy="892.4" r="1.9" fill="#8c564b"/><circle cx="379.7" cy="892.4" r="1.9" fill="#8c564b"/><circle cx="379.7" cy="879.4" r="1.9" fill="#8c564b"/><circle cx="415.8" cy="879.4" r="1.9" fill="#8c564b"/><circle cx="415.8" cy="866.7" r="1.9" fill="#8c564b"/><circle cx="445.9" cy="866.7" r="1.9" fill="#8c564b"/><circle cx="445.9" cy="853.6" r="1.9" fill="#8c564b"/><circle cx="485.3" cy="853.6" r="1.9" fill="#8c564b"/>
<polyline points="53.4,1154.4 53.6,1153.8 53.6,1102.6 55.1,1102.6 55.8,1092.3 55.8,1081.4 57.7,1081.4 58.3,1060.9 62.2,1060.9 62.2,1039.7 64.7,1039.7 64.7,1030.1 75.6,1030.1 75.6,1019.2 87.2,1019.2 87.7,998.9 90.9,998.9 90.9,988.5 107.8,988.5 107.8,978.1 113.6,978.1 113.6,967.7 116.9,967.7 116.9,957.3 119.5,957.3 119.5,946.5 141.9,946.5 141.9,936.5 151.0,936.5 151.0,925.7 165.9,925.7 165.9,915.7 166.5,904.9 199.0,904.9 199.0,894.7 240.5,894.7 240.5,883.9 300.3,883.9 300.3,873.5 326.3,873.5 326.3,863.2 352.9,863.2 352.9,853.6 485.3,853.6" fill="none" stroke="#e377c2" stroke-width="2" stroke-linejoin="round" stroke-linecap="round"/>
<circle cx="53.4" cy="1154.4" r="1.9" fill="#e377c2"/><circle cx="53.6" cy="1153.8" r="1.9" fill="#e377c2"/><circle cx="53.6" cy="1102.6" r="1.9" fill="#e377c2"/><circle cx="55.1" cy="1102.6" r="1.9" fill="#e377c2"/><circle cx="55.8" cy="1092.3" r="1.9" fill="#e377c2"/><circle cx="55.8" cy="1081.4" r="1.9" fill="#e377c2"/><circle cx="57.7" cy="1081.4" r="1.9" fill="#e377c2"/><circle cx="58.3" cy="1060.9" r="1.9" fill="#e377c2"/><circle cx="62.2" cy="1060.9" r="1.9" fill="#e377c2"/><circle cx="62.2" cy="1039.7" r="1.9" fill="#e377c2"/><circle cx="64.7" cy="1039.7" r="1.9" fill="#e377c2"/><circle cx="64.7" cy="1030.1" r="1.9" fill="#e377c2"/><circle cx="75.6" cy="1030.1" r="1.9" fill="#e377c2"/><circle cx="75.6" cy="1019.2" r="1.9" fill="#e377c2"/><circle cx="87.2" cy="1019.2" r="1.9" fill="#e377c2"/><circle cx="87.7" cy="998.9" r="1.9" fill="#e377c2"/><circle cx="90.9" cy="998.9" r="1.9" fill="#e377c2"/><circle cx="90.9" cy="988.5" r="1.9" fill="#e377c2"/><circle cx="107.8" cy="988.5" r="1.9" fill="#e377c2"/><circle cx="107.8" cy="978.1" r="1.9" fill="#e377c2"/><circle cx="113.6" cy="978.1" r="1.9" fill="#e377c2"/><circle cx="113.6" cy="967.7" r="1.9" fill="#e377c2"/><circle cx="116.9" cy="967.7" r="1.9" fill="#e377c2"/><circle cx="116.9" cy="957.3" r="1.9" fill="#e377c2"/><circle cx="119.5" cy="957.3" r="1.9" fill="#e377c2"/><circle cx="119.5" cy="946.5" r="1.9" fill="#e377c2"/><circle cx="141.9" cy="946.5" r="1.9" fill="#e377c2"/><circle cx="141.9" cy="936.5" r="1.9" fill="#e377c2"/><circle cx="151.0" cy="936.5" r="1.9" fill="#e377c2"/><circle cx="151.0" cy="925.7" r="1.9" fill="#e377c2"/><circle cx="165.9" cy="925.7" r="1.9" fill="#e377c2"/><circle cx="165.9" cy="915.7" r="1.9" fill="#e377c2"/><circle cx="166.5" cy="904.9" r="1.9" fill="#e377c2"/><circle cx="199.0" cy="904.9" r="1.9" fill="#e377c2"/><circle cx="199.0" cy="894.7" r="1.9" fill="#e377c2"/><circle cx="240.5" cy="894.7" r="1.9" fill="#e377c2"/><circle cx="240.5" cy="883.9" r="1.9" fill="#e377c2"/><circle cx="300.3" cy="883.9" r="1.9" fill="#e377c2"/><circle cx="300.3" cy="873.5" r="1.9" fill="#e377c2"/><circle cx="326.3" cy="873.5" r="1.9" fill="#e377c2"/><circle cx="326.3" cy="863.2" r="1.9" fill="#e377c2"/><circle cx="352.9" cy="863.2" r="1.9" fill="#e377c2"/><circle cx="352.9" cy="853.6" r="1.9" fill="#e377c2"/><circle cx="485.3" cy="853.6" r="1.9" fill="#e377c2"/>
</g>
<rect x="53.4" y="838.6" width="431.90" height="315.80" fill="none" stroke="#000" stroke-width="1.25"/>
<line x1="53.40" y1="1154.4" x2="53.40" y2="1158.00" class="t"/>
<line x1="49.80" y1="1154.40" x2="53.4" y2="1154.40" class="t"/>
<text x="45.40" y="1169.20" class="tk" textLength="16" lengthAdjust="spacingAndGlyphs">0.0</text>
<text x="30.90" y="1158.60" class="tk" textLength="16" lengthAdjust="spacingAndGlyphs">0.0</text>
<line x1="139.78" y1="1154.4" x2="139.78" y2="1158.00" class="t"/>
<line x1="49.80" y1="1094.25" x2="53.4" y2="1094.25" class="t"/>
<text x="131.78" y="1169.20" class="tk" textLength="16" lengthAdjust="spacingAndGlyphs">0.2</text>
<text x="30.90" y="1098.45" class="tk" textLength="16" lengthAdjust="spacingAndGlyphs">0.2</text>
<line x1="226.16" y1="1154.4" x2="226.16" y2="1158.00" class="t"/>
<line x1="49.80" y1="1034.10" x2="53.4" y2="1034.10" class="t"/>
<text x="218.16" y="1169.20" class="tk" textLength="16" lengthAdjust="spacingAndGlyphs">0.4</text>
<text x="30.90" y="1038.30" class="tk" textLength="16" lengthAdjust="spacingAndGlyphs">0.4</text>
<line x1="312.54" y1="1154.4" x2="312.54" y2="1158.00" class="t"/>
<line x1="49.80" y1="973.94" x2="53.4" y2="973.94" class="t"/>
<text x="304.54" y="1169.20" class="tk" textLength="16" lengthAdjust="spacingAndGlyphs">0.6</text>
<text x="30.90" y="978.14" class="tk" textLength="16" lengthAdjust="spacingAndGlyphs">0.6</text>
<line x1="398.92" y1="1154.4" x2="398.92" y2="1158.00" class="t"/>
<line x1="49.80" y1="913.79" x2="53.4" y2="913.79" class="t"/>
<text x="390.92" y="1169.20" class="tk" textLength="16" lengthAdjust="spacingAndGlyphs">0.8</text>
<text x="30.90" y="917.99" class="tk" textLength="16" lengthAdjust="spacingAndGlyphs">0.8</text>
<line x1="485.30" y1="1154.4" x2="485.30" y2="1158.00" class="t"/>
<line x1="49.80" y1="853.64" x2="53.4" y2="853.64" class="t"/>
<text x="477.30" y="1169.20" class="tk" textLength="16" lengthAdjust="spacingAndGlyphs">1.0</text>
<text x="30.90" y="857.84" class="tk" textLength="16" lengthAdjust="spacingAndGlyphs">1.0</text>
<text x="269.35" y="1182.20" text-anchor="middle" class="al" textLength="90.3" lengthAdjust="spacingAndGlyphs">False Positive Rate</text>
<text transform="translate(25.80,996.50) rotate(-90)" x="0" y="0" text-anchor="middle" class="al" textLength="86.6" lengthAdjust="spacingAndGlyphs">True Positive Rate</text>
</g>
<g id="pf">
<clipPath id="cf"><rect x="559.2" y="840.1" width="427.50" height="312.40"/></clipPath>
<line x1="644.70" y1="1152.5" x2="644.70" y2="840.1" class="g"/>
<line x1="559.2" y1="1093.00" x2="986.7" y2="1093.00" class="g"/>
<line x1="730.20" y1="1152.5" x2="730.20" y2="840.1" class="g"/>
<line x1="559.2" y1="1033.49" x2="986.7" y2="1033.49" class="g"/>
<line x1="815.70" y1="1152.5" x2="815.70" y2="840.1" class="g"/>
<line x1="559.2" y1="973.99" x2="986.7" y2="973.99" class="g"/>
<line x1="901.20" y1="1152.5" x2="901.20" y2="840.1" class="g"/>
<line x1="559.2" y1="914.48" x2="986.7" y2="914.48" class="g"/>
<line x1="986.70" y1="1152.5" x2="986.70" y2="840.1" class="g"/>
<line x1="559.2" y1="854.98" x2="986.7" y2="854.98" class="g"/>
<g clip-path="url(#cf)">
<line x1="559.2" y1="1152.5" x2="986.7" y2="854.98" class="dg"/>
<polyline points="559.20,1152.50 561.10,1139.40 562.60,1129.60 564.80,1119.80 567.00,1110.00 569.20,1101.30 571.30,1091.50 576.80,1083.90 580.10,1074.10 583.30,1065.40 587.70,1057.70 593.10,1049.00 596.40,1040.30 600.80,1033.80 606.20,1026.10 612.70,1019.20 618.20,1011.00 622.50,1004.50 629.10,996.90 635.60,990.30 642.10,983.80 647.60,977.30 655.20,971.80 661.80,965.30 668.30,959.80 674.80,953.30 683.50,947.80 691.20,944.60 698.80,939.10 705.30,933.70 714.00,931.10 722.80,928.20 731.50,924.50 740.20,921.70 748.90,917.30 757.60,914.10 766.30,908.60 774.10,904.90 783.20,902.60 792.30,900.40 801.40,898.10 810.50,895.10 819.70,892.80 826.50,889.00 835.60,885.50 844.70,881.40 853.80,879.90 862.90,876.40 872.00,874.60 881.10,871.40 890.30,868.90 899.40,868.00 909.60,866.20 917.60,863.20 927.80,861.60 938.10,860.50 947.20,858.70 949.50,855.90 958.60,855.50 970.00,855.00 986.70,855.00" fill="none" stroke="#000080" stroke-width="4.2" stroke-dasharray="4.5 6.1"/>
<polyline points="559.20,1152.50 559.80,1130.70 560.40,1108.90 561.10,1087.10 562.00,1065.40 563.30,1043.60 564.80,1026.10 566.30,1010.90 568.10,1003.00 569.80,992.50 572.40,977.30 575.70,966.40 575.70,965.60 576.00,965.60 576.00,964.80 576.30,964.80 576.30,964.00 576.60,964.00 576.60,963.20 576.90,963.20 576.90,962.40 577.20,962.40 577.20,961.60 577.50,961.60 577.50,960.80 577.80,960.80 577.80,960.00 578.10,960.00 578.10,959.20 578.40,959.20 578.40,958.40 578.70,958.40 578.70,957.60 579.00,957.60 579.00,956.84 579.32,956.84 579.32,956.08 579.64,956.08 579.64,955.32 579.96,955.32 579.96,954.56 580.28,954.56 580.28,953.80 580.60,953.80 580.60,953.04 580.92,953.04 580.92,952.28 581.24,952.28 581.24,951.52 581.56,951.52 581.56,950.76 581.88,950.76 581.88,950.00 582.20,950.00 582.20,949.31 583.00,949.31 583.00,948.62 583.80,948.62 583.80,947.93 584.60,947.93 584.60,947.24 585.40,947.24 585.40,946.55 586.20,946.55 586.20,945.85 587.00,945.85 587.00,945.16 587.80,945.16 587.80,944.47 588.60,944.47 588.60,943.78 589.40,943.78 589.40,943.09 590.20,943.09 590.20,942.40 591.00,942.40 591.00,941.75 591.79,941.75 591.79,941.09 592.59,941.09 592.59,940.44 593.38,940.44 593.38,939.79 594.17,939.79 594.17,939.13 594.97,939.13 594.97,938.48 595.76,938.48 595.76,937.83 596.55,937.83 596.55,937.17 597.35,937.17 597.35,936.52 598.14,936.52 598.14,935.87 598.93,935.87 598.93,935.21 599.73,935.21 599.73,934.56 600.52,934.56 600.52,933.91 601.31,933.91 601.31,933.25 602.11,933.25 602.11,932.60 602.90,932.60 602.90,932.09 603.67,932.09 603.67,931.58 604.44,931.58 604.44,931.06 605.21,931.06 605.21,930.55 605.98,930.55 605.98,930.04 606.75,930.04 606.75,929.53 607.52,929.53 607.52,929.02 608.29,929.02 608.29,928.51 609.06,928.51 609.06,927.99 609.84,927.99 609.84,927.48 610.61,927.48 610.61,926.97 611.38,926.97 611.38,926.46 612.15,926.46 612.15,925.95 612.92,925.95 612.92,925.44 613.69,925.44 613.69,924.92 614.46,924.92 614.46,924.41 615.23,924.41 615.23,923.90 616.00,923.90 616.00,923.45 616.77,923.45 616.77,923.01 617.54,923.01 617.54,922.56 618.31,922.56 618.31,922.11 619.08,922.11 619.08,921.66 619.85,921.66 619.85,921.22 620.62,921.22 620.62,920.77 621.39,920.77 621.39,920.32 622.16,920.32 622.16,919.88 622.94,919.88 622.94,919.43 623.71,919.43 623.71,918.98 624.48,918.98 624.48,918.54 625.25,918.54 625.25,918.09 626.02,918.09 626.02,917.64 626.79,917.64 626.79,917.19 627.56,917.19 627.56,916.75 628.33,916.75 628.33,916.30 629.10,916.30 629.10,915.75 629.88,915.75 629.88,915.20 630.66,915.20 630.66,914.65 631.44,914.65 631.44,914.10 632.21,914.10 632.21,913.55 632.99,913.55 632.99,913.00 633.77,913.00 633.77,912.45 634.55,912.45 634.55,911.90 635.33,911.90 635.33,911.35 636.11,911.35 636.11,910.80 636.89,910.80 636.89,910.25 637.66,910.25 637.66,909.70 638.44,909.70 638.44,909.15 639.22,909.15 639.22,908.60 640.00,908.60 640.00,908.29 640.78,908.29 640.78,907.99 641.56,907.99 641.56,907.68 642.34,907.68 642.34,907.37 643.11,907.37 643.11,907.06 643.89,907.06 643.89,906.76 644.67,906.76 644.67,906.45 645.45,906.45 645.45,906.14 646.23,906.14 646.23,905.84 647.01,905.84 647.01,905.53 647.79,905.53 647.79,905.22 648.56,905.22 648.56,904.91 649.34,904.91 649.34,904.61 650.12,904.61 650.12,904.30 650.90,904.30 650.90,903.98 651.66,903.98 651.66,903.65 652.43,903.65 652.43,903.33 653.19,903.33 653.19,903.01 653.96,903.01 653.96,902.68 654.72,902.68 654.72,902.36 655.49,902.36 655.49,902.04 656.25,902.04 656.25,901.71 657.02,901.71 657.02,901.39 657.78,901.39 657.78,901.06 658.55,901.06 658.55,900.74 659.31,900.74 659.31,900.42 660.08,900.42 660.08,900.09 660.84,900.09 660.84,899.77 661.61,899.77 661.61,899.45 662.37,899.45 662.37,899.12 663.14,899.12 663.14,898.80 663.90,898.80 663.90,898.48 664.67,898.48 664.67,898.16 665.44,898.16 665.44,897.85 666.21,897.85 666.21,897.53 666.98,897.53 666.98,897.21 667.75,897.21 667.75,896.89 668.52,896.89 668.52,896.58 669.29,896.58 669.29,896.26 670.06,896.26 670.06,895.94 670.84,895.94 670.84,895.62 671.61,895.62 671.61,895.31 672.38,895.31 672.38,894.99 673.15,894.99 673.15,894.67 673.92,894.67 673.92,894.35 674.69,894.35 674.69,894.04 675.46,894.04 675.46,893.72 676.23,893.72 676.23,893.40 677.00,893.40 677.00,893.10 677.79,893.10 677.79,892.80 678.58,892.80 678.58,892.50 679.37,892.50 679.37,892.20 680.16,892.20 680.16,891.90 680.95,891.90 680.95,891.60 681.75,891.60 681.75,891.30 682.54,891.30 682.54,891.00 683.33,891.00 683.33,890.70 684.12,890.70 684.12,890.40 684.91,890.40 684.91,890.10 685.70,890.10 685.70,889.78 686.47,889.78 686.47,889.46 687.24,889.46 687.24,889.15 688.01,889.15 688.01,888.83 688.78,888.83 688.78,888.51 689.55,888.51 689.55,888.19 690.32,888.19 690.32,887.88 691.09,887.88 691.09,887.56 691.86,887.56 691.86,887.24 692.64,887.24 692.64,886.92 693.41,886.92 693.41,886.61 694.18,886.61 694.18,886.29 694.95,886.29 694.95,885.97 695.72,885.97 695.72,885.65 696.49,885.65 696.49,885.34 697.26,885.34 697.26,885.02 698.03,885.02 698.03,884.70 698.80,884.70 698.80,884.39 699.58,884.39 699.58,884.07 700.36,884.07 700.36,883.76 701.14,883.76 701.14,883.44 701.91,883.44 701.91,883.13 702.69,883.13 702.69,882.81 703.47,882.81 703.47,882.50 704.25,882.50 704.25,882.19 705.03,882.19 705.03,881.87 705.81,881.87 705.81,881.56 706.59,881.56 706.59,881.24 707.36,881.24 707.36,880.93 708.14,880.93 708.14,880.61 708.92,880.61 708.92,880.30 709.70,880.30 709.70,879.91 710.48,879.91 710.48,879.53 711.26,879.53 711.26,879.14 712.04,879.14 712.04,878.76 712.81,878.76 712.81,878.37 713.59,878.37 713.59,877.99 714.37,877.99 714.37,877.60 715.15,877.60 715.15,877.21 715.93,877.21 715.93,876.83 716.71,876.83 716.71,876.44 717.49,876.44 717.49,876.06 718.26,876.06 718.26,875.67 719.04,875.67 719.04,875.29 719.82,875.29 719.82,874.90 720.60,874.90 720.60,874.60 721.39,874.60 721.39,874.30 722.18,874.30 722.18,874.00 722.97,874.00 722.97,873.70 723.76,873.70 723.76,873.40 724.55,873.40 724.55,873.10 725.35,873.10 725.35,872.80 726.14,872.80 726.14,872.50 726.93,872.50 726.93,872.20 727.72,872.20 727.72,871.90 728.51,871.90 728.51,871.60 729.30,871.60 729.30,871.36 730.08,871.36 730.08,871.13 730.86,871.13 730.86,870.89 731.64,870.89 731.64,870.66 732.41,870.66 732.41,870.42 733.19,870.42 733.19,870.19 733.97,870.19 733.97,869.95 734.75,869.95 734.75,869.71 735.53,869.71 735.53,869.48 736.31,869.48 736.31,869.24 737.09,869.24 737.09,869.01 737.86,869.01 737.86,868.77 738.64,868.77 738.64,868.54 739.42,868.54 739.42,868.30 740.20,868.30 751.10,866.10 765.00,864.00 776.40,862.30 787.80,861.20 801.40,860.50 815.10,859.60 833.30,858.70 856.10,857.80 878.90,856.90 897.10,855.90 924.40,855.30 958.60,854.80 986.70,855.00" fill="none" stroke="#ff1493" stroke-width="4.2" stroke-dasharray="4.5 6.1"/>
</g>
<rect x="559.2" y="840.1" width="427.50" height="312.40" fill="none" stroke="#000" stroke-width="1.25"/>
<line x1="559.20" y1="1152.5" x2="559.20" y2="1156.10" class="t"/>
<line x1="555.60" y1="1152.50" x2="559.2" y2="1152.50" class="t"/>
<text x="551.20" y="1167.30" class="tk" textLength="16" lengthAdjust="spacingAndGlyphs">0.0</text>
<text x="536.70" y="1156.70" class="tk" textLength="16" lengthAdjust="spacingAndGlyphs">0.0</text>
<line x1="644.70" y1="1152.5" x2="644.70" y2="1156.10" class="t"/>
<line x1="555.60" y1="1093.00" x2="559.2" y2="1093.00" class="t"/>
<text x="636.70" y="1167.30" class="tk" textLength="16" lengthAdjust="spacingAndGlyphs">0.2</text>
<text x="536.70" y="1097.20" class="tk" textLength="16" lengthAdjust="spacingAndGlyphs">0.2</text>
<line x1="730.20" y1="1152.5" x2="730.20" y2="1156.10" class="t"/>
<line x1="555.60" y1="1033.49" x2="559.2" y2="1033.49" class="t"/>
<text x="722.20" y="1167.30" class="tk" textLength="16" lengthAdjust="spacingAndGlyphs">0.4</text>
<text x="536.70" y="1037.69" class="tk" textLength="16" lengthAdjust="spacingAndGlyphs">0.4</text>
<line x1="815.70" y1="1152.5" x2="815.70" y2="1156.10" class="t"/>
<line x1="555.60" y1="973.99" x2="559.2" y2="973.99" class="t"/>
<text x="807.70" y="1167.30" class="tk" textLength="16" lengthAdjust="spacingAndGlyphs">0.6</text>
<text x="536.70" y="978.19" class="tk" textLength="16" lengthAdjust="spacingAndGlyphs">0.6</text>
<line x1="901.20" y1="1152.5" x2="901.20" y2="1156.10" class="t"/>
<line x1="555.60" y1="914.48" x2="559.2" y2="914.48" class="t"/>
<text x="893.20" y="1167.30" class="tk" textLength="16" lengthAdjust="spacingAndGlyphs">0.8</text>
<text x="536.70" y="918.68" class="tk" textLength="16" lengthAdjust="spacingAndGlyphs">0.8</text>
<line x1="986.70" y1="1152.5" x2="986.70" y2="1156.10" class="t"/>
<line x1="555.60" y1="854.98" x2="559.2" y2="854.98" class="t"/>
<text x="978.70" y="1167.30" class="tk" textLength="16" lengthAdjust="spacingAndGlyphs">1.0</text>
<text x="536.70" y="859.18" class="tk" textLength="16" lengthAdjust="spacingAndGlyphs">1.0</text>
<text x="772.95" y="1180.30" text-anchor="middle" class="al" textLength="89.4" lengthAdjust="spacingAndGlyphs">False Positive Rate</text>
<text transform="translate(532.00,996.30) rotate(-90)" x="0" y="0" text-anchor="middle" class="al" textLength="86.2" lengthAdjust="spacingAndGlyphs">True Positive Rate</text>
</g>
<rect x="353.7" y="224.5" width="125.90" height="102.40" rx="2.2" fill="#fff" fill-opacity="0.85" stroke="#d6d6d6" stroke-width="1"/>
<line x1="356.6" y1="232.30" x2="377.9" y2="232.30" stroke="#1f77b4" stroke-width="2"/>
<circle cx="367.25" cy="232.30" r="1.9" fill="#1f77b4"/>
<text x="384.9" y="235.80" class="lg" textLength="91.9" lengthAdjust="spacingAndGlyphs">akiec (AUC:58.7%)</text>
<line x1="356.6" y1="246.70" x2="377.9" y2="246.70" stroke="#ff7f0e" stroke-width="2"/>
<circle cx="367.25" cy="246.70" r="1.9" fill="#ff7f0e"/>
<text x="384.9" y="250.20" class="lg" textLength="83.4" lengthAdjust="spacingAndGlyphs">bcc (AUC:65.1%)</text>
<line x1="356.6" y1="261.10" x2="377.9" y2="261.10" stroke="#2ca02c" stroke-width="2"/>
<circle cx="367.25" cy="261.10" r="1.9" fill="#2ca02c"/>
<text x="384.9" y="264.60" class="lg" textLength="80.9" lengthAdjust="spacingAndGlyphs">bkl (AUC:84.9%)</text>
<line x1="356.6" y1="275.30" x2="377.9" y2="275.30" stroke="#d62728" stroke-width="2"/>
<circle cx="367.25" cy="275.30" r="1.9" fill="#d62728"/>
<text x="384.9" y="278.80" class="lg" textLength="76.0" lengthAdjust="spacingAndGlyphs">df (AUC:78.0%)</text>
<line x1="356.6" y1="289.50" x2="377.9" y2="289.50" stroke="#9467bd" stroke-width="2"/>
<circle cx="367.25" cy="289.50" r="1.9" fill="#9467bd"/>
<text x="384.9" y="293.00" class="lg" textLength="78.2" lengthAdjust="spacingAndGlyphs">nv (AUC:70.4%)</text>
<line x1="356.6" y1="303.90" x2="377.9" y2="303.90" stroke="#8c564b" stroke-width="2"/>
<circle cx="367.25" cy="303.90" r="1.9" fill="#8c564b"/>
<text x="384.9" y="307.40" class="lg" textLength="88.3" lengthAdjust="spacingAndGlyphs">vasc (AUC:66.2%)</text>
<line x1="356.6" y1="318.00" x2="377.9" y2="318.00" stroke="#e377c2" stroke-width="2"/>
<circle cx="367.25" cy="318.00" r="1.9" fill="#e377c2"/>
<text x="384.9" y="321.50" class="lg" textLength="84.5" lengthAdjust="spacingAndGlyphs">mel (AUC:80.5%)</text>
<rect x="353.4" y="635.6" width="124.70" height="101.00" rx="2.2" fill="#fff" fill-opacity="0.85" stroke="#d6d6d6" stroke-width="1"/>
<line x1="356.0" y1="643.10" x2="377.1" y2="643.10" stroke="#1f77b4" stroke-width="2"/>
<circle cx="366.55" cy="643.10" r="1.9" fill="#1f77b4"/>
<text x="384.3" y="646.60" class="lg" textLength="91.4" lengthAdjust="spacingAndGlyphs">akiec (AUC:65.0%)</text>
<line x1="356.0" y1="657.20" x2="377.1" y2="657.20" stroke="#ff7f0e" stroke-width="2"/>
<circle cx="366.55" cy="657.20" r="1.9" fill="#ff7f0e"/>
<text x="384.3" y="660.70" class="lg" textLength="82.5" lengthAdjust="spacingAndGlyphs">bcc (AUC:72.4%)</text>
<line x1="356.0" y1="671.40" x2="377.1" y2="671.40" stroke="#2ca02c" stroke-width="2"/>
<circle cx="366.55" cy="671.40" r="1.9" fill="#2ca02c"/>
<text x="384.3" y="674.90" class="lg" textLength="80.3" lengthAdjust="spacingAndGlyphs">bkl (AUC:82.2%)</text>
<line x1="356.0" y1="685.50" x2="377.1" y2="685.50" stroke="#d62728" stroke-width="2"/>
<circle cx="366.55" cy="685.50" r="1.9" fill="#d62728"/>
<text x="384.3" y="689.00" class="lg" textLength="75.1" lengthAdjust="spacingAndGlyphs">df (AUC:81.0%)</text>
<line x1="356.0" y1="699.50" x2="377.1" y2="699.50" stroke="#9467bd" stroke-width="2"/>
<circle cx="366.55" cy="699.50" r="1.9" fill="#9467bd"/>
<text x="384.3" y="703.00" class="lg" textLength="77.3" lengthAdjust="spacingAndGlyphs">nv (AUC:71.3%)</text>
<line x1="356.0" y1="713.90" x2="377.1" y2="713.90" stroke="#8c564b" stroke-width="2"/>
<circle cx="366.55" cy="713.90" r="1.9" fill="#8c564b"/>
<text x="384.3" y="717.40" class="lg" textLength="87.7" lengthAdjust="spacingAndGlyphs">vasc (AUC:58.2%)</text>
<line x1="356.0" y1="728.00" x2="377.1" y2="728.00" stroke="#e377c2" stroke-width="2"/>
<circle cx="366.55" cy="728.00" r="1.9" fill="#e377c2"/>
<text x="384.3" y="731.50" class="lg" textLength="84.0" lengthAdjust="spacingAndGlyphs">mel (AUC:84.0%)</text>
<rect x="354.9" y="1047.4" width="124.70" height="101.50" rx="2.2" fill="#fff" fill-opacity="0.85" stroke="#d6d6d6" stroke-width="1"/>
<line x1="357.8" y1="1054.90" x2="379.1" y2="1054.90" stroke="#1f77b4" stroke-width="2"/>
<circle cx="368.45" cy="1054.90" r="1.9" fill="#1f77b4"/>
<text x="386.3" y="1058.40" class="lg" textLength="90.9" lengthAdjust="spacingAndGlyphs">akiec (AUC:66.8%)</text>
<line x1="357.8" y1="1069.30" x2="379.1" y2="1069.30" stroke="#ff7f0e" stroke-width="2"/>
<circle cx="368.45" cy="1069.30" r="1.9" fill="#ff7f0e"/>
<text x="386.3" y="1072.80" class="lg" textLength="82.4" lengthAdjust="spacingAndGlyphs">bcc (AUC:73.7%)</text>
<line x1="357.8" y1="1083.40" x2="379.1" y2="1083.40" stroke="#2ca02c" stroke-width="2"/>
<circle cx="368.45" cy="1083.40" r="1.9" fill="#2ca02c"/>
<text x="386.3" y="1086.90" class="lg" textLength="80.1" lengthAdjust="spacingAndGlyphs">bkl (AUC:86.8%)</text>
<line x1="357.8" y1="1097.60" x2="379.1" y2="1097.60" stroke="#d62728" stroke-width="2"/>
<circle cx="368.45" cy="1097.60" r="1.9" fill="#d62728"/>
<text x="386.3" y="1101.10" class="lg" textLength="75.0" lengthAdjust="spacingAndGlyphs">df (AUC:80.2%)</text>
<line x1="357.8" y1="1111.90" x2="379.1" y2="1111.90" stroke="#9467bd" stroke-width="2"/>
<circle cx="368.45" cy="1111.90" r="1.9" fill="#9467bd"/>
<text x="386.3" y="1115.40" class="lg" textLength="77.5" lengthAdjust="spacingAndGlyphs">nv (AUC:69.2%)</text>
<line x1="357.8" y1="1126.10" x2="379.1" y2="1126.10" stroke="#8c564b" stroke-width="2"/>
<circle cx="368.45" cy="1126.10" r="1.9" fill="#8c564b"/>
<text x="386.3" y="1129.60" class="lg" textLength="87.2" lengthAdjust="spacingAndGlyphs">vasc (AUC:68.0%)</text>
<line x1="357.8" y1="1140.30" x2="379.1" y2="1140.30" stroke="#e377c2" stroke-width="2"/>
<circle cx="368.45" cy="1140.30" r="1.9" fill="#e377c2"/>
<text x="386.3" y="1143.80" class="lg" textLength="83.5" lengthAdjust="spacingAndGlyphs">mel (AUC:84.1%)</text>
<rect x="749.8" y="295.7" width="231.50" height="30.70" rx="2.2" fill="#fff" fill-opacity="0.85" stroke="#d6d6d6" stroke-width="1"/>
<line x1="753.3" y1="303.30" x2="774.50" y2="303.30" stroke="#ff1493" stroke-width="4.2" stroke-dasharray="4.2 6.4"/>
<text x="781.0" y="306.80" class="lg" textLength="194.2" lengthAdjust="spacingAndGlyphs">micro-average ROC curve (area = 0.89)</text>
<line x1="753.3" y1="317.60" x2="774.50" y2="317.60" stroke="#000080" stroke-width="4.2" stroke-dasharray="4.2 6.4"/>
<text x="781.0" y="321.10" class="lg" textLength="197.4" lengthAdjust="spacingAndGlyphs">macro-average ROC curve (area = 0.72)</text>
<rect x="748.7" y="708.7" width="227.70" height="29.70" rx="2.2" fill="#fff" fill-opacity="0.85" stroke="#d6d6d6" stroke-width="1"/>
<line x1="751.6" y1="716.10" x2="772.80" y2="716.10" stroke="#ff1493" stroke-width="4.2" stroke-dasharray="4.2 6.4"/>
<text x="779.1" y="719.60" class="lg" textLength="191.9" lengthAdjust="spacingAndGlyphs">micro-average ROC curve (area = 0.90)</text>
<line x1="751.6" y1="730.20" x2="772.80" y2="730.20" stroke="#000080" stroke-width="4.2" stroke-dasharray="4.2 6.4"/>
<text x="779.1" y="733.70" class="lg" textLength="195.4" lengthAdjust="spacingAndGlyphs">macro-average ROC curve (area = 0.73)</text>
<rect x="753.6" y="1117.4" width="227.70" height="29.70" rx="2.2" fill="#fff" fill-opacity="0.85" stroke="#d6d6d6" stroke-width="1"/>
<line x1="757.3" y1="1124.90" x2="778.50" y2="1124.90" stroke="#ff1493" stroke-width="4.2" stroke-dasharray="4.2 6.4"/>
<text x="784.6" y="1128.40" class="lg" textLength="190.6" lengthAdjust="spacingAndGlyphs">micro-average ROC curve (area = 0.90)</text>
<line x1="757.3" y1="1139.00" x2="778.50" y2="1139.00" stroke="#000080" stroke-width="4.2" stroke-dasharray="4.2 6.4"/>
<text x="784.6" y="1142.50" class="lg" textLength="194.3" lengthAdjust="spacingAndGlyphs">macro-average ROC curve (area = 0.76)</text>
<text x="170.8" y="390.8" class="cap" textLength="163.4" lengthAdjust="spacingAndGlyphs">(<tspan font-weight="bold">a</tspan>) Cross-entropy (CE).</text>
<text x="647.8" y="390.7" class="cap" textLength="210.9" lengthAdjust="spacingAndGlyphs">(<tspan font-weight="bold">b</tspan>) Cross-entropy (CE), mean.</text>
<text x="131.6" y="801.6" class="cap" textLength="245.3" lengthAdjust="spacingAndGlyphs">(<tspan font-weight="bold">c</tspan>) Weighted cross-entropy (WCE).</text>
<text x="605.9" y="801.7" class="cap" textLength="295.9" lengthAdjust="spacingAndGlyphs">(<tspan font-weight="bold">d</tspan>) Weighted cross-entropy (WCE), mean.</text>
<text x="121.5" y="1212.6" class="cap" textLength="265.4" lengthAdjust="spacingAndGlyphs">(<tspan font-weight="bold">e</tspan>) Focal area under the curve (AUC).</text>
<text x="599.6" y="1212.6" class="cap" textLength="310.7" lengthAdjust="spacingAndGlyphs">(<tspan font-weight="bold">f</tspan>) Focal area under the curve (AUC), mean.</text>
</svg>
</body></html>
